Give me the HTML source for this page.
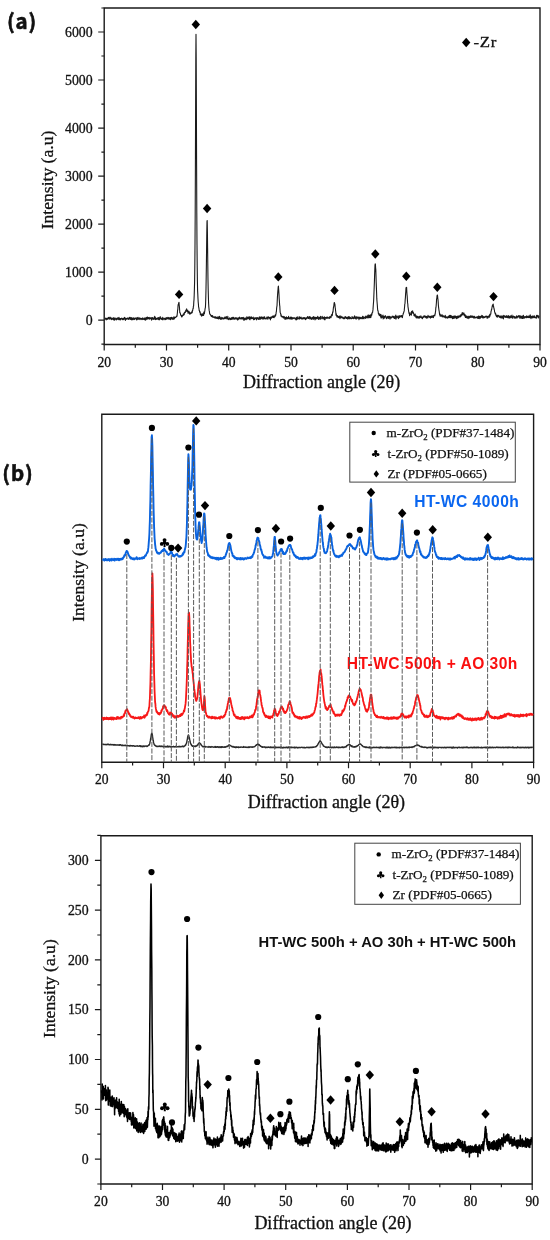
<!DOCTYPE html>
<html><head><meta charset="utf-8"><title>XRD patterns</title>
<style>html,body{margin:0;padding:0;background:#fff;}svg{display:block;}</style></head>
<body><svg width="550" height="1240" viewBox="0 0 550 1240">
<rect width="550" height="1240" fill="#fff"/>
<path d="M104.2 8.0H540.0V344.5H104.2Z" fill="none" stroke="#1a1a1a" stroke-width="1.4"/><path d="M104.2 344.5v6M135.3 344.5v3.2M166.5 344.5v6M197.6 344.5v3.2M228.7 344.5v6M259.8 344.5v3.2M291.0 344.5v6M322.1 344.5v3.2M353.2 344.5v6M384.4 344.5v3.2M415.5 344.5v6M446.6 344.5v3.2M477.7 344.5v6M508.9 344.5v3.2M540.0 344.5v6M104.2 344.2h-2.8M104.2 320.2h-6M104.2 296.2h-2.8M104.2 272.2h-6M104.2 248.2h-2.8M104.2 224.1h-6M104.2 200.1h-2.8M104.2 176.1h-6M104.2 152.1h-2.8M104.2 128.1h-6M104.2 104.1h-2.8M104.2 80.0h-6M104.2 56.0h-2.8M104.2 32.0h-6M104.2 8.0h-2.8" stroke="#1a1a1a" stroke-width="1.2" fill="none"/><g font-family="'Liberation Serif', 'Times New Roman', serif" font-size="13.8" fill="#111" stroke="#111" stroke-width="0.3" text-anchor="end"><text x="92.6" y="324.9">0</text><text x="92.6" y="276.9">1000</text><text x="92.6" y="228.8">2000</text><text x="92.6" y="180.8">3000</text><text x="92.6" y="132.8">4000</text><text x="92.6" y="84.7">5000</text><text x="92.6" y="36.7">6000</text></g><g font-family="'Liberation Serif', 'Times New Roman', serif" font-size="13.6" fill="#111" stroke="#111" stroke-width="0.3" text-anchor="middle"><text x="104.2" y="367.0">20</text><text x="166.5" y="367.0">30</text><text x="228.7" y="367.0">40</text><text x="291.0" y="367.0">50</text><text x="353.2" y="367.0">60</text><text x="415.5" y="367.0">70</text><text x="477.7" y="367.0">80</text><text x="540.0" y="367.0">90</text></g><text x="321.6" y="388.4" font-family="'Liberation Serif', 'Times New Roman', serif" font-size="18" fill="#111" stroke="#111" stroke-width="0.3" text-anchor="middle">Diffraction angle (2θ)</text><text transform="translate(53.2 180.0) rotate(-90)" font-family="'Liberation Serif', 'Times New Roman', serif" font-size="17.6" fill="#111" stroke="#111" stroke-width="0.3" text-anchor="middle">Intensity (a.u)</text><polyline points="104.8,318.9 105.0,319.1 105.2,318.7 105.4,318.2 105.6,318.5 105.8,318.1 106.0,318.9 106.2,319.9 106.4,318.5 106.6,318.4 106.8,319.2 107.0,319.1 107.2,318.9 107.4,318.2 107.6,318.8 107.8,319.4 108.0,317.9 108.2,318.5 108.4,317.4 108.6,317.9 108.8,317.5 109.0,318.7 109.2,317.9 109.4,319.1 109.6,319.0 109.8,318.7 110.0,317.0 110.2,318.5 110.4,318.8 110.6,318.9 110.8,317.7 111.0,318.5 111.2,318.1 111.4,318.2 111.6,319.6 111.8,318.2 112.0,318.8 112.2,319.5 112.4,318.4 112.6,318.8 112.8,318.9 113.0,318.9 113.2,317.9 113.4,318.9 113.6,319.9 113.8,317.7 114.0,319.5 114.2,318.9 114.4,318.4 114.6,320.3 114.8,319.4 115.0,317.9 115.2,318.9 115.4,319.3 115.6,318.7 115.8,319.3 116.0,318.8 116.2,319.3 116.4,319.9 116.6,318.3 116.8,319.0 117.0,318.5 117.2,318.9 117.4,317.9 117.6,318.4 117.8,318.7 118.0,319.5 118.2,319.7 118.4,317.8 118.6,318.2 118.8,319.3 119.0,317.3 119.2,318.5 119.4,318.7 119.6,319.8 119.8,319.3 120.0,318.6 120.2,318.5 120.4,318.6 120.6,320.0 120.8,318.5 121.0,318.6 121.2,319.1 121.4,318.7 121.6,318.7 121.8,318.0 122.0,318.8 122.2,318.5 122.4,319.7 122.6,319.3 122.8,318.8 123.0,319.3 123.2,318.6 123.4,319.6 123.6,318.8 123.8,319.2 124.0,317.8 124.2,319.1 124.4,317.5 124.6,317.3 124.8,318.6 125.0,318.1 125.2,318.9 125.4,320.5 125.6,318.2 125.8,318.3 126.0,318.9 126.2,319.2 126.4,318.7 126.6,318.6 126.8,319.3 127.0,319.2 127.2,318.0 127.4,318.7 127.6,318.8 127.8,318.0 128.0,319.0 128.2,318.1 128.4,319.5 128.6,318.9 128.8,318.9 129.0,318.3 129.2,318.7 129.4,317.3 129.6,317.9 129.8,319.1 130.0,317.2 130.2,319.4 130.4,317.5 130.6,319.3 130.8,318.1 131.0,319.4 131.2,318.9 131.4,317.6 131.6,319.7 131.8,319.9 132.0,318.7 132.2,318.6 132.4,318.6 132.6,318.0 132.8,319.6 133.0,318.4 133.2,318.7 133.4,318.2 133.6,318.3 133.8,317.8 134.0,319.7 134.2,318.6 134.4,319.5 134.6,318.8 134.8,318.2 135.0,318.5 135.2,318.3 135.4,318.8 135.6,318.5 135.8,318.5 136.0,317.7 136.2,318.1 136.4,320.0 136.6,318.2 136.8,318.0 137.0,319.0 137.2,319.8 137.4,317.7 137.6,318.6 137.8,318.3 138.0,317.4 138.2,319.3 138.4,318.7 138.6,318.8 138.8,318.2 139.0,319.1 139.2,318.3 139.4,318.6 139.6,317.9 139.8,317.8 140.0,319.7 140.2,318.3 140.4,318.9 140.6,318.7 140.8,318.4 141.0,318.3 141.2,319.2 141.4,318.5 141.6,318.6 141.8,318.7 142.0,319.6 142.2,319.2 142.4,319.0 142.6,318.3 142.8,317.7 143.0,319.4 143.2,319.4 143.4,318.6 143.6,319.1 143.8,319.3 144.0,319.3 144.2,319.4 144.4,318.4 144.6,319.8 144.8,317.8 145.0,319.3 145.2,319.1 145.4,319.4 145.6,320.1 145.8,319.8 146.0,317.8 146.2,317.4 146.4,319.3 146.6,317.9 146.8,318.7 147.0,319.3 147.2,317.5 147.4,317.1 147.6,318.9 147.8,318.7 148.0,318.5 148.2,318.7 148.4,318.0 148.6,317.5 148.8,318.6 149.0,317.9 149.2,317.4 149.4,319.1 149.6,318.6 149.8,319.0 150.0,317.9 150.2,318.2 150.4,317.9 150.6,318.0 150.8,318.8 151.0,318.1 151.2,318.9 151.4,318.9 151.6,320.2 151.8,317.6 152.0,319.3 152.2,318.6 152.4,318.6 152.6,317.6 152.8,318.3 153.0,319.2 153.2,318.6 153.4,318.7 153.6,318.4 153.8,319.5 154.0,318.6 154.2,317.0 154.4,318.1 154.6,317.2 154.8,316.2 155.0,318.2 155.2,319.6 155.4,318.7 155.6,317.7 155.8,317.9 156.0,319.5 156.2,318.7 156.4,318.7 156.6,318.6 156.8,318.6 157.0,319.2 157.2,319.0 157.4,318.8 157.6,317.8 157.8,319.0 158.0,318.1 158.2,319.4 158.4,317.6 158.6,318.5 158.8,318.6 159.0,317.6 159.2,319.9 159.4,319.7 159.6,318.2 159.8,319.2 160.0,318.9 160.2,316.6 160.4,318.8 160.6,318.5 160.8,318.6 161.0,317.8 161.2,318.4 161.4,318.4 161.6,319.4 161.8,318.8 162.0,318.5 162.2,319.7 162.4,318.1 162.6,318.2 162.8,317.2 163.0,319.7 163.2,319.2 163.4,319.2 163.6,319.0 163.8,318.6 164.0,318.7 164.2,318.3 164.4,318.3 164.6,318.5 164.8,319.6 165.0,318.9 165.2,318.4 165.4,318.0 165.6,318.0 165.8,319.7 166.0,318.8 166.2,318.5 166.4,318.2 166.6,317.6 166.8,318.4 167.0,319.1 167.2,318.1 167.4,318.3 167.6,318.3 167.8,318.5 168.0,317.2 168.2,318.2 168.4,317.7 168.6,319.0 168.8,317.8 169.0,318.8 169.2,319.5 169.4,318.1 169.6,317.9 169.8,318.5 170.0,318.3 170.2,317.6 170.4,318.6 170.6,319.8 170.8,318.1 171.0,318.1 171.2,317.5 171.4,318.5 171.6,317.3 171.8,317.4 172.0,319.1 172.2,317.5 172.4,318.9 172.6,319.3 172.8,318.3 173.0,318.5 173.2,319.5 173.4,317.9 173.6,317.5 173.8,316.9 174.0,317.9 174.2,319.0 174.4,318.5 174.6,317.0 174.8,317.0 175.0,317.2 175.2,317.8 175.4,317.3 175.6,317.5 175.8,317.4 176.0,316.8 176.2,316.8 176.4,316.7 176.6,316.1 176.8,316.0 177.0,316.3 177.2,314.4 177.4,312.8 177.6,310.0 177.8,309.8 178.0,306.0 178.2,304.4 178.4,304.4 178.6,303.3 178.8,302.6 179.0,302.4 179.2,305.1 179.4,306.8 179.6,309.7 179.8,312.6 180.0,312.5 180.2,312.9 180.4,313.5 180.6,315.0 180.8,315.3 181.0,314.9 181.2,316.0 181.4,315.2 181.6,316.9 181.8,316.9 182.0,316.8 182.2,315.6 182.4,316.2 182.6,315.6 182.8,315.3 183.0,315.2 183.2,314.2 183.4,313.9 183.6,315.3 183.8,314.3 184.0,314.3 184.2,314.6 184.4,312.2 184.6,312.6 184.8,312.9 185.0,312.7 185.2,311.8 185.4,312.5 185.6,311.6 185.8,310.2 186.0,310.1 186.2,311.2 186.4,310.8 186.6,308.9 186.8,311.3 187.0,310.8 187.2,311.4 187.4,310.3 187.6,310.6 187.8,310.2 188.0,313.2 188.2,311.4 188.4,313.0 188.6,311.6 188.8,312.5 189.0,311.4 189.2,312.6 189.4,313.8 189.6,312.3 189.8,314.2 190.0,313.8 190.2,312.8 190.4,313.3 190.6,313.3 190.8,313.6 191.0,313.2 191.2,312.9 191.4,313.1 191.6,312.3 191.8,311.8 192.0,312.4 192.2,312.7 192.4,310.3 192.6,310.9 192.8,309.6 193.0,308.4 193.2,308.6 193.4,306.1 193.6,305.9 193.8,301.9 194.0,299.8 194.2,295.3 194.4,289.1 194.6,281.4 194.8,267.0 195.0,245.8 195.2,212.4 195.4,165.9 195.6,110.5 195.8,57.2 196.0,34.3 196.2,56.5 196.4,110.5 196.6,165.4 196.8,213.0 197.0,244.6 197.2,265.8 197.4,281.0 197.6,290.6 197.8,294.4 198.0,298.8 198.2,302.0 198.4,304.0 198.6,307.0 198.8,307.5 199.0,308.8 199.2,310.7 199.4,310.5 199.6,312.1 199.8,311.6 200.0,311.9 200.2,311.9 200.4,315.0 200.6,313.7 200.8,314.3 201.0,314.3 201.2,314.7 201.4,314.7 201.6,316.2 201.8,314.1 202.0,313.8 202.2,314.2 202.4,314.0 202.6,315.5 202.8,315.6 203.0,314.1 203.2,313.7 203.4,314.3 203.6,315.5 203.8,312.1 204.0,314.3 204.2,312.7 204.4,313.8 204.6,311.6 204.8,311.3 205.0,309.3 205.2,308.1 205.4,307.5 205.6,303.5 205.8,297.1 206.0,288.7 206.2,276.8 206.4,263.7 206.6,247.6 206.8,231.7 207.0,221.3 207.2,220.5 207.4,231.7 207.6,247.7 207.8,265.1 208.0,279.9 208.2,289.5 208.4,297.1 208.6,303.2 208.8,306.5 209.0,308.8 209.2,310.9 209.4,311.4 209.6,313.5 209.8,313.6 210.0,314.5 210.2,314.6 210.4,314.6 210.6,314.7 210.8,315.6 211.0,315.6 211.2,316.4 211.4,316.4 211.6,315.5 211.8,316.7 212.0,315.8 212.2,316.4 212.4,316.8 212.6,315.5 212.8,317.2 213.0,317.4 213.2,317.2 213.4,317.1 213.6,317.2 213.8,316.8 214.0,317.3 214.2,317.2 214.4,317.7 214.6,316.8 214.8,317.9 215.0,317.8 215.2,317.7 215.4,317.5 215.6,318.2 215.8,316.6 216.0,318.2 216.2,318.1 216.4,318.1 216.6,318.2 216.8,317.5 217.0,317.8 217.2,318.5 217.4,318.3 217.6,318.2 217.8,316.9 218.0,318.4 218.2,318.9 218.4,318.8 218.6,318.3 218.8,316.9 219.0,318.8 219.2,318.0 219.4,316.2 219.6,318.4 219.8,317.0 220.0,317.2 220.2,317.7 220.4,319.1 220.6,317.9 220.8,318.4 221.0,319.5 221.2,319.4 221.4,318.1 221.6,318.0 221.8,317.3 222.0,317.7 222.2,318.5 222.4,318.5 222.6,318.3 222.8,319.0 223.0,317.7 223.2,318.2 223.4,318.8 223.6,318.7 223.8,319.1 224.0,318.6 224.2,318.0 224.4,318.5 224.6,317.5 224.8,317.1 225.0,318.7 225.2,318.2 225.4,318.5 225.6,317.0 225.8,318.0 226.0,317.8 226.2,317.7 226.4,316.6 226.6,318.1 226.8,319.0 227.0,318.6 227.2,317.9 227.4,318.3 227.6,318.9 227.8,316.2 228.0,318.2 228.2,318.7 228.4,318.8 228.6,319.6 228.8,319.2 229.0,318.6 229.2,318.6 229.4,318.9 229.6,317.9 229.8,318.3 230.0,319.0 230.2,319.8 230.4,318.2 230.6,318.3 230.8,318.5 231.0,319.4 231.2,318.3 231.4,319.4 231.6,317.6 231.8,318.2 232.0,318.2 232.2,318.9 232.4,319.1 232.6,317.2 232.8,317.7 233.0,318.6 233.2,317.9 233.4,317.2 233.6,319.1 233.8,318.7 234.0,318.7 234.2,318.0 234.4,319.1 234.6,318.2 234.8,319.2 235.0,317.7 235.2,317.7 235.4,318.5 235.6,317.8 235.8,318.9 236.0,318.6 236.2,317.7 236.4,318.4 236.6,318.1 236.8,319.1 237.0,317.9 237.2,318.0 237.4,319.3 237.6,320.0 237.8,319.9 238.0,318.4 238.2,318.5 238.4,319.5 238.6,318.3 238.8,317.6 239.0,318.5 239.2,318.7 239.4,317.7 239.6,317.1 239.8,317.3 240.0,318.9 240.2,317.8 240.4,318.3 240.6,318.5 240.8,318.8 241.0,318.1 241.2,318.7 241.4,317.7 241.6,318.1 241.8,317.6 242.0,319.2 242.2,318.3 242.4,317.8 242.6,318.1 242.8,318.2 243.0,318.9 243.2,317.2 243.4,317.6 243.6,318.1 243.8,320.3 244.0,319.1 244.2,318.3 244.4,318.9 244.6,319.9 244.8,318.2 245.0,318.1 245.2,319.3 245.4,318.7 245.6,318.9 245.8,318.0 246.0,319.8 246.2,319.6 246.4,318.8 246.6,318.9 246.8,316.8 247.0,318.8 247.2,318.2 247.4,318.7 247.6,318.9 247.8,318.1 248.0,317.1 248.2,318.6 248.4,317.8 248.6,318.1 248.8,317.9 249.0,318.1 249.2,316.6 249.4,319.3 249.6,318.5 249.8,319.2 250.0,319.8 250.2,318.4 250.4,317.0 250.6,317.7 250.8,317.4 251.0,318.0 251.2,318.4 251.4,316.8 251.6,318.6 251.8,317.2 252.0,318.6 252.2,318.3 252.4,318.1 252.6,318.3 252.8,317.9 253.0,317.9 253.2,317.1 253.4,318.3 253.6,319.7 253.8,319.8 254.0,319.3 254.2,318.9 254.4,317.8 254.6,319.4 254.8,318.3 255.0,318.3 255.2,318.1 255.4,318.4 255.6,318.0 255.8,318.3 256.0,317.5 256.2,318.0 256.4,320.0 256.6,318.3 256.8,318.1 257.0,318.7 257.2,318.8 257.4,317.5 257.6,318.2 257.8,319.0 258.0,318.5 258.2,318.4 258.4,319.5 258.6,317.8 258.8,318.4 259.0,317.9 259.2,319.4 259.4,316.8 259.6,317.8 259.8,317.9 260.0,318.8 260.2,318.7 260.4,319.3 260.6,317.1 260.8,318.8 261.0,318.1 261.2,317.8 261.4,318.7 261.6,317.6 261.8,316.7 262.0,318.0 262.2,317.1 262.4,317.8 262.6,318.5 262.8,318.5 263.0,319.4 263.2,318.1 263.4,317.1 263.6,317.7 263.8,317.5 264.0,317.3 264.2,318.6 264.4,317.7 264.6,316.7 264.8,318.7 265.0,318.1 265.2,318.5 265.4,318.3 265.6,318.7 265.8,318.2 266.0,319.1 266.2,318.5 266.4,318.5 266.6,318.5 266.8,317.1 267.0,318.0 267.2,317.9 267.4,318.3 267.6,317.1 267.8,319.3 268.0,318.2 268.2,317.2 268.4,316.8 268.6,317.9 268.8,318.0 269.0,317.5 269.2,318.1 269.4,317.5 269.6,318.4 269.8,317.4 270.0,317.9 270.2,318.7 270.4,319.9 270.6,317.2 270.8,317.5 271.0,317.2 271.2,318.4 271.4,316.9 271.6,317.4 271.8,317.7 272.0,317.0 272.2,316.9 272.4,317.2 272.6,316.0 272.8,316.4 273.0,317.1 273.2,317.5 273.4,317.1 273.6,315.9 273.8,316.8 274.0,317.6 274.2,317.3 274.4,316.7 274.6,315.9 274.8,316.8 275.0,315.7 275.2,314.9 275.4,314.8 275.6,316.0 275.8,314.4 276.0,314.2 276.2,311.9 276.4,311.5 276.6,308.6 276.8,306.7 277.0,306.1 277.2,301.8 277.4,297.5 277.6,294.4 277.8,291.5 278.0,289.6 278.2,286.9 278.4,286.0 278.6,288.5 278.8,291.3 279.0,294.6 279.2,298.9 279.4,301.4 279.6,304.8 279.8,306.0 280.0,309.7 280.2,312.4 280.4,312.8 280.6,313.5 280.8,314.3 281.0,316.2 281.2,314.7 281.4,315.7 281.6,316.4 281.8,316.9 282.0,316.2 282.2,316.9 282.4,316.6 282.6,317.1 282.8,317.0 283.0,316.3 283.2,317.2 283.4,318.0 283.6,316.7 283.8,317.3 284.0,318.0 284.2,316.8 284.4,317.8 284.6,316.9 284.8,318.5 285.0,319.5 285.2,319.3 285.4,317.6 285.6,318.4 285.8,317.9 286.0,317.9 286.2,319.0 286.4,316.9 286.6,318.7 286.8,317.9 287.0,319.0 287.2,318.1 287.4,317.5 287.6,318.2 287.8,318.6 288.0,318.0 288.2,318.4 288.4,317.6 288.6,316.4 288.8,318.7 289.0,318.6 289.2,318.2 289.4,318.1 289.6,318.9 289.8,317.8 290.0,317.6 290.2,318.0 290.4,319.0 290.6,317.1 290.8,319.0 291.0,317.6 291.2,317.3 291.4,319.1 291.6,318.1 291.8,317.2 292.0,317.9 292.2,318.8 292.4,319.0 292.6,317.8 292.8,318.5 293.0,318.7 293.2,317.7 293.4,318.4 293.6,318.1 293.8,317.8 294.0,317.8 294.2,318.2 294.4,318.2 294.6,317.8 294.8,317.9 295.0,319.0 295.2,318.3 295.4,318.8 295.6,319.1 295.8,318.6 296.0,319.9 296.2,317.6 296.4,318.8 296.6,318.0 296.8,319.6 297.0,319.5 297.2,316.7 297.4,317.5 297.6,318.7 297.8,318.8 298.0,318.8 298.2,318.1 298.4,318.5 298.6,318.7 298.8,318.1 299.0,319.0 299.2,316.5 299.4,318.7 299.6,317.4 299.8,318.9 300.0,318.0 300.2,317.5 300.4,318.5 300.6,317.5 300.8,317.5 301.0,317.0 301.2,318.2 301.4,318.6 301.6,319.0 301.8,318.1 302.0,319.0 302.2,318.2 302.4,318.1 302.6,318.6 302.8,319.0 303.0,317.9 303.2,318.0 303.4,318.1 303.6,318.3 303.8,317.5 304.0,319.0 304.2,317.9 304.4,318.5 304.6,317.6 304.8,318.5 305.0,318.5 305.2,317.9 305.4,319.7 305.6,318.5 305.8,319.5 306.0,318.9 306.2,317.7 306.4,317.9 306.6,318.5 306.8,318.2 307.0,318.2 307.2,318.0 307.4,316.8 307.6,318.0 307.8,316.5 308.0,318.4 308.2,317.6 308.4,317.6 308.6,318.0 308.8,318.4 309.0,317.1 309.2,316.8 309.4,317.4 309.6,316.6 309.8,317.4 310.0,319.3 310.2,317.4 310.4,318.6 310.6,317.1 310.8,318.4 311.0,317.9 311.2,318.1 311.4,318.6 311.6,319.5 311.8,318.3 312.0,318.2 312.2,317.4 312.4,318.6 312.6,317.9 312.8,318.8 313.0,318.1 313.2,319.4 313.4,316.6 313.6,317.9 313.8,318.8 314.0,317.9 314.2,317.5 314.4,317.9 314.6,317.1 314.8,318.2 315.0,319.9 315.2,319.0 315.4,317.3 315.6,317.4 315.8,317.8 316.0,318.9 316.2,317.5 316.4,317.6 316.6,318.8 316.8,318.7 317.0,317.8 317.2,317.2 317.4,316.9 317.6,317.6 317.8,316.4 318.0,318.6 318.2,317.6 318.4,318.4 318.6,319.5 318.8,318.9 319.0,317.2 319.2,318.7 319.4,318.9 319.6,317.5 319.8,317.3 320.0,318.0 320.2,316.8 320.4,319.1 320.6,316.2 320.8,317.2 321.0,317.8 321.2,317.9 321.4,318.1 321.6,318.2 321.8,317.9 322.0,318.9 322.2,316.4 322.4,318.0 322.6,317.5 322.8,318.1 323.0,318.2 323.2,317.3 323.4,317.5 323.6,318.6 323.8,318.2 324.0,317.4 324.2,319.5 324.4,319.7 324.6,316.8 324.8,318.2 325.0,319.8 325.2,318.5 325.4,318.1 325.6,317.7 325.8,317.5 326.0,317.7 326.2,317.5 326.4,318.4 326.6,317.5 326.8,317.5 327.0,316.9 327.2,317.8 327.4,317.1 327.6,317.6 327.8,318.5 328.0,318.0 328.2,318.1 328.4,317.9 328.6,317.7 328.8,317.5 329.0,317.4 329.2,318.1 329.4,316.7 329.6,318.5 329.8,317.4 330.0,316.8 330.2,316.9 330.4,316.7 330.6,317.2 330.8,316.5 331.0,317.8 331.2,316.2 331.4,314.8 331.6,315.7 331.8,314.4 332.0,315.5 332.2,315.7 332.4,314.7 332.6,312.3 332.8,311.6 333.0,312.2 333.2,309.6 333.4,307.7 333.6,306.8 333.8,306.3 334.0,304.1 334.2,302.5 334.4,302.7 334.6,303.6 334.8,303.9 335.0,305.2 335.2,307.8 335.4,308.7 335.6,310.8 335.8,312.3 336.0,315.1 336.2,313.6 336.4,314.8 336.6,315.4 336.8,316.2 337.0,317.0 337.2,316.1 337.4,316.1 337.6,315.6 337.8,316.3 338.0,317.5 338.2,317.2 338.4,316.5 338.6,317.0 338.8,317.4 339.0,317.8 339.2,317.0 339.4,317.3 339.6,316.1 339.8,316.7 340.0,318.8 340.2,315.9 340.4,317.3 340.6,317.8 340.8,317.4 341.0,317.0 341.2,317.6 341.4,317.7 341.6,317.6 341.8,316.3 342.0,317.6 342.2,317.1 342.4,317.3 342.6,317.9 342.8,318.2 343.0,318.4 343.2,317.4 343.4,318.5 343.6,318.6 343.8,318.6 344.0,318.8 344.2,317.7 344.4,317.7 344.6,318.4 344.8,316.8 345.0,317.9 345.2,317.4 345.4,317.5 345.6,316.5 345.8,317.1 346.0,317.8 346.2,318.5 346.4,318.5 346.6,317.7 346.8,317.7 347.0,317.2 347.2,318.1 347.4,317.6 347.6,318.3 347.8,319.1 348.0,317.8 348.2,316.7 348.4,317.2 348.6,316.7 348.8,316.9 349.0,318.8 349.2,318.0 349.4,316.7 349.6,318.3 349.8,318.7 350.0,317.5 350.2,317.3 350.4,317.5 350.6,318.0 350.8,318.3 351.0,318.7 351.2,318.7 351.4,318.7 351.6,318.8 351.8,318.3 352.0,316.6 352.2,317.7 352.4,318.0 352.6,317.5 352.8,318.5 353.0,317.5 353.2,317.1 353.4,318.8 353.6,318.3 353.8,317.9 354.0,318.5 354.2,318.5 354.4,318.0 354.6,315.9 354.8,317.2 355.0,317.4 355.2,317.0 355.4,317.9 355.6,318.6 355.8,317.4 356.0,316.9 356.2,319.2 356.4,317.4 356.6,316.8 356.8,317.9 357.0,318.0 357.2,317.2 357.4,318.3 357.6,317.3 357.8,317.0 358.0,317.8 358.2,318.3 358.4,317.2 358.6,317.9 358.8,317.6 359.0,319.8 359.2,317.1 359.4,318.7 359.6,317.6 359.8,317.5 360.0,318.2 360.2,318.3 360.4,318.6 360.6,317.9 360.8,317.2 361.0,317.2 361.2,318.0 361.4,318.0 361.6,318.6 361.8,317.9 362.0,318.3 362.2,318.7 362.4,317.7 362.6,316.4 362.8,316.6 363.0,316.4 363.2,318.7 363.4,316.8 363.6,318.4 363.8,317.9 364.0,318.7 364.2,318.2 364.4,317.3 364.6,317.2 364.8,317.4 365.0,317.5 365.2,316.9 365.4,317.3 365.6,318.5 365.8,316.0 366.0,317.4 366.2,316.5 366.4,317.3 366.6,317.8 366.8,317.1 367.0,317.7 367.2,315.9 367.4,317.9 367.6,316.6 367.8,317.4 368.0,317.1 368.2,314.9 368.4,316.2 368.6,316.9 368.8,317.9 369.0,316.8 369.2,316.7 369.4,315.4 369.6,317.5 369.8,317.6 370.0,316.2 370.2,315.9 370.4,314.7 370.6,316.4 370.8,317.6 371.0,315.9 371.2,316.1 371.4,315.3 371.6,313.9 371.8,315.3 372.0,312.9 372.2,313.1 372.4,312.8 372.6,312.4 372.8,310.9 373.0,309.4 373.2,306.5 373.4,303.7 373.6,301.5 373.8,297.1 374.0,292.1 374.2,286.9 374.4,281.8 374.6,274.9 374.8,269.7 375.0,265.0 375.2,263.9 375.4,264.0 375.6,267.7 375.8,269.6 376.0,275.7 376.2,282.8 376.4,287.7 376.6,292.8 376.8,298.9 377.0,301.2 377.2,303.7 377.4,306.1 377.6,309.3 377.8,310.8 378.0,310.6 378.2,311.8 378.4,313.6 378.6,314.2 378.8,313.7 379.0,315.0 379.2,315.3 379.4,313.8 379.6,315.1 379.8,315.8 380.0,315.2 380.2,314.2 380.4,315.7 380.6,316.6 380.8,317.4 381.0,314.6 381.2,318.3 381.4,315.6 381.6,317.2 381.8,317.5 382.0,317.4 382.2,316.8 382.4,315.9 382.6,317.3 382.8,316.3 383.0,315.0 383.2,319.0 383.4,317.5 383.6,318.3 383.8,316.3 384.0,318.1 384.2,318.2 384.4,318.2 384.6,317.1 384.8,316.2 385.0,317.0 385.2,315.5 385.4,315.9 385.6,317.2 385.8,316.4 386.0,317.1 386.2,317.1 386.4,318.7 386.6,318.2 386.8,317.2 387.0,318.1 387.2,316.7 387.4,317.0 387.6,317.9 387.8,316.3 388.0,317.1 388.2,316.3 388.4,317.4 388.6,318.5 388.8,316.7 389.0,317.5 389.2,316.6 389.4,316.4 389.6,316.4 389.8,318.4 390.0,319.1 390.2,317.7 390.4,316.8 390.6,317.8 390.8,317.1 391.0,317.9 391.2,317.5 391.4,317.5 391.6,317.8 391.8,316.9 392.0,317.0 392.2,316.0 392.4,317.0 392.6,316.2 392.8,317.2 393.0,316.6 393.2,317.4 393.4,317.6 393.6,316.2 393.8,316.7 394.0,316.6 394.2,317.8 394.4,318.5 394.6,317.9 394.8,317.0 395.0,318.3 395.2,316.1 395.4,318.3 395.6,316.7 395.8,315.1 396.0,319.2 396.2,318.4 396.4,316.4 396.6,317.3 396.8,317.0 397.0,317.2 397.2,316.0 397.4,316.6 397.6,317.4 397.8,317.2 398.0,317.9 398.2,317.1 398.4,318.7 398.6,316.4 398.8,317.1 399.0,315.5 399.2,315.9 399.4,317.8 399.6,316.1 399.8,317.1 400.0,316.7 400.2,315.9 400.4,316.3 400.6,316.2 400.8,316.1 401.0,317.0 401.2,316.8 401.4,315.8 401.6,315.5 401.8,316.2 402.0,315.8 402.2,316.5 402.4,317.6 402.6,316.0 402.8,315.1 403.0,314.7 403.2,313.8 403.4,313.3 403.6,312.6 403.8,312.3 404.0,311.3 404.2,310.9 404.4,308.5 404.6,306.8 404.8,303.8 405.0,303.4 405.2,299.6 405.4,297.6 405.6,293.8 405.8,291.5 406.0,288.0 406.2,287.5 406.4,289.0 406.6,287.2 406.8,291.2 407.0,294.4 407.2,296.4 407.4,299.7 407.6,302.9 407.8,304.0 408.0,307.0 408.2,307.9 408.4,309.5 408.6,310.8 408.8,312.1 409.0,313.0 409.2,313.8 409.4,312.7 409.6,315.6 409.8,315.1 410.0,314.9 410.2,314.0 410.4,314.2 410.6,314.5 410.8,314.2 411.0,312.3 411.2,313.9 411.4,315.2 411.6,311.2 411.8,313.0 412.0,312.2 412.2,311.6 412.4,312.7 412.6,310.7 412.8,312.0 413.0,313.3 413.2,312.4 413.4,312.7 413.6,313.6 413.8,313.6 414.0,315.6 414.2,314.1 414.4,315.8 414.6,314.5 414.8,316.2 415.0,315.8 415.2,314.1 415.4,316.3 415.6,315.6 415.8,316.2 416.0,317.8 416.2,315.8 416.4,315.9 416.6,317.9 416.8,316.9 417.0,318.0 417.2,317.1 417.4,316.2 417.6,316.9 417.8,317.9 418.0,317.7 418.2,317.0 418.4,317.0 418.6,316.9 418.8,316.6 419.0,318.5 419.2,317.1 419.4,316.2 419.6,316.7 419.8,317.7 420.0,317.6 420.2,317.0 420.4,316.6 420.6,317.1 420.8,315.8 421.0,316.1 421.2,317.8 421.4,316.8 421.6,317.4 421.8,318.1 422.0,317.7 422.2,317.2 422.4,318.8 422.6,317.7 422.8,316.9 423.0,317.7 423.2,317.5 423.4,316.5 423.6,317.2 423.8,317.0 424.0,315.7 424.2,317.0 424.4,317.0 424.6,316.8 424.8,315.9 425.0,316.9 425.2,317.1 425.4,317.2 425.6,316.3 425.8,317.6 426.0,316.2 426.2,317.0 426.4,318.2 426.6,316.6 426.8,316.7 427.0,318.0 427.2,316.8 427.4,316.9 427.6,317.3 427.8,317.9 428.0,315.4 428.2,316.4 428.4,316.3 428.6,316.2 428.8,316.4 429.0,316.4 429.2,317.3 429.4,316.3 429.6,317.1 429.8,317.3 430.0,316.4 430.2,317.1 430.4,318.2 430.6,317.2 430.8,316.4 431.0,316.8 431.2,316.1 431.4,317.0 431.6,317.4 431.8,316.1 432.0,316.5 432.2,317.5 432.4,316.2 432.6,316.7 432.8,315.7 433.0,315.7 433.2,315.9 433.4,317.8 433.6,315.7 433.8,315.5 434.0,315.3 434.2,315.4 434.4,315.7 434.6,315.0 434.8,315.9 435.0,313.9 435.2,314.1 435.4,312.2 435.6,311.2 435.8,308.1 436.0,307.2 436.2,305.1 436.4,302.7 436.6,298.8 436.8,298.8 437.0,296.1 437.2,295.0 437.4,295.1 437.6,296.2 437.8,298.5 438.0,299.5 438.2,302.1 438.4,305.4 438.6,307.4 438.8,308.9 439.0,310.3 439.2,311.3 439.4,312.9 439.6,314.7 439.8,313.6 440.0,316.0 440.2,315.8 440.4,315.1 440.6,316.3 440.8,314.8 441.0,314.7 441.2,315.2 441.4,315.9 441.6,316.1 441.8,316.0 442.0,316.6 442.2,314.9 442.4,317.0 442.6,315.6 442.8,316.2 443.0,316.4 443.2,315.9 443.4,315.8 443.6,316.1 443.8,316.8 444.0,317.3 444.2,317.3 444.4,316.2 444.6,316.3 444.8,316.2 445.0,317.3 445.2,315.4 445.4,317.9 445.6,316.6 445.8,316.4 446.0,317.3 446.2,317.8 446.4,317.3 446.6,317.8 446.8,317.1 447.0,318.0 447.2,318.0 447.4,317.0 447.6,318.2 447.8,317.2 448.0,317.1 448.2,316.4 448.4,316.9 448.6,317.7 448.8,316.1 449.0,317.6 449.2,317.4 449.4,317.3 449.6,315.4 449.8,317.0 450.0,317.6 450.2,316.5 450.4,317.2 450.6,315.3 450.8,317.6 451.0,316.6 451.2,317.8 451.4,315.7 451.6,317.6 451.8,316.9 452.0,317.7 452.2,316.4 452.4,316.6 452.6,318.8 452.8,316.5 453.0,316.6 453.2,316.9 453.4,316.3 453.6,318.0 453.8,318.4 454.0,316.6 454.2,315.8 454.4,318.0 454.6,317.9 454.8,317.7 455.0,317.9 455.2,316.4 455.4,316.9 455.6,316.0 455.8,316.0 456.0,317.8 456.2,316.5 456.4,318.7 456.6,317.1 456.8,316.5 457.0,317.6 457.2,318.3 457.4,317.3 457.6,316.0 457.8,317.2 458.0,317.9 458.2,316.5 458.4,316.2 458.6,317.5 458.8,316.8 459.0,315.8 459.2,316.3 459.4,316.0 459.6,316.7 459.8,316.4 460.0,317.1 460.2,316.6 460.4,314.8 460.6,316.1 460.8,316.3 461.0,315.7 461.2,316.0 461.4,314.6 461.6,314.1 461.8,315.3 462.0,313.6 462.2,312.6 462.4,314.9 462.6,313.5 462.8,313.8 463.0,313.0 463.2,313.1 463.4,313.4 463.6,314.1 463.8,314.9 464.0,313.1 464.2,315.5 464.4,314.3 464.6,314.6 464.8,316.1 465.0,315.7 465.2,314.8 465.4,317.4 465.6,315.5 465.8,316.5 466.0,316.6 466.2,317.6 466.4,316.2 466.6,317.4 466.8,316.1 467.0,317.6 467.2,316.2 467.4,316.5 467.6,318.3 467.8,317.1 468.0,317.0 468.2,318.6 468.4,317.2 468.6,316.3 468.8,317.5 469.0,316.1 469.2,317.8 469.4,317.9 469.6,316.6 469.8,316.5 470.0,317.1 470.2,317.0 470.4,316.3 470.6,317.4 470.8,315.5 471.0,316.7 471.2,316.7 471.4,316.8 471.6,317.3 471.8,316.1 472.0,317.5 472.2,316.9 472.4,316.5 472.6,316.0 472.8,316.1 473.0,317.3 473.2,316.3 473.4,317.1 473.6,317.8 473.8,317.8 474.0,318.2 474.2,316.8 474.4,316.2 474.6,317.8 474.8,317.3 475.0,317.9 475.2,317.0 475.4,317.9 475.6,317.7 475.8,317.6 476.0,317.4 476.2,317.3 476.4,317.2 476.6,317.2 476.8,317.8 477.0,316.6 477.2,318.3 477.4,316.9 477.6,317.8 477.8,316.9 478.0,316.8 478.2,318.5 478.4,316.8 478.6,316.0 478.8,316.5 479.0,316.8 479.2,318.6 479.4,317.1 479.6,317.7 479.8,316.2 480.0,317.2 480.2,317.5 480.4,318.3 480.6,316.4 480.8,317.4 481.0,317.2 481.2,316.2 481.4,316.9 481.6,316.8 481.8,315.2 482.0,317.4 482.2,317.3 482.4,316.6 482.6,315.9 482.8,318.0 483.0,317.1 483.2,317.7 483.4,317.9 483.6,316.5 483.8,317.5 484.0,316.7 484.2,316.8 484.4,316.8 484.6,316.8 484.8,317.6 485.0,316.9 485.2,316.7 485.4,316.6 485.6,317.0 485.8,316.1 486.0,316.3 486.2,316.6 486.4,316.2 486.6,316.5 486.8,316.2 487.0,318.1 487.2,317.5 487.4,316.8 487.6,316.4 487.8,318.1 488.0,316.6 488.2,316.2 488.4,316.5 488.6,316.4 488.8,317.1 489.0,315.9 489.2,317.4 489.4,315.0 489.6,316.0 489.8,314.4 490.0,316.3 490.2,314.3 490.4,314.0 490.6,314.3 490.8,313.9 491.0,311.4 491.2,311.2 491.4,309.6 491.6,309.8 491.8,308.7 492.0,307.5 492.2,306.3 492.4,305.8 492.6,304.9 492.8,305.5 493.0,306.3 493.2,304.0 493.4,306.0 493.6,306.5 493.8,308.1 494.0,308.0 494.2,309.6 494.4,309.8 494.6,312.0 494.8,312.3 495.0,312.8 495.2,313.8 495.4,313.9 495.6,313.3 495.8,315.3 496.0,315.4 496.2,315.3 496.4,316.4 496.6,316.7 496.8,315.1 497.0,315.4 497.2,317.3 497.4,317.3 497.6,315.7 497.8,315.4 498.0,315.9 498.2,316.0 498.4,315.3 498.6,316.5 498.8,315.6 499.0,315.6 499.2,317.3 499.4,316.1 499.6,316.6 499.8,317.1 500.0,317.3 500.2,316.4 500.4,316.7 500.6,316.1 500.8,318.0 501.0,317.2 501.2,315.9 501.4,316.8 501.6,317.3 501.8,317.1 502.0,318.2 502.2,317.8 502.4,316.4 502.6,316.7 502.8,315.9 503.0,317.0 503.2,316.9 503.4,318.9 503.6,316.9 503.8,315.3 504.0,316.3 504.2,316.9 504.4,315.9 504.6,316.2 504.8,316.6 505.0,317.1 505.2,316.7 505.4,316.2 505.6,317.5 505.8,316.5 506.0,316.5 506.2,315.8 506.4,316.3 506.6,317.4 506.8,315.7 507.0,316.8 507.2,317.4 507.4,316.6 507.6,317.1 507.8,316.0 508.0,317.9 508.2,317.7 508.4,317.1 508.6,315.6 508.8,316.1 509.0,317.6 509.2,318.2 509.4,317.1 509.6,317.8 509.8,316.4 510.0,316.8 510.2,316.9 510.4,317.2 510.6,315.7 510.8,317.6 511.0,317.9 511.2,316.0 511.4,315.9 511.6,317.2 511.8,316.4 512.0,315.1 512.2,317.5 512.4,317.0 512.6,316.5 512.8,318.5 513.0,317.0 513.2,316.3 513.4,317.0 513.6,316.1 513.8,316.3 514.0,317.2 514.2,316.5 514.4,316.6 514.6,318.1 514.8,317.5 515.0,317.5 515.2,317.3 515.4,317.3 515.6,318.0 515.8,316.9 516.0,318.3 516.2,316.2 516.4,316.7 516.6,315.9 516.8,316.6 517.0,317.3 517.2,318.0 517.4,316.4 517.6,316.9 517.8,316.6 518.0,316.3 518.2,316.0 518.4,316.9 518.6,315.6 518.8,317.0 519.0,316.9 519.2,316.4 519.4,316.1 519.6,315.8 519.8,318.3 520.0,315.9 520.2,318.0 520.4,317.3 520.6,316.6 520.8,316.0 521.0,317.7 521.2,318.2 521.4,316.2 521.6,316.6 521.8,317.7 522.0,317.1 522.2,318.4 522.4,316.4 522.6,317.3 522.8,315.9 523.0,318.4 523.2,316.3 523.4,315.2 523.6,316.8 523.8,316.8 524.0,318.3 524.2,316.6 524.4,316.8 524.6,317.3 524.8,318.0 525.0,316.8 525.2,317.6 525.4,317.2 525.6,316.6 525.8,316.9 526.0,316.9 526.2,316.2 526.4,317.8 526.6,315.8 526.8,317.7 527.0,317.6 527.2,316.8 527.4,316.3 527.6,316.7 527.8,317.2 528.0,317.4 528.2,317.1 528.4,317.6 528.6,316.4 528.8,317.0 529.0,315.7 529.2,317.4 529.4,317.0 529.6,316.5 529.8,317.7 530.0,317.4 530.2,314.7 530.4,316.9 530.6,315.7 530.8,317.6 531.0,318.7 531.2,316.4 531.4,316.9 531.6,316.6 531.8,317.1 532.0,317.3 532.2,317.8 532.4,316.1 532.6,318.0 532.8,316.1 533.0,317.0 533.2,317.7 533.4,317.4 533.6,316.1 533.8,316.3 534.0,316.5 534.2,316.8 534.4,317.7 534.6,315.8 534.8,317.2 535.0,317.3 535.2,317.2 535.4,317.2 535.6,317.9 535.8,317.2 536.0,317.4 536.2,317.2 536.4,318.1 536.6,315.4 536.8,317.8 537.0,316.6 537.2,316.6 537.4,316.1 537.6,315.4 537.8,316.5 538.0,316.3 538.2,317.2 538.4,315.7 538.6,317.9 538.8,317.0 539.0,316.6 539.2,316.3 539.4,316.2" fill="none" stroke="#1a1a1a" stroke-width="1.1" stroke-linejoin="round"/><g fill="#000"><path d="M179.1 289.7L183.3 294.4L179.1 299.1L174.9 294.4Z"/><path d="M195.8 19.8L200.0 24.5L195.8 29.2L191.6 24.5Z"/><path d="M207.1 203.8L211.3 208.5L207.1 213.2L202.9 208.5Z"/><path d="M278.3 272.2L282.5 276.9L278.3 281.6L274.1 276.9Z"/><path d="M334.5 285.7L338.7 290.4L334.5 295.1L330.3 290.4Z"/><path d="M375.3 249.3L379.5 254.0L375.3 258.7L371.1 254.0Z"/><path d="M406.3 271.6L410.5 276.3L406.3 281.0L402.1 276.3Z"/><path d="M437.3 282.6L441.5 287.3L437.3 292.0L433.1 287.3Z"/><path d="M493.5 291.9L497.7 296.6L493.5 301.3L489.3 296.6Z"/><path d="M466.2 37.8L470.4 42.5L466.2 47.2L462.0 42.5Z"/></g><text transform="translate(473.4 47.4) scale(1.2 1)" font-family="'Liberation Serif', 'Times New Roman', serif" font-size="14" letter-spacing="0.6" fill="#111" stroke="#111" stroke-width="0.28">-Zr</text><text x="7.0" y="28.9" font-family="'Noto Sans CJK KR', 'Liberation Sans', sans-serif" font-weight="bold" font-size="20.5" letter-spacing="0.8" fill="#111" stroke="#111" stroke-width="0.6">(a)</text><path d="M101.8 414.2H533.6V762.2H101.8Z" fill="none" stroke="#1a1a1a" stroke-width="1.4"/><path d="M101.8 762.2v6M132.6 762.2v3.2M163.5 762.2v6M194.3 762.2v3.2M225.2 762.2v6M256.0 762.2v3.2M286.9 762.2v6M317.7 762.2v3.2M348.5 762.2v6M379.4 762.2v3.2M410.2 762.2v6M441.1 762.2v3.2M471.9 762.2v6M502.8 762.2v3.2M533.6 762.2v6" stroke="#1a1a1a" stroke-width="1.2" fill="none"/><g font-family="'Liberation Serif', 'Times New Roman', serif" font-size="13.6" fill="#111" stroke="#111" stroke-width="0.3" text-anchor="middle"><text x="101.8" y="784.2">20</text><text x="163.5" y="784.2">30</text><text x="225.2" y="784.2">40</text><text x="286.9" y="784.2">50</text><text x="348.5" y="784.2">60</text><text x="410.2" y="784.2">70</text><text x="471.9" y="784.2">80</text><text x="533.6" y="784.2">90</text></g><text x="326.4" y="808.4" font-family="'Liberation Serif', 'Times New Roman', serif" font-size="18" fill="#111" stroke="#111" stroke-width="0.3" text-anchor="middle">Diffraction angle (2θ)</text><text transform="translate(84.2 572.5) rotate(-90)" font-family="'Liberation Serif', 'Times New Roman', serif" font-size="17.6" fill="#111" stroke="#111" stroke-width="0.3" text-anchor="middle">Intensity (a.u)</text><text x="2.3" y="480.6" font-family="'Noto Sans CJK KR', 'Liberation Sans', sans-serif" font-weight="bold" font-size="20.5" letter-spacing="0.9" fill="#111" stroke="#111" stroke-width="0.6">(b)</text><polyline points="102.4,744.2 102.6,744.2 102.9,744.4 103.1,744.2 103.4,744.2 103.6,744.5 103.9,744.5 104.1,744.5 104.4,744.5 104.6,744.4 104.9,744.5 105.1,744.5 105.4,744.5 105.6,744.4 105.9,744.4 106.1,744.9 106.4,744.4 106.6,744.4 106.9,744.4 107.1,744.5 107.4,744.5 107.6,744.3 107.9,744.1 108.1,744.6 108.4,744.2 108.6,744.6 108.9,744.6 109.1,744.8 109.4,744.9 109.6,744.7 109.9,744.5 110.1,744.4 110.4,744.5 110.6,744.7 110.9,744.3 111.1,744.7 111.4,744.7 111.6,744.8 111.9,744.7 112.1,744.8 112.4,744.6 112.6,744.7 112.9,744.4 113.1,744.8 113.4,745.1 113.6,744.9 113.9,744.9 114.1,744.6 114.4,745.1 114.6,744.7 114.9,745.0 115.1,744.9 115.4,744.7 115.6,745.1 115.9,744.9 116.1,745.0 116.4,745.1 116.6,745.0 116.9,744.9 117.1,745.1 117.4,744.9 117.6,745.0 117.9,744.9 118.1,744.8 118.4,744.9 118.6,745.0 118.9,745.1 119.1,745.3 119.4,744.8 119.6,745.2 119.9,744.7 120.1,745.0 120.4,745.1 120.6,744.7 120.9,744.8 121.1,745.2 121.4,745.2 121.6,745.2 121.9,745.1 122.1,745.7 122.4,745.2 122.6,745.1 122.9,745.6 123.1,745.4 123.4,745.3 123.6,745.6 123.9,745.4 124.1,745.5 124.4,745.4 124.6,745.2 124.9,745.6 125.1,745.5 125.4,745.2 125.6,745.3 125.9,745.7 126.1,745.4 126.4,745.5 126.6,745.6 126.9,745.5 127.1,745.2 127.4,745.7 127.6,745.7 127.9,745.7 128.1,745.9 128.4,745.7 128.6,745.8 128.9,745.9 129.1,745.6 129.4,746.0 129.6,746.0 129.9,745.8 130.1,746.0 130.4,745.9 130.6,745.5 130.9,745.9 131.1,745.8 131.4,745.8 131.6,745.8 131.9,746.0 132.1,745.9 132.4,745.7 132.6,745.9 132.9,746.0 133.1,745.7 133.4,745.8 133.6,745.8 133.9,745.7 134.1,745.9 134.4,746.1 134.6,746.3 134.9,746.2 135.1,746.1 135.4,746.2 135.6,746.2 135.9,745.9 136.1,746.1 136.4,746.1 136.6,746.0 136.9,745.9 137.1,745.9 137.4,746.0 137.6,745.8 137.9,746.2 138.1,746.1 138.4,746.1 138.6,746.2 138.9,746.2 139.1,746.0 139.4,746.1 139.6,745.8 139.9,745.7 140.1,745.8 140.4,746.5 140.6,745.8 140.9,746.3 141.1,746.5 141.4,746.1 141.6,746.5 141.9,746.6 142.1,746.4 142.4,746.7 142.6,746.4 142.9,746.1 143.1,746.3 143.4,746.2 143.6,746.0 143.9,746.0 144.1,746.7 144.4,746.2 144.6,746.3 144.9,746.1 145.1,746.3 145.4,746.2 145.6,746.1 145.9,745.9 146.1,745.9 146.4,746.0 146.6,746.2 146.9,746.5 147.1,746.2 147.4,746.3 147.6,746.0 147.9,745.8 148.1,745.5 148.4,745.6 148.6,745.0 148.9,745.1 149.1,745.2 149.4,744.5 149.6,744.0 149.9,742.8 150.1,741.6 150.4,740.4 150.6,738.9 150.9,737.6 151.1,736.1 151.4,734.1 151.6,733.4 151.9,733.3 152.1,734.0 152.4,735.1 152.6,737.0 152.9,738.7 153.1,740.3 153.4,741.4 153.6,742.7 153.9,743.3 154.1,744.5 154.4,744.6 154.6,745.1 154.9,745.4 155.1,745.5 155.4,745.6 155.6,745.5 155.9,746.3 156.1,746.1 156.4,746.1 156.6,746.6 156.9,746.2 157.1,746.3 157.4,746.3 157.6,746.5 157.9,746.4 158.1,746.4 158.4,746.3 158.6,746.4 158.9,746.6 159.1,746.0 159.4,746.4 159.6,746.3 159.9,746.4 160.1,746.1 160.4,746.6 160.6,746.3 160.9,746.4 161.1,746.4 161.4,746.2 161.6,746.4 161.9,746.1 162.1,746.3 162.4,746.5 162.6,746.5 162.9,746.5 163.1,746.5 163.4,747.0 163.6,746.6 163.9,746.3 164.1,746.4 164.4,746.4 164.6,746.5 164.9,746.5 165.1,746.4 165.4,746.9 165.6,746.6 165.9,746.5 166.1,746.5 166.4,746.6 166.6,746.9 166.9,746.7 167.1,746.8 167.4,746.0 167.6,746.7 167.9,746.8 168.1,747.0 168.4,746.6 168.6,746.3 168.9,746.7 169.1,746.5 169.4,746.3 169.6,746.5 169.9,746.8 170.1,746.9 170.4,746.8 170.6,746.4 170.9,747.1 171.1,746.4 171.4,746.6 171.6,746.4 171.9,746.9 172.1,746.7 172.4,746.8 172.6,746.7 172.9,746.6 173.1,746.7 173.4,746.3 173.6,746.8 173.9,746.8 174.1,746.6 174.4,746.6 174.6,746.7 174.9,747.0 175.1,746.7 175.4,746.7 175.6,746.5 175.9,746.3 176.1,746.5 176.4,746.7 176.6,746.6 176.9,746.7 177.1,746.8 177.4,746.7 177.6,746.7 177.9,746.8 178.1,746.7 178.4,746.6 178.6,746.7 178.9,746.3 179.1,746.9 179.4,746.3 179.6,746.8 179.9,746.6 180.1,746.8 180.4,746.6 180.6,746.4 180.9,746.8 181.1,746.6 181.4,746.5 181.6,746.5 181.9,746.7 182.1,746.6 182.4,746.5 182.6,746.1 182.9,746.3 183.1,746.4 183.4,746.7 183.6,746.4 183.9,746.2 184.1,746.4 184.4,746.1 184.6,746.0 184.9,745.9 185.1,745.3 185.4,745.6 185.6,745.2 185.9,744.6 186.1,743.8 186.4,743.4 186.6,742.8 186.9,741.3 187.1,740.1 187.4,739.1 187.6,737.5 187.9,736.2 188.1,735.6 188.4,735.1 188.6,735.3 188.9,735.8 189.1,736.9 189.4,738.0 189.6,739.2 189.9,740.4 190.1,741.8 190.4,742.9 190.6,743.7 190.9,744.3 191.1,744.1 191.4,744.9 191.6,745.4 191.9,745.7 192.1,745.5 192.4,746.3 192.6,746.1 192.9,746.0 193.1,746.2 193.4,746.2 193.6,746.1 193.9,746.4 194.1,746.2 194.4,746.1 194.6,746.2 194.9,746.3 195.1,746.1 195.4,746.5 195.6,746.0 195.9,746.5 196.1,746.3 196.4,745.8 196.6,745.9 196.9,745.9 197.1,745.4 197.4,745.0 197.6,744.9 197.9,745.0 198.1,743.9 198.4,743.9 198.6,743.5 198.9,743.1 199.1,742.9 199.4,742.8 199.6,743.0 199.9,743.1 200.1,743.1 200.4,743.9 200.6,743.7 200.9,744.5 201.1,744.8 201.4,745.3 201.6,745.5 201.9,745.9 202.1,745.9 202.4,746.3 202.6,746.3 202.9,746.8 203.1,746.3 203.4,746.8 203.6,746.7 203.9,746.7 204.1,746.6 204.4,746.8 204.6,746.4 204.9,746.5 205.1,746.9 205.4,746.5 205.6,747.1 205.9,746.8 206.1,746.9 206.4,746.9 206.6,746.9 206.9,746.8 207.1,746.8 207.4,746.9 207.6,747.1 207.9,747.1 208.1,747.2 208.4,747.0 208.6,746.9 208.9,746.6 209.1,747.1 209.4,747.1 209.6,746.9 209.9,747.1 210.1,747.2 210.4,747.0 210.6,747.2 210.9,747.0 211.1,746.6 211.4,746.9 211.6,746.9 211.9,747.1 212.1,746.8 212.4,746.9 212.6,746.8 212.9,747.0 213.1,747.0 213.4,747.2 213.6,747.2 213.9,747.0 214.1,747.1 214.4,747.0 214.6,747.0 214.9,747.3 215.1,746.5 215.4,747.0 215.6,747.1 215.9,747.3 216.1,746.8 216.4,747.1 216.6,747.2 216.9,747.0 217.1,746.7 217.4,747.0 217.6,746.8 217.9,747.2 218.1,746.9 218.4,747.4 218.6,747.1 218.9,746.9 219.1,747.0 219.4,746.8 219.6,747.1 219.9,747.4 220.1,747.0 220.4,747.2 220.6,746.9 220.9,747.1 221.1,747.5 221.4,746.8 221.6,747.3 221.9,747.3 222.1,746.7 222.4,746.8 222.6,746.9 222.9,747.2 223.1,747.0 223.4,747.0 223.6,747.2 223.9,747.1 224.1,747.1 224.4,747.0 224.6,747.2 224.9,746.8 225.1,747.3 225.4,746.9 225.6,746.8 225.9,747.0 226.1,746.9 226.4,746.4 226.6,746.7 226.9,746.3 227.1,746.3 227.4,746.5 227.6,746.0 227.9,746.0 228.1,745.7 228.4,746.0 228.6,745.4 228.9,745.0 229.1,744.9 229.4,744.8 229.6,745.1 229.9,745.1 230.1,745.4 230.4,745.5 230.6,745.7 230.9,745.9 231.1,746.0 231.4,746.3 231.6,746.5 231.9,746.7 232.1,746.5 232.4,746.4 232.6,746.7 232.9,747.0 233.1,746.4 233.4,746.9 233.6,747.1 233.9,746.9 234.1,746.8 234.4,747.4 234.6,747.4 234.9,747.1 235.1,747.4 235.4,747.4 235.6,746.9 235.9,747.7 236.1,747.0 236.4,747.1 236.6,746.9 236.9,747.2 237.1,746.9 237.4,747.2 237.6,747.4 237.9,747.2 238.1,747.1 238.4,747.5 238.6,747.0 238.9,747.4 239.1,747.1 239.4,747.2 239.6,747.2 239.9,747.2 240.1,747.2 240.4,747.0 240.6,747.1 240.9,747.3 241.1,747.2 241.4,747.0 241.6,747.1 241.9,747.1 242.1,747.2 242.4,747.3 242.6,747.2 242.9,747.1 243.1,747.2 243.4,746.9 243.6,746.6 243.9,747.2 244.1,746.9 244.4,747.0 244.6,747.0 244.9,747.3 245.1,747.0 245.4,747.3 245.6,747.1 245.9,747.0 246.1,746.9 246.4,747.3 246.6,747.3 246.9,747.4 247.1,747.6 247.4,747.3 247.6,747.3 247.9,747.2 248.1,747.2 248.4,747.1 248.6,747.0 248.9,747.6 249.1,746.8 249.4,747.2 249.6,747.3 249.9,747.2 250.1,747.0 250.4,747.1 250.6,747.1 250.9,746.9 251.1,747.1 251.4,747.1 251.6,747.0 251.9,747.3 252.1,746.9 252.4,747.2 252.6,746.9 252.9,747.1 253.1,747.0 253.4,747.0 253.6,746.7 253.9,746.7 254.1,746.6 254.4,746.7 254.6,746.7 254.9,746.6 255.1,746.1 255.4,746.1 255.6,745.6 255.9,745.2 256.1,745.3 256.4,745.1 256.6,744.7 256.9,744.5 257.1,744.7 257.4,744.3 257.6,744.0 257.9,744.8 258.1,744.3 258.4,744.3 258.6,744.6 258.9,744.5 259.1,745.2 259.4,744.8 259.6,745.1 259.9,745.5 260.1,745.6 260.4,746.2 260.6,745.8 260.9,746.2 261.1,746.5 261.4,746.7 261.6,746.9 261.9,746.9 262.1,747.3 262.4,746.8 262.6,747.0 262.9,747.2 263.1,747.0 263.4,747.1 263.6,747.1 263.9,747.0 264.1,747.0 264.4,747.1 264.6,746.9 264.9,747.3 265.1,746.9 265.4,747.7 265.6,747.6 265.9,747.5 266.1,747.2 266.4,747.2 266.6,747.5 266.9,747.3 267.1,747.4 267.4,747.2 267.6,747.5 267.9,747.2 268.1,747.3 268.4,747.0 268.6,747.2 268.9,747.4 269.1,747.2 269.4,747.3 269.6,747.5 269.9,747.3 270.1,747.6 270.4,746.9 270.6,747.5 270.9,747.5 271.1,747.1 271.4,747.1 271.6,747.5 271.9,747.2 272.1,747.3 272.4,747.5 272.6,747.3 272.9,747.5 273.1,747.2 273.4,747.4 273.6,747.6 273.9,747.5 274.1,747.0 274.4,747.5 274.6,747.4 274.9,747.2 275.1,747.7 275.4,747.1 275.6,747.8 275.9,747.3 276.1,747.7 276.4,747.4 276.6,747.2 276.9,747.4 277.1,747.5 277.4,747.5 277.6,747.6 277.9,747.2 278.1,747.5 278.4,747.6 278.6,747.4 278.9,747.2 279.1,747.2 279.4,747.6 279.6,747.6 279.9,747.3 280.1,747.2 280.4,747.7 280.6,747.1 280.9,747.5 281.1,747.3 281.4,747.1 281.6,747.5 281.9,747.4 282.1,747.7 282.4,747.9 282.6,747.4 282.9,747.7 283.1,747.7 283.4,747.4 283.6,747.3 283.9,747.8 284.1,747.4 284.4,747.5 284.6,747.4 284.9,747.4 285.1,747.4 285.4,747.6 285.6,747.7 285.9,747.4 286.1,747.2 286.4,747.5 286.6,747.2 286.9,747.4 287.1,747.7 287.4,747.9 287.6,747.6 287.9,747.3 288.1,747.6 288.4,747.0 288.6,747.4 288.9,747.8 289.1,747.6 289.4,747.2 289.6,747.2 289.9,747.7 290.1,747.5 290.4,747.4 290.6,747.6 290.9,747.4 291.1,747.1 291.4,747.7 291.6,747.4 291.9,747.3 292.1,747.2 292.4,747.6 292.6,747.4 292.9,747.6 293.1,747.5 293.4,747.7 293.6,747.4 293.9,747.4 294.1,747.1 294.4,747.3 294.6,747.7 294.9,748.1 295.1,747.3 295.4,747.3 295.6,747.6 295.9,747.6 296.1,747.4 296.4,747.5 296.6,747.2 296.9,747.5 297.1,747.7 297.4,747.9 297.6,747.5 297.9,747.5 298.1,747.6 298.4,747.8 298.6,747.6 298.9,747.4 299.1,747.6 299.4,747.7 299.6,747.4 299.9,747.3 300.1,747.6 300.4,747.6 300.6,747.7 300.9,747.5 301.1,747.4 301.4,747.4 301.6,747.3 301.9,747.3 302.1,747.4 302.4,747.4 302.6,747.7 302.9,747.3 303.1,747.5 303.4,747.4 303.6,747.8 303.9,747.6 304.1,747.4 304.4,747.7 304.6,747.5 304.9,747.4 305.1,747.8 305.4,747.6 305.6,747.8 305.9,747.7 306.1,747.6 306.4,747.5 306.6,747.3 306.9,747.6 307.1,747.5 307.4,747.6 307.6,747.5 307.9,747.3 308.1,747.3 308.4,747.6 308.6,747.7 308.9,747.4 309.1,747.5 309.4,747.7 309.6,747.3 309.9,747.4 310.1,747.2 310.4,747.6 310.6,747.5 310.9,747.3 311.1,747.1 311.4,747.3 311.6,747.6 311.9,747.3 312.1,747.2 312.4,747.4 312.6,747.1 312.9,747.3 313.1,747.4 313.4,747.1 313.6,747.0 313.9,747.2 314.1,747.1 314.4,747.1 314.6,747.1 314.9,747.0 315.1,746.7 315.4,746.7 315.6,746.8 315.9,746.8 316.1,746.7 316.4,746.1 316.6,746.3 316.9,745.9 317.1,745.5 317.4,745.3 317.6,744.9 317.9,744.7 318.1,743.7 318.4,743.6 318.6,742.9 318.9,742.5 319.1,742.3 319.4,741.8 319.6,741.1 319.9,741.0 320.1,741.0 320.4,740.8 320.6,741.4 320.9,741.5 321.1,741.9 321.4,742.4 321.6,743.1 321.9,743.3 322.1,743.7 322.4,744.5 322.6,744.5 322.9,744.9 323.1,745.1 323.4,745.9 323.6,746.0 323.9,746.3 324.1,746.4 324.4,746.5 324.6,746.5 324.9,746.6 325.1,747.0 325.4,747.0 325.6,747.3 325.9,746.9 326.1,747.0 326.4,747.0 326.6,747.5 326.9,747.0 327.1,747.4 327.4,747.5 327.6,747.2 327.9,747.4 328.1,746.9 328.4,747.2 328.6,747.0 328.9,747.4 329.1,747.4 329.4,747.2 329.6,747.6 329.9,747.4 330.1,747.3 330.4,747.3 330.6,747.1 330.9,747.4 331.1,747.8 331.4,747.3 331.6,747.5 331.9,747.3 332.1,747.6 332.4,747.5 332.6,747.4 332.9,747.1 333.1,747.3 333.4,747.7 333.6,747.4 333.9,747.6 334.1,747.4 334.4,747.1 334.6,747.5 334.9,747.5 335.1,747.3 335.4,747.4 335.6,747.5 335.9,747.3 336.1,747.5 336.4,747.4 336.6,747.0 336.9,747.4 337.1,747.3 337.4,747.3 337.6,747.5 337.9,747.3 338.1,747.6 338.4,747.7 338.6,747.5 338.9,747.1 339.1,747.3 339.4,747.6 339.6,747.4 339.9,747.3 340.1,747.4 340.4,747.5 340.6,747.5 340.9,747.5 341.1,747.2 341.4,747.3 341.6,747.3 341.9,747.4 342.1,746.9 342.4,747.3 342.6,747.1 342.9,747.6 343.1,747.6 343.4,747.6 343.6,747.4 343.9,747.1 344.1,747.4 344.4,747.1 344.6,747.2 344.9,746.8 345.1,746.8 345.4,746.9 345.6,747.1 345.9,746.6 346.1,746.9 346.4,746.8 346.6,745.8 346.9,745.9 347.1,745.5 347.4,745.4 347.6,745.1 347.9,745.0 348.1,745.0 348.4,744.9 348.6,744.6 348.9,744.5 349.1,744.5 349.4,744.6 349.6,744.8 349.9,744.8 350.1,745.1 350.4,745.0 350.6,745.6 350.9,746.0 351.1,745.9 351.4,745.8 351.6,746.5 351.9,746.3 352.1,745.9 352.4,746.6 352.6,746.9 352.9,746.9 353.1,747.1 353.4,747.1 353.6,747.0 353.9,746.6 354.1,746.8 354.4,747.1 354.6,747.2 354.9,746.8 355.1,746.9 355.4,747.0 355.6,746.5 355.9,746.4 356.1,746.7 356.4,746.7 356.6,746.4 356.9,745.9 357.1,746.2 357.4,745.8 357.6,745.9 357.9,745.6 358.1,745.4 358.4,745.2 358.6,744.7 358.9,744.8 359.1,744.6 359.4,744.3 359.6,744.3 359.9,743.9 360.1,744.2 360.4,744.1 360.6,744.0 360.9,744.4 361.1,744.6 361.4,744.8 361.6,745.2 361.9,745.6 362.1,745.6 362.4,745.9 362.6,745.8 362.9,746.3 363.1,746.7 363.4,746.8 363.6,746.9 363.9,746.8 364.1,746.8 364.4,747.0 364.6,746.8 364.9,746.9 365.1,747.4 365.4,747.1 365.6,747.6 365.9,747.0 366.1,747.4 366.4,747.1 366.6,747.4 366.9,747.2 367.1,747.4 367.4,747.4 367.6,747.3 367.9,747.5 368.1,747.7 368.4,747.3 368.6,747.6 368.9,747.4 369.1,747.4 369.4,747.9 369.6,747.0 369.9,747.3 370.1,747.1 370.4,747.4 370.6,747.4 370.9,748.2 371.1,747.5 371.4,747.8 371.6,747.7 371.9,747.4 372.1,747.6 372.4,747.8 372.6,747.5 372.9,747.5 373.1,747.6 373.4,747.2 373.6,747.3 373.9,747.6 374.1,747.6 374.4,747.3 374.6,747.4 374.9,747.5 375.1,747.5 375.4,747.6 375.6,747.5 375.9,747.5 376.1,747.2 376.4,747.3 376.6,747.6 376.9,747.2 377.1,747.6 377.4,747.4 377.6,747.4 377.9,747.6 378.1,747.4 378.4,747.3 378.6,747.4 378.9,747.5 379.1,748.1 379.4,747.1 379.6,747.5 379.9,747.5 380.1,747.7 380.4,747.4 380.6,747.0 380.9,747.8 381.1,747.3 381.4,747.5 381.6,747.3 381.9,747.3 382.1,747.4 382.4,747.7 382.6,747.7 382.9,747.4 383.1,747.6 383.4,747.4 383.6,747.5 383.9,747.6 384.1,747.6 384.4,747.4 384.6,747.5 384.9,747.6 385.1,747.5 385.4,747.4 385.6,747.9 385.9,747.4 386.1,747.7 386.4,747.6 386.6,747.8 386.9,747.1 387.1,747.9 387.4,747.5 387.6,747.3 387.9,747.6 388.1,748.0 388.4,747.6 388.6,747.3 388.9,747.4 389.1,747.8 389.4,747.2 389.6,747.5 389.9,747.5 390.1,748.0 390.4,747.5 390.6,747.8 390.9,747.4 391.1,747.4 391.4,747.7 391.6,747.6 391.9,747.2 392.1,747.6 392.4,747.7 392.6,747.4 392.9,747.6 393.1,747.6 393.4,747.4 393.6,747.4 393.9,747.4 394.1,747.5 394.4,747.3 394.6,747.5 394.9,747.2 395.1,747.5 395.4,747.5 395.6,747.3 395.9,747.7 396.1,747.9 396.4,747.8 396.6,747.2 396.9,747.8 397.1,747.6 397.4,747.5 397.6,747.4 397.9,747.5 398.1,747.8 398.4,747.6 398.6,747.4 398.9,747.4 399.1,747.4 399.4,747.6 399.6,747.9 399.9,747.3 400.1,747.5 400.4,747.4 400.6,747.4 400.9,747.6 401.1,747.6 401.4,747.2 401.6,747.3 401.9,747.7 402.1,747.6 402.4,747.6 402.6,747.4 402.9,747.4 403.1,747.6 403.4,747.4 403.6,747.3 403.9,747.5 404.1,747.7 404.4,747.3 404.6,747.7 404.9,747.6 405.1,747.3 405.4,747.5 405.6,747.5 405.9,747.6 406.1,747.6 406.4,747.2 406.6,747.2 406.9,747.7 407.1,747.5 407.4,747.5 407.6,747.5 407.9,747.7 408.1,747.2 408.4,747.6 408.6,747.3 408.9,747.6 409.1,747.7 409.4,747.1 409.6,747.5 409.9,747.3 410.1,747.3 410.4,747.4 410.6,747.1 410.9,747.1 411.1,747.4 411.4,747.4 411.6,747.1 411.9,746.9 412.1,747.6 412.4,747.3 412.6,747.1 412.9,746.8 413.1,746.8 413.4,746.9 413.6,746.6 413.9,747.0 414.1,746.6 414.4,746.5 414.6,746.1 414.9,745.9 415.1,745.8 415.4,745.9 415.6,745.6 415.9,745.5 416.1,745.4 416.4,745.3 416.6,745.4 416.9,745.0 417.1,744.8 417.4,745.0 417.6,745.3 417.9,745.0 418.1,745.2 418.4,745.2 418.6,745.5 418.9,745.6 419.1,745.5 419.4,745.8 419.6,746.2 419.9,746.3 420.1,746.4 420.4,746.6 420.6,746.5 420.9,746.6 421.1,746.9 421.4,746.6 421.6,746.9 421.9,746.6 422.1,747.0 422.4,747.0 422.6,746.9 422.9,747.3 423.1,747.1 423.4,747.2 423.6,747.2 423.9,747.2 424.1,747.6 424.4,747.3 424.6,747.4 424.9,747.1 425.1,747.3 425.4,747.3 425.6,747.3 425.9,747.3 426.1,747.4 426.4,747.7 426.6,747.4 426.9,747.4 427.1,747.4 427.4,747.9 427.6,747.8 427.9,747.6 428.1,747.6 428.4,747.3 428.6,747.4 428.9,747.5 429.1,747.5 429.4,747.3 429.6,747.3 429.9,747.6 430.1,747.5 430.4,747.1 430.6,747.5 430.9,747.7 431.1,747.4 431.4,747.5 431.6,747.2 431.9,747.7 432.1,747.3 432.4,747.2 432.6,747.4 432.9,748.0 433.1,747.4 433.4,747.2 433.6,747.6 433.9,747.5 434.1,747.8 434.4,747.3 434.6,747.2 434.9,747.4 435.1,747.6 435.4,747.6 435.6,747.7 435.9,747.2 436.1,747.3 436.4,747.5 436.6,747.7 436.9,747.6 437.1,747.4 437.4,747.3 437.6,747.7 437.9,747.7 438.1,748.0 438.4,747.5 438.6,747.8 438.9,747.3 439.1,747.4 439.4,747.4 439.6,747.4 439.9,747.3 440.1,747.4 440.4,747.5 440.6,747.4 440.9,747.6 441.1,747.5 441.4,747.5 441.6,747.8 441.9,747.6 442.1,747.5 442.4,747.5 442.6,747.5 442.9,747.6 443.1,747.4 443.4,747.7 443.6,747.8 443.9,747.7 444.1,747.4 444.4,747.2 444.6,747.4 444.9,747.5 445.1,747.7 445.4,747.5 445.6,747.5 445.9,747.8 446.1,747.4 446.4,747.7 446.6,747.7 446.9,747.3 447.1,747.6 447.4,747.4 447.6,747.3 447.9,747.2 448.1,747.2 448.4,747.6 448.6,747.4 448.9,747.6 449.1,747.3 449.4,747.5 449.6,747.5 449.9,747.2 450.1,747.2 450.4,747.6 450.6,747.5 450.9,747.3 451.1,747.5 451.4,747.6 451.6,747.9 451.9,747.3 452.1,747.6 452.4,747.9 452.6,747.5 452.9,747.8 453.1,747.0 453.4,747.8 453.6,747.5 453.9,747.2 454.1,747.7 454.4,747.7 454.6,747.8 454.9,747.8 455.1,747.5 455.4,747.4 455.6,747.4 455.9,747.5 456.1,747.6 456.4,747.4 456.6,747.5 456.9,747.7 457.1,747.6 457.4,748.0 457.6,747.9 457.9,747.3 458.1,747.4 458.4,747.3 458.6,747.3 458.9,747.6 459.1,747.3 459.4,747.3 459.6,747.5 459.9,747.7 460.1,747.4 460.4,747.4 460.6,747.7 460.9,747.6 461.1,747.6 461.4,747.7 461.6,747.3 461.9,747.6 462.1,747.4 462.4,747.7 462.6,747.7 462.9,747.3 463.1,747.8 463.4,747.3 463.6,747.7 463.9,747.6 464.1,747.3 464.4,747.3 464.6,747.5 464.9,747.5 465.1,747.4 465.4,747.6 465.6,747.2 465.9,747.5 466.1,747.5 466.4,747.1 466.6,747.6 466.9,747.3 467.1,747.0 467.4,747.4 467.6,747.5 467.9,747.7 468.1,747.4 468.4,747.8 468.6,747.8 468.9,747.7 469.1,747.8 469.4,747.6 469.6,747.4 469.9,747.6 470.1,747.7 470.4,747.6 470.6,747.5 470.9,747.2 471.1,747.6 471.4,747.6 471.6,747.3 471.9,747.5 472.1,747.7 472.4,747.5 472.6,747.7 472.9,747.7 473.1,747.2 473.4,747.5 473.6,747.6 473.9,747.7 474.1,747.8 474.4,747.1 474.6,747.5 474.9,747.7 475.1,747.8 475.4,747.8 475.6,747.3 475.9,747.4 476.1,747.3 476.4,747.7 476.6,747.3 476.9,747.7 477.1,747.7 477.4,747.6 477.6,747.1 477.9,747.4 478.1,747.7 478.4,747.2 478.6,747.5 478.9,747.5 479.1,747.7 479.4,747.6 479.6,747.6 479.9,747.4 480.1,747.5 480.4,747.5 480.6,747.7 480.9,747.5 481.1,747.7 481.4,747.2 481.6,747.7 481.9,747.5 482.1,747.7 482.4,747.5 482.6,747.7 482.9,747.8 483.1,747.4 483.4,747.5 483.6,747.5 483.9,747.6 484.1,747.2 484.4,747.5 484.6,747.5 484.9,747.4 485.1,747.5 485.4,747.2 485.6,747.8 485.9,747.6 486.1,747.9 486.4,747.3 486.6,747.3 486.9,747.6 487.1,747.2 487.4,747.6 487.6,747.4 487.9,747.4 488.1,747.6 488.4,747.5 488.6,747.9 488.9,747.6 489.1,747.3 489.4,747.7 489.6,747.2 489.9,747.5 490.1,747.3 490.4,747.3 490.6,747.8 490.9,747.4 491.1,747.4 491.4,747.4 491.6,747.4 491.9,747.8 492.1,747.3 492.4,747.3 492.6,747.6 492.9,747.2 493.1,747.4 493.4,747.7 493.6,747.5 493.9,747.4 494.1,747.4 494.4,747.3 494.6,747.4 494.9,747.5 495.1,747.8 495.4,747.7 495.6,747.4 495.9,747.4 496.1,747.6 496.4,747.1 496.6,747.4 496.9,747.4 497.1,747.3 497.4,747.3 497.6,747.6 497.9,747.2 498.1,747.3 498.4,747.4 498.6,747.5 498.9,747.2 499.1,747.7 499.4,747.4 499.6,747.4 499.9,747.4 500.1,747.4 500.4,747.3 500.6,747.7 500.9,747.5 501.1,747.5 501.4,747.7 501.6,747.4 501.9,747.6 502.1,747.5 502.4,747.3 502.6,747.6 502.9,747.2 503.1,747.6 503.4,747.3 503.6,747.6 503.9,747.8 504.1,747.6 504.4,747.4 504.6,747.5 504.9,747.4 505.1,747.3 505.4,747.3 505.6,747.5 505.9,747.6 506.1,747.1 506.4,747.5 506.6,747.6 506.9,747.5 507.1,747.3 507.4,747.7 507.6,747.3 507.9,747.6 508.1,747.8 508.4,747.1 508.6,747.5 508.9,747.6 509.1,747.5 509.4,747.3 509.6,747.4 509.9,747.2 510.1,747.5 510.4,747.6 510.6,747.4 510.9,747.3 511.1,747.4 511.4,747.5 511.6,747.5 511.9,747.5 512.1,747.5 512.4,747.2 512.6,747.0 512.9,747.6 513.1,747.8 513.4,747.2 513.6,747.4 513.9,747.5 514.1,747.7 514.4,747.6 514.6,747.7 514.9,747.5 515.1,747.6 515.4,747.6 515.6,747.4 515.9,747.7 516.1,747.6 516.4,747.7 516.6,747.4 516.9,747.7 517.1,747.3 517.4,747.6 517.6,747.0 517.9,747.3 518.1,747.6 518.4,747.4 518.6,747.5 518.9,747.2 519.1,747.8 519.4,747.6 519.6,747.5 519.9,747.6 520.1,747.5 520.4,747.8 520.6,747.5 520.9,747.2 521.1,747.4 521.4,747.7 521.6,747.6 521.9,747.4 522.1,747.6 522.4,747.5 522.6,747.6 522.9,747.2 523.1,747.3 523.4,747.6 523.6,747.4 523.9,747.6 524.1,747.9 524.4,747.4 524.6,747.5 524.9,747.4 525.1,747.4 525.4,747.5 525.6,747.2 525.9,747.1 526.1,747.7 526.4,747.5 526.6,747.7 526.9,747.5 527.1,747.5 527.4,747.6 527.6,747.6 527.9,747.2 528.1,747.7 528.4,747.3 528.6,747.5 528.9,748.0 529.1,747.5 529.4,747.8 529.6,747.4 529.9,747.6 530.1,747.5 530.4,747.6 530.6,747.3 530.9,747.3 531.1,747.5 531.4,747.2 531.6,747.3 531.9,747.6 532.1,747.4 532.4,747.3 532.6,747.3 532.9,747.5" fill="none" stroke="#2a2a2a" stroke-width="1.4" stroke-linejoin="round"/><polyline points="102.4,718.7 102.6,717.6 102.9,718.7 103.1,717.9 103.4,719.9 103.6,718.4 103.9,718.6 104.1,717.9 104.4,718.2 104.6,717.8 104.9,719.0 105.1,718.4 105.4,718.8 105.6,718.1 105.9,718.2 106.1,719.2 106.4,718.0 106.6,717.5 106.9,718.7 107.1,717.9 107.4,718.2 107.6,719.0 107.9,718.0 108.1,719.0 108.4,718.1 108.6,719.3 108.9,719.2 109.1,718.2 109.4,718.3 109.6,718.0 109.9,718.6 110.1,719.1 110.4,717.7 110.6,719.0 110.9,717.7 111.1,718.0 111.4,717.5 111.6,719.6 111.9,718.5 112.1,718.6 112.4,718.0 112.6,719.0 112.9,717.3 113.1,718.4 113.4,719.6 113.6,718.2 113.9,718.4 114.1,718.7 114.4,717.9 114.6,718.4 114.9,718.9 115.1,718.4 115.4,718.5 115.6,718.1 115.9,718.5 116.1,718.3 116.4,719.1 116.6,718.7 116.9,718.1 117.1,716.9 117.4,718.6 117.6,718.6 117.9,717.7 118.1,717.1 118.4,717.5 118.6,718.6 118.9,717.5 119.1,717.8 119.4,718.1 119.6,718.7 119.9,717.9 120.1,717.8 120.4,717.5 120.6,718.7 120.9,718.3 121.1,717.6 121.4,716.8 121.6,717.0 121.9,717.6 122.1,716.8 122.4,717.5 122.6,717.0 122.9,716.7 123.1,716.6 123.4,716.2 123.6,715.1 123.9,715.0 124.1,716.0 124.4,713.5 124.6,713.4 124.9,713.6 125.1,712.3 125.4,711.4 125.6,710.5 125.9,710.9 126.1,710.7 126.4,710.6 126.6,709.7 126.9,710.2 127.1,709.2 127.4,710.2 127.6,710.2 127.9,711.2 128.1,712.1 128.4,712.9 128.6,712.3 128.9,714.2 129.1,713.7 129.4,714.0 129.6,714.9 129.9,714.6 130.1,715.8 130.4,716.2 130.6,716.3 130.9,716.9 131.1,716.6 131.4,717.0 131.6,716.3 131.9,717.3 132.1,716.9 132.4,717.2 132.6,717.5 132.9,717.7 133.1,716.7 133.4,716.8 133.6,717.5 133.9,718.0 134.1,718.0 134.4,718.3 134.6,718.5 134.9,718.1 135.1,717.8 135.4,717.3 135.6,717.3 135.9,717.6 136.1,718.0 136.4,718.0 136.6,717.8 136.9,717.8 137.1,718.2 137.4,717.9 137.6,718.0 137.9,718.0 138.1,717.5 138.4,717.2 138.6,718.0 138.9,718.0 139.1,717.6 139.4,717.5 139.6,718.9 139.9,717.2 140.1,717.5 140.4,717.7 140.6,716.9 140.9,717.6 141.1,718.5 141.4,718.0 141.6,717.7 141.9,717.7 142.1,717.3 142.4,717.8 142.6,717.1 142.9,716.9 143.1,717.1 143.4,717.4 143.6,717.0 143.9,717.1 144.1,715.5 144.4,717.2 144.6,717.7 144.9,717.0 145.1,715.9 145.4,715.5 145.6,715.9 145.9,715.0 146.1,715.7 146.4,714.8 146.6,715.3 146.9,715.2 147.1,713.0 147.4,713.8 147.6,712.8 147.9,711.8 148.1,711.6 148.4,711.0 148.6,710.7 148.9,708.0 149.1,707.8 149.4,706.1 149.6,702.3 149.9,698.0 150.1,691.9 150.4,683.4 150.6,674.0 150.9,660.9 151.1,645.4 151.4,628.6 151.6,609.0 151.9,591.6 152.1,579.6 152.4,573.3 152.6,578.1 152.9,591.1 153.1,608.1 153.4,627.5 153.6,644.6 153.9,661.4 154.1,674.3 154.4,684.2 154.6,691.4 154.9,697.7 155.1,702.0 155.4,704.0 155.6,706.9 155.9,708.7 156.1,709.6 156.4,711.3 156.6,711.8 156.9,711.3 157.1,712.3 157.4,712.2 157.6,713.3 157.9,712.7 158.1,713.9 158.4,713.7 158.6,714.1 158.9,713.6 159.1,712.8 159.4,714.6 159.6,713.4 159.9,714.1 160.1,713.3 160.4,713.2 160.6,713.5 160.9,712.3 161.1,712.5 161.4,710.5 161.6,711.2 161.9,710.1 162.1,709.6 162.4,709.0 162.6,708.6 162.9,708.7 163.1,706.2 163.4,706.7 163.6,705.9 163.9,706.6 164.1,705.5 164.4,705.9 164.6,705.6 164.9,706.4 165.1,707.0 165.4,706.7 165.6,707.5 165.9,707.3 166.1,708.9 166.4,709.9 166.6,709.7 166.9,711.3 167.1,710.1 167.4,710.8 167.6,711.5 167.9,712.5 168.1,713.1 168.4,713.4 168.6,713.7 168.9,714.3 169.1,713.7 169.4,713.3 169.6,713.2 169.9,714.9 170.1,712.3 170.4,713.3 170.6,714.0 170.9,713.3 171.1,712.6 171.4,713.2 171.6,713.9 171.9,714.5 172.1,713.7 172.4,715.0 172.6,715.2 172.9,716.0 173.1,716.4 173.4,715.7 173.6,715.3 173.9,716.5 174.1,717.4 174.4,716.9 174.6,716.7 174.9,717.9 175.1,716.1 175.4,717.1 175.6,716.3 175.9,716.7 176.1,716.7 176.4,717.5 176.6,716.1 176.9,716.3 177.1,715.7 177.4,716.8 177.6,716.2 177.9,716.7 178.1,715.8 178.4,716.1 178.6,716.8 178.9,716.1 179.1,716.5 179.4,716.3 179.6,715.7 179.9,715.0 180.1,716.2 180.4,715.7 180.6,716.0 180.9,714.2 181.1,714.2 181.4,713.8 181.6,714.3 181.9,715.1 182.1,714.6 182.4,714.0 182.6,713.8 182.9,713.8 183.1,712.8 183.4,712.8 183.6,712.2 183.9,710.4 184.1,710.7 184.4,711.0 184.6,709.1 184.9,708.1 185.1,706.5 185.4,704.8 185.6,703.4 185.9,699.7 186.1,695.5 186.4,689.5 186.6,685.0 186.9,677.1 187.1,668.7 187.4,660.6 187.6,650.1 187.9,637.9 188.1,629.1 188.4,620.2 188.6,613.7 188.9,612.6 189.1,613.2 189.4,618.4 189.6,625.2 189.9,633.0 190.1,641.5 190.4,646.9 190.6,652.6 190.9,657.3 191.1,661.5 191.4,663.8 191.6,666.6 191.9,667.4 192.1,668.8 192.4,670.9 192.6,673.1 192.9,674.7 193.1,677.7 193.4,681.1 193.6,682.3 193.9,685.2 194.1,688.4 194.4,689.7 194.6,691.8 194.9,693.7 195.1,696.3 195.4,697.9 195.6,698.7 195.9,699.7 196.1,700.9 196.4,700.9 196.6,699.3 196.9,699.4 197.1,698.3 197.4,697.1 197.6,694.6 197.9,691.9 198.1,689.4 198.4,685.9 198.6,684.4 198.9,682.1 199.1,681.6 199.4,680.9 199.6,682.6 199.9,684.6 200.1,687.5 200.4,691.8 200.6,694.4 200.9,698.0 201.1,700.0 201.4,703.1 201.6,704.2 201.9,706.6 202.1,707.9 202.4,709.5 202.6,710.0 202.9,710.0 203.1,710.2 203.4,708.6 203.6,706.6 203.9,703.3 204.1,699.0 204.4,696.1 204.6,697.1 204.9,700.3 205.1,705.2 205.4,709.3 205.6,711.8 205.9,712.9 206.1,713.5 206.4,714.8 206.6,715.3 206.9,716.3 207.1,715.7 207.4,716.1 207.6,716.8 207.9,716.3 208.1,716.6 208.4,717.7 208.6,717.7 208.9,717.3 209.1,717.2 209.4,716.6 209.6,717.5 209.9,717.3 210.1,717.5 210.4,717.1 210.6,717.4 210.9,717.4 211.1,717.7 211.4,718.4 211.6,717.8 211.9,716.7 212.1,717.1 212.4,716.8 212.6,717.3 212.9,718.1 213.1,718.0 213.4,717.5 213.6,717.9 213.9,717.4 214.1,717.1 214.4,717.1 214.6,717.4 214.9,718.6 215.1,717.1 215.4,718.6 215.6,718.6 215.9,717.8 216.1,717.9 216.4,717.5 216.6,717.9 216.9,718.2 217.1,717.9 217.4,718.4 217.6,718.5 217.9,718.0 218.1,718.0 218.4,717.8 218.6,718.0 218.9,717.2 219.1,718.0 219.4,717.8 219.6,717.2 219.9,718.8 220.1,717.1 220.4,717.1 220.6,717.7 220.9,716.4 221.1,717.0 221.4,716.5 221.6,716.8 221.9,717.2 222.1,717.3 222.4,717.7 222.6,717.4 222.9,717.5 223.1,717.0 223.4,716.3 223.6,716.9 223.9,715.8 224.1,715.5 224.4,716.4 224.6,715.6 224.9,714.9 225.1,714.8 225.4,714.3 225.6,712.4 225.9,712.4 226.1,711.1 226.4,710.9 226.6,709.5 226.9,709.6 227.1,707.9 227.4,706.0 227.6,705.2 227.9,703.2 228.1,702.6 228.4,701.6 228.6,700.3 228.9,698.1 229.1,698.2 229.4,698.3 229.6,698.1 229.9,698.8 230.1,698.0 230.4,699.8 230.6,700.2 230.9,701.9 231.1,703.3 231.4,704.8 231.6,705.4 231.9,707.1 232.1,707.5 232.4,708.5 232.6,710.6 232.9,711.2 233.1,711.2 233.4,712.4 233.6,713.5 233.9,714.9 234.1,715.2 234.4,715.5 234.6,714.4 234.9,715.7 235.1,716.3 235.4,716.5 235.6,716.7 235.9,716.5 236.1,717.8 236.4,717.8 236.6,717.0 236.9,716.6 237.1,718.4 237.4,717.1 237.6,718.1 237.9,718.6 238.1,717.0 238.4,717.8 238.6,717.5 238.9,718.0 239.1,717.9 239.4,718.9 239.6,718.2 239.9,717.9 240.1,718.5 240.4,717.8 240.6,717.7 240.9,719.2 241.1,717.5 241.4,717.7 241.6,718.0 241.9,717.4 242.1,716.9 242.4,718.6 242.6,717.6 242.9,717.7 243.1,717.8 243.4,717.5 243.6,717.5 243.9,718.1 244.1,719.4 244.4,718.4 244.6,718.4 244.9,717.2 245.1,718.0 245.4,717.4 245.6,718.4 245.9,717.9 246.1,718.0 246.4,717.9 246.6,717.6 246.9,717.1 247.1,718.2 247.4,717.1 247.6,717.2 247.9,717.6 248.1,717.4 248.4,717.9 248.6,718.2 248.9,717.8 249.1,717.7 249.4,717.5 249.6,717.9 249.9,716.4 250.1,717.5 250.4,716.7 250.6,716.5 250.9,717.1 251.1,716.8 251.4,717.2 251.6,717.3 251.9,715.3 252.1,716.4 252.4,717.3 252.6,716.5 252.9,716.6 253.1,715.6 253.4,714.4 253.6,714.2 253.9,714.8 254.1,714.4 254.4,712.9 254.6,712.5 254.9,712.0 255.1,710.1 255.4,709.9 255.6,709.9 255.9,709.0 256.1,706.4 256.4,706.1 256.6,703.3 256.9,701.5 257.1,699.0 257.4,699.0 257.6,696.6 257.9,696.5 258.1,693.9 258.4,692.5 258.6,690.5 258.9,691.7 259.1,690.6 259.4,691.0 259.6,690.6 259.9,693.4 260.1,694.8 260.4,695.5 260.6,697.5 260.9,699.4 261.1,701.4 261.4,702.6 261.6,705.1 261.9,705.5 262.1,706.7 262.4,708.0 262.6,708.0 262.9,710.0 263.1,711.9 263.4,712.3 263.6,712.4 263.9,713.7 264.1,712.9 264.4,714.3 264.6,715.2 264.9,715.6 265.1,715.1 265.4,716.3 265.6,717.0 265.9,716.0 266.1,716.8 266.4,715.6 266.6,715.6 266.9,717.1 267.1,716.9 267.4,717.0 267.6,716.7 267.9,716.9 268.1,717.6 268.4,718.1 268.6,717.1 268.9,716.3 269.1,718.0 269.4,717.6 269.6,717.7 269.9,717.4 270.1,718.6 270.4,717.4 270.6,717.6 270.9,716.3 271.1,716.9 271.4,716.8 271.6,717.1 271.9,717.2 272.1,716.4 272.4,717.6 272.6,715.7 272.9,715.6 273.1,715.3 273.4,713.7 273.6,713.5 273.9,712.3 274.1,710.3 274.4,710.3 274.6,708.7 274.9,709.0 275.1,709.3 275.4,710.1 275.6,712.0 275.9,713.2 276.1,714.0 276.4,715.3 276.6,713.9 276.9,714.7 277.1,714.4 277.4,716.0 277.6,714.8 277.9,714.6 278.1,713.9 278.4,714.6 278.6,713.4 278.9,713.2 279.1,711.4 279.4,712.5 279.6,711.4 279.9,710.7 280.1,710.3 280.4,708.7 280.6,708.0 280.9,707.9 281.1,707.3 281.4,706.6 281.6,706.6 281.9,706.4 282.1,707.4 282.4,708.0 282.6,708.1 282.9,709.8 283.1,708.5 283.4,709.9 283.6,711.6 283.9,711.0 284.1,710.9 284.4,712.9 284.6,712.8 284.9,712.0 285.1,713.2 285.4,712.3 285.6,712.0 285.9,712.5 286.1,712.0 286.4,711.2 286.6,711.1 286.9,710.2 287.1,710.0 287.4,709.2 287.6,708.7 287.9,707.1 288.1,705.6 288.4,704.6 288.6,704.3 288.9,704.4 289.1,703.3 289.4,701.9 289.6,702.5 289.9,701.4 290.1,702.9 290.4,702.6 290.6,704.0 290.9,704.9 291.1,705.4 291.4,706.8 291.6,707.1 291.9,708.7 292.1,710.3 292.4,712.9 292.6,711.9 292.9,712.4 293.1,712.5 293.4,714.2 293.6,713.3 293.9,714.3 294.1,715.3 294.4,714.8 294.6,716.7 294.9,716.7 295.1,716.0 295.4,716.2 295.6,716.0 295.9,716.1 296.1,717.2 296.4,717.4 296.6,717.4 296.9,717.4 297.1,717.0 297.4,717.6 297.6,716.6 297.9,717.5 298.1,718.4 298.4,718.3 298.6,717.4 298.9,717.5 299.1,718.4 299.4,718.7 299.6,716.9 299.9,717.5 300.1,717.9 300.4,718.4 300.6,717.3 300.9,718.1 301.1,717.6 301.4,719.1 301.6,718.0 301.9,717.7 302.1,717.6 302.4,718.3 302.6,718.1 302.9,717.1 303.1,717.8 303.4,717.0 303.6,717.3 303.9,717.0 304.1,716.9 304.4,717.3 304.6,717.1 304.9,717.9 305.1,718.0 305.4,717.4 305.6,716.9 305.9,717.9 306.1,716.3 306.4,716.3 306.6,717.7 306.9,717.7 307.1,717.8 307.4,717.1 307.6,716.4 307.9,716.8 308.1,717.3 308.4,716.5 308.6,716.5 308.9,716.0 309.1,716.1 309.4,717.1 309.6,716.8 309.9,715.8 310.1,715.7 310.4,715.9 310.6,716.4 310.9,715.3 311.1,715.7 311.4,714.5 311.6,714.8 311.9,715.5 312.1,715.6 312.4,714.2 312.6,714.2 312.9,714.8 313.1,713.8 313.4,713.3 313.6,713.5 313.9,712.9 314.1,712.8 314.4,712.1 314.6,710.6 314.9,710.1 315.1,709.2 315.4,707.5 315.6,706.6 315.9,706.4 316.1,703.6 316.4,703.4 316.6,701.3 316.9,699.2 317.1,697.5 317.4,695.2 317.6,693.3 317.9,689.9 318.1,687.4 318.4,684.7 318.6,683.2 318.9,680.1 319.1,676.5 319.4,674.6 319.6,672.5 319.9,671.4 320.1,670.6 320.4,671.4 320.6,669.5 320.9,671.9 321.1,673.0 321.4,674.2 321.6,676.7 321.9,678.9 322.1,681.8 322.4,684.9 322.6,686.1 322.9,690.2 323.1,691.7 323.4,695.1 323.6,696.6 323.9,699.0 324.1,700.4 324.4,702.3 324.6,703.2 324.9,704.0 325.1,705.9 325.4,706.8 325.6,708.4 325.9,706.7 326.1,708.2 326.4,709.3 326.6,708.2 326.9,708.9 327.1,710.2 327.4,709.7 327.6,708.3 327.9,709.3 328.1,708.8 328.4,708.2 328.6,707.6 328.9,707.1 329.1,706.0 329.4,705.8 329.6,706.2 329.9,705.7 330.1,706.6 330.4,705.4 330.6,704.5 330.9,706.0 331.1,706.9 331.4,707.5 331.6,708.0 331.9,708.2 332.1,710.1 332.4,709.6 332.6,711.0 332.9,711.1 333.1,711.1 333.4,713.1 333.6,711.4 333.9,712.7 334.1,713.8 334.4,713.7 334.6,714.6 334.9,714.4 335.1,714.4 335.4,716.0 335.6,714.8 335.9,715.0 336.1,714.6 336.4,714.8 336.6,715.6 336.9,715.6 337.1,715.4 337.4,715.0 337.6,715.7 337.9,714.4 338.1,715.1 338.4,715.2 338.6,714.8 338.9,715.3 339.1,714.7 339.4,714.6 339.6,715.9 339.9,715.2 340.1,715.3 340.4,714.5 340.6,714.9 340.9,714.6 341.1,714.6 341.4,715.0 341.6,713.3 341.9,713.3 342.1,712.8 342.4,710.5 342.6,711.3 342.9,711.7 343.1,711.5 343.4,710.4 343.6,710.8 343.9,710.3 344.1,708.8 344.4,709.1 344.6,708.6 344.9,707.2 345.1,705.6 345.4,706.2 345.6,704.4 345.9,703.5 346.1,702.9 346.4,701.6 346.6,701.7 346.9,700.6 347.1,700.1 347.4,698.9 347.6,697.4 347.9,697.1 348.1,697.2 348.4,696.0 348.6,697.5 348.9,695.6 349.1,695.3 349.4,696.4 349.6,696.4 349.9,696.2 350.1,696.6 350.4,697.4 350.6,698.2 350.9,698.8 351.1,698.9 351.4,700.0 351.6,700.8 351.9,701.4 352.1,699.9 352.4,701.7 352.6,702.3 352.9,703.1 353.1,703.7 353.4,704.5 353.6,704.5 353.9,704.3 354.1,704.5 354.4,705.4 354.6,704.0 354.9,704.4 355.1,704.8 355.4,703.7 355.6,701.9 355.9,702.7 356.1,701.6 356.4,701.0 356.6,700.8 356.9,699.6 357.1,698.2 357.4,697.9 357.6,696.5 357.9,695.3 358.1,694.3 358.4,693.2 358.6,691.9 358.9,690.9 359.1,690.4 359.4,689.3 359.6,688.7 359.9,689.8 360.1,689.0 360.4,689.3 360.6,689.7 360.9,690.4 361.1,691.2 361.4,692.2 361.6,692.8 361.9,695.0 362.1,695.3 362.4,697.5 362.6,697.1 362.9,698.8 363.1,701.1 363.4,701.7 363.6,702.5 363.9,704.1 364.1,704.3 364.4,705.9 364.6,705.4 364.9,707.2 365.1,707.8 365.4,709.1 365.6,709.8 365.9,709.3 366.1,711.1 366.4,710.2 366.6,709.6 366.9,709.6 367.1,711.8 367.4,710.8 367.6,710.3 367.9,709.9 368.1,709.1 368.4,709.7 368.6,707.9 368.9,707.7 369.1,705.2 369.4,702.3 369.6,702.3 369.9,699.6 370.1,697.8 370.4,697.1 370.6,694.8 370.9,695.0 371.1,694.5 371.4,695.0 371.6,697.3 371.9,698.6 372.1,701.8 372.4,703.7 372.6,705.3 372.9,707.4 373.1,709.0 373.4,709.9 373.6,711.8 373.9,712.2 374.1,713.4 374.4,713.2 374.6,714.4 374.9,715.0 375.1,714.7 375.4,715.2 375.6,715.4 375.9,716.3 376.1,715.6 376.4,716.4 376.6,717.2 376.9,716.7 377.1,715.7 377.4,716.7 377.6,717.3 377.9,716.7 378.1,717.5 378.4,717.3 378.6,717.3 378.9,717.0 379.1,716.9 379.4,717.1 379.6,717.3 379.9,717.6 380.1,717.6 380.4,717.3 380.6,717.5 380.9,717.7 381.1,716.6 381.4,717.1 381.6,717.1 381.9,717.5 382.1,717.5 382.4,717.5 382.6,717.2 382.9,718.1 383.1,717.9 383.4,716.8 383.6,717.8 383.9,717.2 384.1,718.7 384.4,717.6 384.6,717.6 384.9,717.9 385.1,717.8 385.4,717.8 385.6,718.7 385.9,718.0 386.1,718.4 386.4,718.5 386.6,717.4 386.9,718.9 387.1,718.3 387.4,718.5 387.6,717.5 387.9,718.4 388.1,718.2 388.4,717.7 388.6,719.3 388.9,718.3 389.1,717.9 389.4,718.1 389.6,718.5 389.9,718.6 390.1,718.3 390.4,718.7 390.6,718.8 390.9,717.3 391.1,717.8 391.4,717.5 391.6,718.1 391.9,718.8 392.1,718.4 392.4,717.5 392.6,717.9 392.9,718.6 393.1,717.7 393.4,718.0 393.6,718.2 393.9,717.0 394.1,718.4 394.4,718.2 394.6,718.3 394.9,717.4 395.1,717.5 395.4,717.6 395.6,718.1 395.9,718.0 396.1,718.0 396.4,718.9 396.6,718.6 396.9,717.5 397.1,717.5 397.4,718.8 397.6,717.6 397.9,718.5 398.1,718.6 398.4,717.4 398.6,717.5 398.9,717.6 399.1,717.0 399.4,716.8 399.6,716.9 399.9,717.4 400.1,716.5 400.4,716.3 400.6,715.8 400.9,715.0 401.1,716.1 401.4,713.6 401.6,714.1 401.9,714.5 402.1,713.3 402.4,714.4 402.6,715.0 402.9,714.1 403.1,715.1 403.4,714.8 403.6,716.0 403.9,716.1 404.1,716.5 404.4,717.3 404.6,717.0 404.9,717.6 405.1,717.3 405.4,716.4 405.6,717.2 405.9,717.4 406.1,716.3 406.4,717.8 406.6,717.1 406.9,717.3 407.1,716.5 407.4,717.0 407.6,717.1 407.9,716.7 408.1,716.9 408.4,715.6 408.6,717.5 408.9,716.0 409.1,715.3 409.4,715.9 409.6,715.8 409.9,716.5 410.1,715.5 410.4,716.0 410.6,715.1 410.9,716.6 411.1,715.5 411.4,715.9 411.6,714.0 411.9,714.5 412.1,713.2 412.4,713.5 412.6,713.1 412.9,711.2 413.1,710.8 413.4,710.0 413.6,708.9 413.9,708.5 414.1,707.3 414.4,706.0 414.6,705.7 414.9,704.7 415.1,702.5 415.4,701.6 415.6,700.7 415.9,699.3 416.1,697.8 416.4,697.6 416.6,696.7 416.9,696.0 417.1,695.0 417.4,696.1 417.6,696.1 417.9,695.4 418.1,696.2 418.4,697.8 418.6,697.8 418.9,699.6 419.1,700.6 419.4,701.5 419.6,703.0 419.9,703.5 420.1,705.3 420.4,705.6 420.6,709.1 420.9,709.6 421.1,710.4 421.4,710.7 421.6,711.9 421.9,712.7 422.1,713.2 422.4,713.6 422.6,713.1 422.9,714.3 423.1,714.1 423.4,714.1 423.6,714.4 423.9,715.5 424.1,716.1 424.4,714.9 424.6,716.8 424.9,716.8 425.1,715.9 425.4,716.0 425.6,716.3 425.9,716.9 426.1,716.3 426.4,715.9 426.6,716.7 426.9,715.5 427.1,716.7 427.4,717.3 427.6,716.8 427.9,717.0 428.1,716.8 428.4,716.9 428.6,716.5 428.9,715.8 429.1,716.0 429.4,715.8 429.6,716.2 429.9,716.0 430.1,714.8 430.4,713.5 430.6,712.8 430.9,712.2 431.1,712.2 431.4,710.7 431.6,709.8 431.9,708.9 432.1,709.7 432.4,709.7 432.6,710.1 432.9,711.1 433.1,712.9 433.4,712.8 433.6,714.7 433.9,715.2 434.1,715.1 434.4,716.1 434.6,716.0 434.9,715.9 435.1,716.5 435.4,716.4 435.6,717.3 435.9,717.2 436.1,717.6 436.4,717.8 436.6,715.7 436.9,717.6 437.1,716.5 437.4,717.7 437.6,717.1 437.9,717.7 438.1,718.4 438.4,716.8 438.6,717.8 438.9,717.7 439.1,716.7 439.4,718.1 439.6,717.8 439.9,717.5 440.1,717.4 440.4,719.6 440.6,717.7 440.9,716.9 441.1,717.4 441.4,717.7 441.6,717.7 441.9,717.9 442.1,717.4 442.4,718.3 442.6,717.8 442.9,717.3 443.1,717.6 443.4,717.9 443.6,718.6 443.9,718.4 444.1,717.9 444.4,718.1 444.6,718.3 444.9,719.3 445.1,717.8 445.4,718.4 445.6,718.6 445.9,717.7 446.1,718.3 446.4,718.3 446.6,717.9 446.9,718.5 447.1,718.8 447.4,718.8 447.6,718.1 447.9,718.3 448.1,719.5 448.4,717.6 448.6,718.3 448.9,718.7 449.1,718.3 449.4,718.6 449.6,718.3 449.9,718.6 450.1,718.9 450.4,718.0 450.6,718.2 450.9,718.1 451.1,717.9 451.4,718.0 451.6,717.4 451.9,718.4 452.1,718.8 452.4,718.8 452.6,718.5 452.9,717.2 453.1,718.5 453.4,717.1 453.6,717.4 453.9,718.3 454.1,716.6 454.4,717.5 454.6,717.0 454.9,716.6 455.1,716.1 455.4,716.6 455.6,715.9 455.9,716.6 456.1,716.5 456.4,714.9 456.6,715.1 456.9,715.1 457.1,714.4 457.4,714.3 457.6,714.8 457.9,714.6 458.1,713.7 458.4,714.3 458.6,714.9 458.9,714.0 459.1,714.3 459.4,715.8 459.6,715.8 459.9,714.3 460.1,714.7 460.4,715.8 460.6,715.2 460.9,715.9 461.1,716.0 461.4,716.8 461.6,715.3 461.9,715.7 462.1,716.4 462.4,717.8 462.6,717.4 462.9,716.7 463.1,718.0 463.4,718.3 463.6,717.9 463.9,717.9 464.1,718.5 464.4,719.0 464.6,718.5 464.9,718.8 465.1,718.6 465.4,718.4 465.6,718.2 465.9,718.9 466.1,718.7 466.4,718.7 466.6,719.4 466.9,719.2 467.1,719.5 467.4,718.2 467.6,719.4 467.9,718.8 468.1,718.7 468.4,718.7 468.6,719.8 468.9,719.6 469.1,718.8 469.4,718.6 469.6,719.3 469.9,719.0 470.1,720.2 470.4,718.5 470.6,718.3 470.9,719.2 471.1,719.4 471.4,719.5 471.6,719.8 471.9,720.6 472.1,719.2 472.4,719.1 472.6,718.4 472.9,719.5 473.1,719.8 473.4,719.2 473.6,720.0 473.9,719.3 474.1,720.1 474.4,719.5 474.6,718.7 474.9,718.9 475.1,718.4 475.4,718.3 475.6,719.4 475.9,719.7 476.1,720.3 476.4,719.1 476.6,719.0 476.9,718.5 477.1,719.6 477.4,719.3 477.6,718.7 477.9,719.4 478.1,719.3 478.4,718.0 478.6,719.4 478.9,719.0 479.1,718.7 479.4,718.7 479.6,719.8 479.9,719.7 480.1,719.8 480.4,718.2 480.6,718.4 480.9,719.2 481.1,718.0 481.4,718.2 481.6,717.6 481.9,719.6 482.1,719.1 482.4,718.7 482.6,718.5 482.9,718.1 483.1,718.0 483.4,718.4 483.6,717.6 483.9,718.5 484.1,717.4 484.4,716.9 484.6,717.9 484.9,716.7 485.1,716.7 485.4,715.7 485.6,714.2 485.9,715.2 486.1,713.5 486.4,714.1 486.6,712.0 486.9,711.3 487.1,712.0 487.4,711.9 487.6,711.7 487.9,711.2 488.1,712.8 488.4,712.1 488.6,713.3 488.9,713.7 489.1,714.6 489.4,715.8 489.6,715.4 489.9,716.5 490.1,716.9 490.4,715.9 490.6,716.4 490.9,717.0 491.1,717.1 491.4,717.7 491.6,716.5 491.9,718.0 492.1,718.1 492.4,717.6 492.6,717.0 492.9,717.8 493.1,717.5 493.4,718.1 493.6,717.8 493.9,718.2 494.1,717.6 494.4,718.6 494.6,716.6 494.9,717.3 495.1,718.1 495.4,717.0 495.6,718.2 495.9,717.1 496.1,717.8 496.4,717.2 496.6,717.5 496.9,717.8 497.1,717.6 497.4,717.5 497.6,718.8 497.9,717.6 498.1,717.1 498.4,718.1 498.6,718.0 498.9,718.2 499.1,718.5 499.4,716.9 499.6,718.0 499.9,718.0 500.1,717.3 500.4,717.4 500.6,715.6 500.9,716.8 501.1,718.1 501.4,716.0 501.6,716.6 501.9,717.0 502.1,717.1 502.4,717.6 502.6,715.6 502.9,716.5 503.1,716.8 503.4,715.5 503.6,716.1 503.9,717.0 504.1,716.6 504.4,716.0 504.6,714.1 504.9,715.3 505.1,715.5 505.4,714.9 505.6,714.9 505.9,716.5 506.1,714.6 506.4,714.0 506.6,714.6 506.9,714.1 507.1,714.0 507.4,714.1 507.6,714.5 507.9,714.1 508.1,713.3 508.4,713.9 508.6,714.3 508.9,713.8 509.1,714.7 509.4,714.6 509.6,713.7 509.9,714.5 510.1,715.5 510.4,715.4 510.6,714.6 510.9,715.2 511.1,714.4 511.4,714.1 511.6,715.3 511.9,715.2 512.1,715.5 512.4,715.2 512.6,715.5 512.9,715.1 513.1,715.7 513.4,716.0 513.6,715.5 513.9,716.1 514.1,714.7 514.4,715.2 514.6,716.5 514.9,716.7 515.1,715.9 515.4,715.7 515.6,715.1 515.9,716.0 516.1,716.2 516.4,715.0 516.6,716.1 516.9,716.1 517.1,716.0 517.4,715.2 517.6,716.1 517.9,714.9 518.1,716.6 518.4,715.8 518.6,715.1 518.9,716.5 519.1,716.3 519.4,715.3 519.6,716.9 519.9,715.1 520.1,715.8 520.4,716.3 520.6,714.3 520.9,716.1 521.1,715.5 521.4,715.5 521.6,714.9 521.9,715.7 522.1,714.9 522.4,714.9 522.6,715.2 522.9,714.7 523.1,716.3 523.4,714.6 523.6,714.9 523.9,715.2 524.1,715.3 524.4,715.7 524.6,715.7 524.9,715.1 525.1,715.0 525.4,715.2 525.6,715.6 525.9,715.5 526.1,714.8 526.4,714.0 526.6,716.3 526.9,715.6 527.1,715.2 527.4,715.2 527.6,714.7 527.9,714.4 528.1,714.7 528.4,714.8 528.6,714.5 528.9,714.1 529.1,714.7 529.4,715.1 529.6,714.5 529.9,714.8 530.1,713.6 530.4,714.6 530.6,714.6 530.9,714.0 531.1,713.7 531.4,714.8 531.6,714.1 531.9,714.8 532.1,714.3 532.4,714.9 532.6,714.3 532.9,713.6" fill="none" stroke="#f71818" stroke-width="1.8" stroke-linejoin="round"/><text x="414.2" y="507.4" font-family="'Liberation Sans', Arial, sans-serif" font-weight="bold" font-size="15.6" letter-spacing="0.5" fill="#0a66f0">HT-WC 4000h</text><text x="346.8" y="669.3" font-family="'Liberation Sans', Arial, sans-serif" font-weight="bold" font-size="15.6" letter-spacing="0.43" fill="#fa0f0f">HT-WC 500h + AO 30h</text><polyline points="102.4,559.3 102.6,559.6 102.9,559.8 103.1,559.7 103.4,559.2 103.6,559.7 103.9,559.4 104.1,559.9 104.4,560.6 104.6,560.1 104.9,559.6 105.1,559.0 105.4,559.1 105.6,559.0 105.9,560.1 106.1,559.4 106.4,559.8 106.6,559.5 106.9,559.8 107.1,560.4 107.4,559.4 107.6,559.6 107.9,559.4 108.1,560.1 108.4,559.3 108.6,559.2 108.9,559.1 109.1,559.1 109.4,559.9 109.6,560.9 109.9,559.3 110.1,560.1 110.4,559.8 110.6,559.2 110.9,559.6 111.1,559.6 111.4,559.4 111.6,560.5 111.9,558.8 112.1,559.8 112.4,559.8 112.6,559.4 112.9,559.7 113.1,560.0 113.4,559.7 113.6,559.8 113.9,559.9 114.1,558.7 114.4,560.3 114.6,560.6 114.9,560.0 115.1,560.0 115.4,558.9 115.6,559.5 115.9,559.2 116.1,559.3 116.4,560.0 116.6,559.1 116.9,559.4 117.1,558.6 117.4,559.4 117.6,559.5 117.9,559.1 118.1,559.1 118.4,560.2 118.6,558.8 118.9,558.9 119.1,559.0 119.4,559.8 119.6,560.2 119.9,559.4 120.1,558.9 120.4,559.0 120.6,559.6 120.9,558.6 121.1,559.6 121.4,559.6 121.6,558.9 121.9,559.0 122.1,559.0 122.4,559.2 122.6,557.9 122.9,558.7 123.1,557.7 123.4,557.3 123.6,557.4 123.9,556.9 124.1,556.1 124.4,555.4 124.6,555.1 124.9,555.6 125.1,555.3 125.4,554.1 125.6,553.7 125.9,552.3 126.1,552.0 126.4,551.8 126.6,550.9 126.9,551.0 127.1,551.6 127.4,551.8 127.6,551.9 127.9,553.1 128.1,553.4 128.4,554.6 128.6,554.8 128.9,555.2 129.1,555.9 129.4,556.2 129.6,556.4 129.9,556.9 130.1,557.7 130.4,558.0 130.6,558.5 130.9,557.3 131.1,558.0 131.4,558.2 131.6,558.5 131.9,558.3 132.1,558.4 132.4,559.0 132.6,558.8 132.9,558.2 133.1,559.4 133.4,559.2 133.6,558.6 133.9,559.2 134.1,558.5 134.4,559.4 134.6,558.8 134.9,558.5 135.1,558.7 135.4,558.5 135.6,558.9 135.9,558.9 136.1,558.8 136.4,558.6 136.6,557.2 136.9,558.8 137.1,557.9 137.4,558.9 137.6,559.2 137.9,558.8 138.1,558.5 138.4,558.6 138.6,558.6 138.9,558.4 139.1,558.3 139.4,558.1 139.6,559.0 139.9,558.4 140.1,558.8 140.4,558.2 140.6,558.3 140.9,558.2 141.1,558.4 141.4,558.5 141.6,558.2 141.9,557.7 142.1,557.5 142.4,558.6 142.6,557.6 142.9,557.5 143.1,558.2 143.4,557.9 143.6,557.5 143.9,556.9 144.1,558.0 144.4,557.0 144.6,556.8 144.9,556.3 145.1,555.5 145.4,555.3 145.6,555.8 145.9,555.5 146.1,554.8 146.4,554.0 146.6,553.4 146.9,553.4 147.1,552.3 147.4,552.7 147.6,551.9 147.9,551.6 148.1,549.5 148.4,547.2 148.6,544.9 148.9,540.9 149.1,538.5 149.4,533.8 149.6,528.1 149.9,520.1 150.1,510.6 150.4,499.2 150.6,486.6 150.9,473.1 151.1,458.2 151.4,446.2 151.6,437.1 151.9,435.3 152.1,438.3 152.4,446.6 152.6,458.0 152.9,472.4 153.1,485.9 153.4,498.8 153.6,509.9 153.9,519.7 154.1,527.1 154.4,533.8 154.6,538.3 154.9,541.7 155.1,544.5 155.4,546.5 155.6,548.6 155.9,549.3 156.1,550.5 156.4,551.0 156.6,551.1 156.9,552.6 157.1,552.1 157.4,553.2 157.6,553.4 157.9,552.6 158.1,553.1 158.4,553.3 158.6,553.2 158.9,553.1 159.1,553.9 159.4,553.4 159.6,553.5 159.9,553.0 160.1,553.2 160.4,552.5 160.6,552.6 160.9,552.6 161.1,552.1 161.4,551.6 161.6,551.0 161.9,551.3 162.1,551.0 162.4,550.5 162.6,550.0 162.9,550.3 163.1,551.0 163.4,549.6 163.6,549.8 163.9,549.8 164.1,548.5 164.4,549.8 164.6,549.6 164.9,550.7 165.1,550.2 165.4,550.3 165.6,550.9 165.9,551.4 166.1,551.4 166.4,552.0 166.6,551.7 166.9,552.6 167.1,553.3 167.4,554.2 167.6,553.9 167.9,553.9 168.1,554.5 168.4,554.5 168.6,554.9 168.9,554.6 169.1,554.0 169.4,554.1 169.6,553.9 169.9,553.7 170.1,553.4 170.4,552.6 170.6,551.8 170.9,552.2 171.1,551.5 171.4,552.5 171.6,552.7 171.9,552.3 172.1,553.8 172.4,554.3 172.6,554.5 172.9,555.6 173.1,556.1 173.4,555.0 173.6,556.2 173.9,556.2 174.1,556.3 174.4,556.5 174.6,555.7 174.9,555.7 175.1,555.4 175.4,555.2 175.6,555.3 175.9,554.4 176.1,554.3 176.4,554.8 176.6,554.5 176.9,554.8 177.1,554.0 177.4,554.7 177.6,555.1 177.9,555.6 178.1,555.6 178.4,556.5 178.6,556.2 178.9,556.3 179.1,556.3 179.4,556.6 179.6,556.1 179.9,556.8 180.1,556.4 180.4,556.2 180.6,556.0 180.9,556.1 181.1,556.2 181.4,556.0 181.6,555.6 181.9,555.6 182.1,555.1 182.4,555.4 182.6,554.5 182.9,553.3 183.1,554.5 183.4,553.6 183.6,552.6 183.9,552.5 184.1,551.7 184.4,552.4 184.6,551.0 184.9,549.2 185.1,549.1 185.4,547.4 185.6,546.9 185.9,543.6 186.1,540.3 186.4,537.6 186.6,532.2 186.9,524.9 187.1,514.6 187.4,503.7 187.6,490.1 187.9,473.6 188.1,462.1 188.4,454.2 188.6,456.1 188.9,461.5 189.1,469.7 189.4,478.1 189.6,483.7 189.9,487.0 190.1,489.5 190.4,489.4 190.6,488.6 190.9,489.7 191.1,487.7 191.4,486.3 191.6,484.4 191.9,479.8 192.1,474.0 192.4,466.1 192.6,455.6 192.9,443.8 193.1,433.0 193.4,424.9 193.6,425.6 193.9,434.4 194.1,448.6 194.4,466.6 194.6,483.2 194.9,499.1 195.1,511.1 195.4,520.4 195.6,526.9 195.9,532.6 196.1,535.5 196.4,538.3 196.6,539.1 196.9,539.2 197.1,539.6 197.4,538.6 197.6,536.4 197.9,535.1 198.1,531.8 198.4,528.9 198.6,526.3 198.9,523.5 199.1,522.2 199.4,522.4 199.6,524.6 199.9,527.2 200.1,529.5 200.4,533.6 200.6,535.8 200.9,538.5 201.1,540.7 201.4,541.6 201.6,543.1 201.9,541.8 202.1,540.1 202.4,539.3 202.6,535.8 202.9,532.3 203.1,526.9 203.4,524.1 203.6,519.4 203.9,515.5 204.1,513.4 204.4,513.7 204.6,515.2 204.9,519.7 205.1,523.9 205.4,529.2 205.6,534.8 205.9,538.8 206.1,541.8 206.4,545.6 206.6,547.8 206.9,549.4 207.1,551.5 207.4,552.3 207.6,552.6 207.9,553.5 208.1,555.4 208.4,554.4 208.6,555.5 208.9,556.0 209.1,556.3 209.4,555.7 209.6,556.3 209.9,556.7 210.1,557.2 210.4,556.7 210.6,556.6 210.9,557.7 211.1,557.9 211.4,557.6 211.6,557.3 211.9,557.8 212.1,557.8 212.4,558.2 212.6,557.3 212.9,558.0 213.1,557.9 213.4,557.6 213.6,558.2 213.9,558.2 214.1,558.0 214.4,558.4 214.6,557.6 214.9,558.3 215.1,558.5 215.4,558.5 215.6,558.9 215.9,557.9 216.1,557.7 216.4,558.5 216.6,558.7 216.9,559.4 217.1,558.8 217.4,558.1 217.6,558.9 217.9,558.1 218.1,557.8 218.4,559.7 218.6,558.7 218.9,558.8 219.1,558.8 219.4,559.3 219.6,558.6 219.9,559.0 220.1,558.0 220.4,557.8 220.6,559.1 220.9,559.1 221.1,558.6 221.4,558.4 221.6,558.4 221.9,557.9 222.1,558.9 222.4,558.4 222.6,558.3 222.9,558.2 223.1,558.4 223.4,558.0 223.6,558.0 223.9,557.0 224.1,557.6 224.4,558.1 224.6,556.7 224.9,556.6 225.1,556.7 225.4,556.3 225.6,555.7 225.9,554.1 226.1,554.4 226.4,553.0 226.6,552.3 226.9,552.0 227.1,550.7 227.4,550.1 227.6,550.0 227.9,547.8 228.1,546.7 228.4,544.9 228.6,544.2 228.9,543.3 229.1,543.2 229.4,542.9 229.6,543.4 229.9,544.2 230.1,544.7 230.4,545.5 230.6,546.7 230.9,548.6 231.1,549.6 231.4,551.1 231.6,552.1 231.9,552.4 232.1,553.7 232.4,553.5 232.6,555.8 232.9,555.9 233.1,555.8 233.4,555.8 233.6,556.8 233.9,556.1 234.1,556.9 234.4,557.8 234.6,557.6 234.9,557.5 235.1,558.3 235.4,557.5 235.6,558.2 235.9,558.0 236.1,557.9 236.4,558.5 236.6,558.0 236.9,559.3 237.1,558.2 237.4,559.4 237.6,558.1 237.9,558.9 238.1,558.1 238.4,558.1 238.6,558.8 238.9,559.0 239.1,558.2 239.4,559.3 239.6,558.4 239.9,558.8 240.1,559.0 240.4,559.1 240.6,558.0 240.9,559.5 241.1,559.1 241.4,558.6 241.6,558.4 241.9,558.1 242.1,558.2 242.4,559.1 242.6,558.7 242.9,558.3 243.1,558.6 243.4,559.5 243.6,558.7 243.9,558.5 244.1,559.4 244.4,559.0 244.6,558.8 244.9,558.5 245.1,558.0 245.4,558.2 245.6,558.5 245.9,558.6 246.1,558.8 246.4,558.8 246.6,558.7 246.9,558.6 247.1,558.1 247.4,557.5 247.6,558.2 247.9,558.0 248.1,558.0 248.4,558.2 248.6,557.7 248.9,557.7 249.1,558.0 249.4,558.1 249.6,557.6 249.9,558.1 250.1,557.6 250.4,557.2 250.6,557.5 250.9,558.2 251.1,556.9 251.4,557.5 251.6,557.4 251.9,557.2 252.1,555.9 252.4,556.8 252.6,555.6 252.9,555.0 253.1,554.5 253.4,554.3 253.6,553.5 253.9,552.7 254.1,552.6 254.4,550.9 254.6,549.8 254.9,549.6 255.1,548.5 255.4,547.6 255.6,545.4 255.9,545.2 256.1,543.7 256.4,543.0 256.6,540.5 256.9,540.1 257.1,539.0 257.4,537.8 257.6,537.7 257.9,538.4 258.1,537.8 258.4,538.1 258.6,539.5 258.9,540.5 259.1,541.5 259.4,541.8 259.6,543.4 259.9,545.1 260.1,545.5 260.4,546.7 260.6,548.5 260.9,549.9 261.1,549.7 261.4,549.9 261.6,551.3 261.9,552.2 262.1,553.3 262.4,554.2 262.6,554.4 262.9,554.7 263.1,555.5 263.4,555.3 263.6,556.1 263.9,556.1 264.1,557.8 264.4,557.2 264.6,556.6 264.9,556.7 265.1,557.1 265.4,556.6 265.6,557.2 265.9,557.2 266.1,558.0 266.4,557.5 266.6,557.4 266.9,557.2 267.1,557.3 267.4,557.9 267.6,557.8 267.9,558.5 268.1,557.7 268.4,558.4 268.6,558.1 268.9,558.0 269.1,557.0 269.4,557.3 269.6,558.2 269.9,558.5 270.1,557.9 270.4,558.1 270.6,557.5 270.9,557.4 271.1,557.1 271.4,557.7 271.6,557.2 271.9,556.7 272.1,556.3 272.4,556.2 272.6,555.4 272.9,553.8 273.1,553.4 273.4,550.7 273.6,547.9 273.9,545.4 274.1,541.8 274.4,538.3 274.6,537.0 274.9,536.9 275.1,539.5 275.4,542.0 275.6,546.8 275.9,548.2 276.1,551.5 276.4,552.4 276.6,553.3 276.9,554.3 277.1,554.8 277.4,555.1 277.6,555.6 277.9,554.8 278.1,554.8 278.4,553.9 278.6,554.1 278.9,553.3 279.1,552.6 279.4,552.2 279.6,551.6 279.9,551.2 280.1,550.8 280.4,549.9 280.6,549.5 280.9,550.0 281.1,548.9 281.4,549.5 281.6,550.8 281.9,549.2 282.1,550.6 282.4,551.7 282.6,551.1 282.9,553.5 283.1,551.6 283.4,553.7 283.6,554.1 283.9,554.0 284.1,553.6 284.4,554.0 284.6,553.4 284.9,554.1 285.1,553.0 285.4,553.2 285.6,553.5 285.9,552.2 286.1,552.1 286.4,551.9 286.6,550.7 286.9,551.2 287.1,550.2 287.4,548.8 287.6,548.8 287.9,547.8 288.1,547.2 288.4,546.9 288.6,546.0 288.9,546.2 289.1,545.1 289.4,545.6 289.6,545.0 289.9,545.4 290.1,544.9 290.4,545.2 290.6,545.3 290.9,546.6 291.1,547.4 291.4,548.6 291.6,548.9 291.9,549.1 292.1,549.6 292.4,550.6 292.6,551.1 292.9,552.4 293.1,552.8 293.4,552.6 293.6,553.2 293.9,554.7 294.1,554.6 294.4,554.8 294.6,555.9 294.9,555.5 295.1,555.9 295.4,556.1 295.6,555.7 295.9,557.2 296.1,556.4 296.4,556.9 296.6,557.0 296.9,557.8 297.1,557.5 297.4,557.7 297.6,557.0 297.9,557.8 298.1,557.3 298.4,558.2 298.6,558.2 298.9,558.1 299.1,559.1 299.4,558.5 299.6,558.5 299.9,558.4 300.1,558.3 300.4,558.8 300.6,558.9 300.9,557.8 301.1,558.9 301.4,558.7 301.6,558.9 301.9,558.7 302.1,557.9 302.4,558.0 302.6,559.4 302.9,558.7 303.1,557.9 303.4,558.7 303.6,558.4 303.9,557.7 304.1,557.5 304.4,557.8 304.6,558.7 304.9,558.5 305.1,558.4 305.4,558.7 305.6,558.8 305.9,557.6 306.1,558.4 306.4,558.1 306.6,557.9 306.9,558.2 307.1,558.4 307.4,558.3 307.6,557.7 307.9,558.2 308.1,559.3 308.4,557.8 308.6,557.5 308.9,558.4 309.1,558.5 309.4,558.4 309.6,557.6 309.9,558.5 310.1,557.7 310.4,557.5 310.6,557.7 310.9,557.8 311.1,558.1 311.4,558.0 311.6,557.6 311.9,558.0 312.1,557.5 312.4,557.7 312.6,556.6 312.9,556.4 313.1,557.3 313.4,556.2 313.6,556.5 313.9,556.4 314.1,556.0 314.4,555.7 314.6,556.3 314.9,554.2 315.1,555.3 315.4,555.4 315.6,553.8 315.9,553.1 316.1,552.6 316.4,552.1 316.6,549.6 316.9,548.7 317.1,546.9 317.4,545.3 317.6,542.8 317.9,540.5 318.1,537.1 318.4,534.2 318.6,530.5 318.9,527.1 319.1,523.9 319.4,520.8 319.6,517.7 319.9,517.1 320.1,515.5 320.4,515.2 320.6,517.7 320.9,519.2 321.1,522.7 321.4,525.7 321.6,529.2 321.9,532.5 322.1,535.3 322.4,538.5 322.6,542.0 322.9,542.4 323.1,545.4 323.4,547.2 323.6,548.0 323.9,549.0 324.1,551.5 324.4,551.1 324.6,552.8 324.9,552.6 325.1,552.6 325.4,553.0 325.6,553.1 325.9,553.3 326.1,552.8 326.4,552.4 326.6,551.9 326.9,551.9 327.1,550.9 327.4,549.2 327.6,548.3 327.9,547.5 328.1,545.6 328.4,544.2 328.6,542.2 328.9,540.7 329.1,539.1 329.4,537.6 329.6,535.7 329.9,535.4 330.1,533.8 330.4,535.3 330.6,534.9 330.9,535.8 331.1,536.9 331.4,537.6 331.6,540.8 331.9,542.8 332.1,545.5 332.4,545.7 332.6,548.7 332.9,549.2 333.1,550.8 333.4,550.4 333.6,552.5 333.9,553.1 334.1,554.2 334.4,554.4 334.6,554.3 334.9,555.6 335.1,555.8 335.4,556.0 335.6,556.4 335.9,556.6 336.1,556.2 336.4,555.7 336.6,555.7 336.9,557.0 337.1,556.8 337.4,556.6 337.6,556.3 337.9,556.6 338.1,556.5 338.4,556.4 338.6,556.2 338.9,557.4 339.1,556.5 339.4,556.1 339.6,555.7 339.9,555.8 340.1,556.4 340.4,556.3 340.6,555.7 340.9,555.7 341.1,555.4 341.4,554.8 341.6,555.7 341.9,555.1 342.1,555.8 342.4,554.1 342.6,554.2 342.9,554.3 343.1,553.5 343.4,552.7 343.6,552.6 343.9,552.7 344.1,552.5 344.4,551.9 344.6,552.0 344.9,551.5 345.1,550.8 345.4,550.2 345.6,549.7 345.9,549.6 346.1,549.3 346.4,548.4 346.6,548.1 346.9,547.3 347.1,546.4 347.4,546.1 347.6,546.5 347.9,546.0 348.1,546.1 348.4,545.2 348.6,545.3 348.9,545.3 349.1,545.0 349.4,544.2 349.6,544.3 349.9,544.5 350.1,544.1 350.4,544.9 350.6,545.3 350.9,544.9 351.1,546.2 351.4,545.5 351.6,545.9 351.9,546.2 352.1,546.3 352.4,547.2 352.6,547.3 352.9,548.4 353.1,548.2 353.4,548.5 353.6,548.4 353.9,548.0 354.1,548.8 354.4,548.5 354.6,549.4 354.9,548.9 355.1,549.5 355.4,548.9 355.6,548.7 355.9,548.0 356.1,547.6 356.4,547.2 356.6,546.7 356.9,545.2 357.1,544.9 357.4,544.9 357.6,542.7 357.9,541.6 358.1,540.4 358.4,539.1 358.6,539.5 358.9,538.2 359.1,537.8 359.4,538.2 359.6,538.5 359.9,537.3 360.1,538.8 360.4,539.4 360.6,540.2 360.9,541.4 361.1,542.4 361.4,544.3 361.6,545.1 361.9,546.1 362.1,547.7 362.4,548.5 362.6,549.3 362.9,550.1 363.1,551.6 363.4,551.7 363.6,552.1 363.9,552.3 364.1,553.0 364.4,553.0 364.6,553.9 364.9,554.2 365.1,553.4 365.4,554.4 365.6,554.8 365.9,554.6 366.1,554.1 366.4,555.0 366.6,554.0 366.9,553.5 367.1,553.3 367.4,553.4 367.6,553.2 367.9,552.6 368.1,551.1 368.4,549.0 368.6,547.3 368.9,544.5 369.1,541.2 369.4,535.9 369.6,531.1 369.9,524.6 370.1,516.9 370.4,509.7 370.6,502.9 370.9,499.3 371.1,500.1 371.4,505.1 371.6,511.6 371.9,518.5 372.1,526.7 372.4,532.6 372.6,538.9 372.9,542.9 373.1,546.0 373.4,549.2 373.6,550.4 373.9,551.8 374.1,552.7 374.4,554.3 374.6,554.8 374.9,555.3 375.1,555.5 375.4,556.7 375.6,556.2 375.9,556.3 376.1,557.4 376.4,557.7 376.6,557.4 376.9,556.6 377.1,557.3 377.4,557.9 377.6,557.8 377.9,558.6 378.1,557.4 378.4,558.4 378.6,557.9 378.9,558.8 379.1,558.2 379.4,558.8 379.6,558.1 379.9,557.8 380.1,558.0 380.4,558.2 380.6,558.1 380.9,559.1 381.1,559.2 381.4,558.8 381.6,558.2 381.9,558.7 382.1,558.4 382.4,559.4 382.6,558.9 382.9,559.0 383.1,558.7 383.4,557.9 383.6,558.5 383.9,558.4 384.1,559.1 384.4,558.9 384.6,558.6 384.9,558.8 385.1,559.6 385.4,558.5 385.6,558.5 385.9,558.9 386.1,558.6 386.4,558.8 386.6,559.2 386.9,559.8 387.1,558.2 387.4,559.0 387.6,559.0 387.9,558.9 388.1,558.9 388.4,558.8 388.6,559.4 388.9,558.8 389.1,558.9 389.4,558.9 389.6,559.0 389.9,558.9 390.1,559.4 390.4,558.9 390.6,559.0 390.9,558.9 391.1,558.4 391.4,558.5 391.6,558.3 391.9,558.9 392.1,558.5 392.4,558.3 392.6,558.8 392.9,558.9 393.1,557.9 393.4,559.4 393.6,558.6 393.9,558.5 394.1,558.9 394.4,558.4 394.6,558.1 394.9,559.3 395.1,557.7 395.4,558.1 395.6,558.4 395.9,557.4 396.1,557.8 396.4,557.8 396.6,558.6 396.9,556.9 397.1,557.1 397.4,557.2 397.6,556.7 397.9,555.8 398.1,556.1 398.4,555.5 398.6,555.0 398.9,554.6 399.1,553.5 399.4,552.0 399.6,550.3 399.9,547.7 400.1,545.7 400.4,543.0 400.6,539.3 400.9,535.8 401.1,531.3 401.4,528.4 401.6,525.0 401.9,521.2 402.1,520.3 402.4,520.5 402.6,523.3 402.9,526.3 403.1,530.0 403.4,533.9 403.6,538.0 403.9,541.0 404.1,544.8 404.4,546.7 404.6,549.4 404.9,551.0 405.1,552.8 405.4,553.3 405.6,554.6 405.9,554.4 406.1,555.6 406.4,555.6 406.6,556.1 406.9,556.2 407.1,556.8 407.4,555.7 407.6,556.8 407.9,556.1 408.1,557.4 408.4,556.1 408.6,556.5 408.9,556.3 409.1,557.7 409.4,556.4 409.6,557.0 409.9,556.7 410.1,556.0 410.4,556.6 410.6,556.9 410.9,556.4 411.1,556.7 411.4,555.9 411.6,555.8 411.9,555.3 412.1,555.3 412.4,555.5 412.6,554.4 412.9,553.7 413.1,552.8 413.4,552.0 413.6,552.3 413.9,550.3 414.1,549.5 414.4,548.9 414.6,547.7 414.9,547.7 415.1,544.7 415.4,544.9 415.6,544.0 415.9,542.3 416.1,541.7 416.4,541.6 416.6,541.8 416.9,540.5 417.1,540.3 417.4,541.8 417.6,542.7 417.9,542.7 418.1,542.7 418.4,545.4 418.6,545.7 418.9,547.4 419.1,547.9 419.4,548.8 419.6,549.7 419.9,551.5 420.1,552.3 420.4,551.5 420.6,552.7 420.9,554.5 421.1,554.1 421.4,554.2 421.6,555.2 421.9,555.5 422.1,555.8 422.4,555.9 422.6,556.3 422.9,556.4 423.1,556.9 423.4,556.5 423.6,556.9 423.9,557.1 424.1,557.8 424.4,557.4 424.6,557.3 424.9,557.6 425.1,557.5 425.4,557.8 425.6,557.6 425.9,558.1 426.1,557.9 426.4,557.2 426.6,557.0 426.9,557.5 427.1,557.2 427.4,556.8 427.6,556.0 427.9,555.6 428.1,556.3 428.4,556.1 428.6,555.7 428.9,554.2 429.1,554.6 429.4,553.2 429.6,552.7 429.9,551.6 430.1,549.9 430.4,548.6 430.6,546.4 430.9,545.3 431.1,543.1 431.4,542.4 431.6,540.6 431.9,539.6 432.1,538.3 432.4,537.3 432.6,537.9 432.9,538.2 433.1,539.7 433.4,541.1 433.6,542.2 433.9,544.4 434.1,546.2 434.4,547.7 434.6,549.7 434.9,551.5 435.1,551.7 435.4,552.8 435.6,552.9 435.9,554.6 436.1,555.1 436.4,554.8 436.6,556.4 436.9,556.9 437.1,556.6 437.4,557.0 437.6,556.9 437.9,557.9 438.1,557.0 438.4,557.7 438.6,558.8 438.9,558.1 439.1,558.4 439.4,558.2 439.6,557.8 439.9,558.4 440.1,558.6 440.4,558.0 440.6,558.7 440.9,559.1 441.1,559.1 441.4,557.9 441.6,558.2 441.9,558.0 442.1,559.2 442.4,559.0 442.6,559.1 442.9,558.4 443.1,558.3 443.4,558.9 443.6,558.9 443.9,558.5 444.1,559.0 444.4,559.2 444.6,559.0 444.9,558.5 445.1,558.0 445.4,558.8 445.6,559.0 445.9,558.9 446.1,558.8 446.4,558.7 446.6,559.3 446.9,559.0 447.1,559.1 447.4,558.6 447.6,558.7 447.9,559.1 448.1,558.5 448.4,558.4 448.6,558.8 448.9,559.5 449.1,559.1 449.4,559.6 449.6,558.9 449.9,558.8 450.1,558.3 450.4,558.6 450.6,559.5 450.9,559.0 451.1,559.2 451.4,559.1 451.6,558.8 451.9,558.6 452.1,558.7 452.4,558.9 452.6,558.8 452.9,558.7 453.1,558.5 453.4,558.0 453.6,558.1 453.9,557.7 454.1,558.4 454.4,556.9 454.6,557.6 454.9,558.6 455.1,557.2 455.4,556.6 455.6,556.9 455.9,557.3 456.1,556.4 456.4,556.6 456.6,556.1 456.9,555.7 457.1,557.1 457.4,555.6 457.6,555.2 457.9,555.1 458.1,555.5 458.4,555.5 458.6,555.7 458.9,555.6 459.1,555.0 459.4,556.0 459.6,555.9 459.9,556.1 460.1,555.8 460.4,556.4 460.6,556.5 460.9,557.1 461.1,556.6 461.4,557.5 461.6,557.7 461.9,557.3 462.1,557.7 462.4,557.7 462.6,558.6 462.9,557.2 463.1,558.2 463.4,557.7 463.6,558.4 463.9,559.0 464.1,558.4 464.4,558.8 464.6,558.4 464.9,559.7 465.1,559.3 465.4,559.4 465.6,558.3 465.9,558.4 466.1,559.4 466.4,558.9 466.6,558.9 466.9,559.2 467.1,558.5 467.4,559.4 467.6,559.1 467.9,559.3 468.1,558.8 468.4,559.3 468.6,558.8 468.9,559.5 469.1,559.6 469.4,559.5 469.6,559.3 469.9,559.4 470.1,557.9 470.4,559.5 470.6,559.0 470.9,559.1 471.1,559.0 471.4,558.5 471.6,558.9 471.9,559.4 472.1,559.7 472.4,558.8 472.6,558.7 472.9,559.8 473.1,558.7 473.4,560.0 473.6,559.1 473.9,558.7 474.1,559.5 474.4,559.8 474.6,558.4 474.9,559.8 475.1,558.9 475.4,559.7 475.6,558.9 475.9,558.3 476.1,559.3 476.4,559.4 476.6,560.0 476.9,559.8 477.1,559.3 477.4,558.9 477.6,558.7 477.9,558.8 478.1,558.6 478.4,558.8 478.6,557.8 478.9,559.0 479.1,558.8 479.4,560.0 479.6,559.2 479.9,558.6 480.1,559.0 480.4,558.2 480.6,558.4 480.9,557.8 481.1,559.2 481.4,558.8 481.6,558.0 481.9,558.4 482.1,558.8 482.4,558.5 482.6,558.4 482.9,557.7 483.1,557.7 483.4,557.8 483.6,558.0 483.9,557.0 484.1,556.5 484.4,557.2 484.6,555.8 484.9,556.1 485.1,555.0 485.4,554.4 485.6,553.8 485.9,552.1 486.1,550.9 486.4,548.7 486.6,547.4 486.9,546.7 487.1,546.0 487.4,545.2 487.6,545.5 487.9,544.9 488.1,545.8 488.4,547.3 488.6,548.3 488.9,549.6 489.1,550.5 489.4,552.7 489.6,552.9 489.9,554.5 490.1,554.5 490.4,556.3 490.6,555.9 490.9,557.1 491.1,556.4 491.4,557.2 491.6,558.1 491.9,557.4 492.1,557.9 492.4,557.8 492.6,557.1 492.9,558.4 493.1,558.5 493.4,557.8 493.6,558.7 493.9,558.1 494.1,558.0 494.4,558.5 494.6,558.3 494.9,559.6 495.1,557.9 495.4,559.0 495.6,559.1 495.9,557.8 496.1,557.9 496.4,559.0 496.6,558.5 496.9,558.9 497.1,559.2 497.4,558.6 497.6,558.3 497.9,557.5 498.1,558.9 498.4,558.3 498.6,558.9 498.9,558.9 499.1,558.1 499.4,559.5 499.6,559.2 499.9,559.1 500.1,558.2 500.4,558.6 500.6,558.5 500.9,558.5 501.1,558.2 501.4,558.9 501.6,558.8 501.9,558.8 502.1,558.4 502.4,559.2 502.6,558.7 502.9,557.3 503.1,558.2 503.4,558.4 503.6,558.9 503.9,558.2 504.1,558.2 504.4,558.0 504.6,558.5 504.9,557.9 505.1,557.8 505.4,557.6 505.6,558.1 505.9,557.5 506.1,556.9 506.4,557.8 506.6,557.1 506.9,557.5 507.1,557.3 507.4,557.6 507.6,557.4 507.9,556.6 508.1,556.6 508.4,556.0 508.6,557.3 508.9,556.7 509.1,557.1 509.4,556.3 509.6,555.5 509.9,557.1 510.1,556.5 510.4,556.6 510.6,556.7 510.9,557.0 511.1,557.1 511.4,556.2 511.6,557.6 511.9,556.9 512.1,557.1 512.4,558.2 512.6,558.0 512.9,557.5 513.1,556.9 513.4,557.9 513.6,558.2 513.9,558.0 514.1,557.5 514.4,557.8 514.6,557.7 514.9,558.4 515.1,558.7 515.4,558.9 515.6,558.1 515.9,558.6 516.1,558.8 516.4,558.3 516.6,558.5 516.9,559.6 517.1,558.7 517.4,559.1 517.6,558.5 517.9,558.7 518.1,557.9 518.4,558.7 518.6,559.3 518.9,559.7 519.1,559.3 519.4,559.1 519.6,558.8 519.9,558.5 520.1,558.7 520.4,559.1 520.6,558.4 520.9,559.2 521.1,558.4 521.4,558.0 521.6,558.3 521.9,558.1 522.1,558.2 522.4,559.3 522.6,558.7 522.9,558.9 523.1,559.3 523.4,559.4 523.6,558.6 523.9,559.4 524.1,559.0 524.4,558.8 524.6,559.0 524.9,558.2 525.1,558.5 525.4,558.8 525.6,559.1 525.9,558.7 526.1,558.8 526.4,559.3 526.6,559.5 526.9,559.2 527.1,559.4 527.4,558.6 527.6,558.7 527.9,559.0 528.1,558.7 528.4,558.6 528.6,559.6 528.9,558.7 529.1,558.4 529.4,559.0 529.6,559.6 529.9,558.9 530.1,559.4 530.4,558.6 530.6,558.6 530.9,558.5 531.1,558.8 531.4,559.6 531.6,558.3 531.9,559.6 532.1,558.4 532.4,558.7 532.6,559.2 532.9,559.1" fill="none" stroke="#0a63de" stroke-width="1.9" stroke-linejoin="round"/><path d="M126.8 554.0V762.2M151.9 438.3V762.2M164.0 552.3V762.2M171.3 555.1V762.2M176.4 557.8V762.2M188.4 457.2V762.2M193.6 428.4V762.2M199.3 525.3V762.2M204.3 516.5V762.2M229.3 546.1V762.2M257.9 541.4V762.2M274.7 540.0V762.2M281.0 552.6V762.2M289.8 548.2V762.2M320.2 518.4V762.2M330.3 537.7V762.2M349.5 547.2V762.2M359.6 541.5V762.2M371.0 502.6V762.2M402.2 523.4V762.2M416.9 543.5V762.2M432.5 540.5V762.2M487.6 548.4V762.2" stroke="#5a5a5a" stroke-width="1.0" stroke-dasharray="5 1.6" fill="none"/><g fill="#000"><circle cx="126.8" cy="541.6" r="3.1"/><circle cx="151.9" cy="427.9" r="3.1"/><circle cx="171.3" cy="547.9" r="3.1"/><circle cx="188.4" cy="447.5" r="3.1"/><circle cx="199.0" cy="514.7" r="3.1"/><circle cx="229.3" cy="536.0" r="3.1"/><circle cx="257.9" cy="530.1" r="3.1"/><circle cx="281.1" cy="541.5" r="3.1"/><circle cx="290.1" cy="538.6" r="3.1"/><circle cx="320.8" cy="507.9" r="3.1"/><circle cx="349.5" cy="535.5" r="3.1"/><circle cx="359.9" cy="529.8" r="3.1"/><circle cx="416.9" cy="532.6" r="3.1"/><path d="M178.1 543.4L182.3 548.1L178.1 552.8L173.9 548.1Z"/><path d="M196.2 416.2L200.4 420.9L196.2 425.6L192.0 420.9Z"/><path d="M205.0 500.9L209.2 505.6L205.0 510.3L200.8 505.6Z"/><path d="M275.9 523.8L280.1 528.5L275.9 533.2L271.7 528.5Z"/><path d="M330.8 521.3L335.0 526.0L330.8 530.7L326.6 526.0Z"/><path d="M371.0 487.8L375.2 492.5L371.0 497.2L366.8 492.5Z"/><path d="M402.2 508.6L406.4 513.3L402.2 518.0L398.0 513.3Z"/><path d="M432.7 525.0L436.9 529.7L432.7 534.4L428.5 529.7Z"/><path d="M487.8 532.5L492.0 537.2L487.8 541.9L483.6 537.2Z"/><circle cx="164.55" cy="540.10" r="1.95"/><circle cx="161.80" cy="543.90" r="1.95"/><circle cx="167.30" cy="543.90" r="1.95"/><circle cx="164.55" cy="542.50" r="1.85"/><path d="M164.05 543.40L165.05 543.40L165.65 546.90L163.45 546.90Z"/></g><rect x="349.8" y="422.2" width="165.5" height="59.9" fill="#fff" stroke="#444" stroke-width="1"/><g fill="#000"><circle cx="373.7" cy="433.0" r="2.2"/><circle cx="375.70" cy="451.46" r="1.56"/><circle cx="373.50" cy="454.50" r="1.56"/><circle cx="377.90" cy="454.50" r="1.56"/><circle cx="375.70" cy="453.38" r="1.48"/><path d="M375.30 454.10L376.10 454.10L376.58 456.90L374.82 456.90Z"/><path d="M376.3 470.2L379.0 473.9L376.3 477.6L373.6 473.9Z"/></g><g font-family="'Liberation Serif', 'Times New Roman', serif" font-size="13.2" fill="#111" stroke="#111" stroke-width="0.25"><text x="386.6" y="436.7">m-ZrO<tspan font-size="8.8" dy="3">2</tspan><tspan dy="-3"> (PDF#37-1484)</tspan></text><text x="387.5" y="457.5">t-ZrO<tspan font-size="8.8" dy="3">2</tspan><tspan dy="-3"> (PDF#50-1089)</tspan></text><text x="387.5" y="477.6">Zr (PDF#05-0665)</text></g><path d="M100.9 835.8H532.2V1184.0H100.9Z" fill="none" stroke="#1a1a1a" stroke-width="1.4"/><path d="M100.9 1184.0v6M131.7 1184.0v3.2M162.5 1184.0v6M193.3 1184.0v3.2M224.1 1184.0v6M254.9 1184.0v3.2M285.7 1184.0v6M316.6 1184.0v3.2M347.4 1184.0v6M378.2 1184.0v3.2M409.0 1184.0v6M439.8 1184.0v3.2M470.6 1184.0v6M501.4 1184.0v3.2M532.2 1184.0v6M100.9 1184.0h-3.6M100.9 1159.1h-6M100.9 1134.2h-3.6M100.9 1109.3h-6M100.9 1084.4h-3.6M100.9 1059.5h-6M100.9 1034.6h-3.6M100.9 1009.7h-6M100.9 984.8h-3.6M100.9 959.9h-6M100.9 935.0h-3.6M100.9 910.1h-6M100.9 885.2h-3.6M100.9 860.3h-6M100.9 835.4h-3.6" stroke="#1a1a1a" stroke-width="1.2" fill="none"/><g font-family="'Liberation Serif', 'Times New Roman', serif" font-size="13.8" fill="#111" stroke="#111" stroke-width="0.3" text-anchor="end"><text x="88.6" y="1163.8">0</text><text x="88.6" y="1114.0">50</text><text x="88.6" y="1064.2">100</text><text x="88.6" y="1014.4">150</text><text x="88.6" y="964.6">200</text><text x="88.6" y="914.8">250</text><text x="88.6" y="865.0">300</text></g><g font-family="'Liberation Serif', 'Times New Roman', serif" font-size="13.6" fill="#111" stroke="#111" stroke-width="0.3" text-anchor="middle"><text x="100.9" y="1206.1">20</text><text x="162.5" y="1206.1">30</text><text x="224.1" y="1206.1">40</text><text x="285.7" y="1206.1">50</text><text x="347.4" y="1206.1">60</text><text x="409.0" y="1206.1">70</text><text x="470.6" y="1206.1">80</text><text x="532.2" y="1206.1">90</text></g><text x="333.0" y="1229.1" font-family="'Liberation Serif', 'Times New Roman', serif" font-size="18" fill="#111" stroke="#111" stroke-width="0.3" text-anchor="middle">Diffraction angle (2θ)</text><text transform="translate(55.3 988.6) rotate(-90)" font-family="'Liberation Serif', 'Times New Roman', serif" font-size="17.6" fill="#111" stroke="#111" stroke-width="0.3" text-anchor="middle">Intensity (a.u)</text><polyline points="101.6,1090.3 101.7,1092.6 101.8,1091.3 102.0,1100.0 102.1,1090.4 102.2,1084.0 102.3,1092.9 102.4,1092.5 102.6,1093.2 102.7,1085.9 102.8,1097.5 102.9,1092.7 103.0,1092.7 103.2,1086.3 103.3,1095.1 103.4,1092.9 103.5,1099.0 103.6,1091.6 103.8,1088.3 103.9,1094.1 104.0,1089.8 104.1,1095.5 104.2,1089.3 104.4,1093.3 104.5,1093.0 104.6,1093.9 104.7,1092.0 104.8,1090.8 105.0,1094.1 105.1,1092.0 105.2,1095.2 105.3,1093.5 105.4,1085.4 105.6,1094.6 105.7,1100.7 105.8,1096.3 105.9,1097.7 106.0,1097.2 106.2,1093.5 106.3,1090.0 106.4,1099.0 106.5,1100.1 106.6,1098.2 106.8,1097.7 106.9,1097.7 107.0,1096.0 107.1,1097.4 107.2,1096.4 107.4,1097.8 107.5,1092.7 107.6,1094.1 107.7,1099.1 107.8,1095.5 108.0,1087.2 108.1,1097.6 108.2,1087.9 108.3,1105.1 108.4,1100.4 108.6,1100.3 108.7,1095.0 108.8,1093.2 108.9,1097.0 109.0,1098.1 109.2,1095.0 109.3,1098.8 109.4,1101.1 109.5,1100.8 109.6,1094.4 109.8,1090.0 109.9,1098.8 110.0,1096.2 110.1,1100.7 110.2,1105.6 110.4,1105.7 110.5,1100.4 110.6,1103.8 110.7,1106.0 110.8,1099.8 111.0,1100.8 111.1,1103.2 111.2,1099.8 111.3,1098.1 111.4,1097.2 111.6,1100.3 111.7,1097.9 111.8,1103.6 111.9,1099.3 112.0,1106.5 112.2,1105.6 112.3,1096.1 112.4,1105.3 112.5,1099.6 112.6,1106.6 112.8,1103.4 112.9,1101.3 113.0,1104.2 113.1,1099.5 113.2,1103.1 113.4,1103.4 113.5,1101.5 113.6,1103.6 113.7,1098.4 113.8,1104.5 114.0,1097.8 114.1,1105.0 114.2,1104.5 114.3,1105.5 114.4,1100.8 114.6,1114.7 114.7,1102.3 114.8,1103.8 114.9,1100.5 115.0,1108.9 115.2,1101.8 115.3,1107.5 115.4,1100.2 115.5,1105.0 115.6,1102.5 115.8,1107.6 115.9,1103.0 116.0,1101.0 116.1,1106.1 116.2,1099.9 116.4,1100.9 116.5,1107.6 116.6,1097.7 116.7,1107.7 116.8,1103.4 117.0,1101.6 117.1,1106.1 117.2,1107.6 117.3,1103.1 117.4,1104.8 117.6,1108.5 117.7,1108.4 117.8,1105.5 117.9,1102.9 118.0,1102.4 118.2,1103.8 118.3,1108.6 118.4,1108.4 118.5,1107.4 118.6,1111.6 118.8,1105.4 118.9,1105.2 119.0,1105.3 119.1,1113.9 119.2,1099.3 119.4,1108.1 119.5,1108.7 119.6,1107.4 119.7,1115.9 119.8,1111.7 120.0,1110.3 120.1,1104.3 120.2,1109.5 120.3,1106.4 120.4,1108.0 120.6,1108.7 120.7,1106.3 120.8,1110.5 120.9,1114.2 121.0,1112.1 121.2,1109.2 121.3,1101.5 121.4,1112.6 121.5,1112.7 121.6,1108.1 121.8,1107.2 121.9,1111.4 122.0,1106.2 122.1,1112.1 122.2,1105.4 122.4,1106.1 122.5,1109.6 122.6,1104.4 122.7,1109.7 122.8,1111.7 123.0,1105.2 123.1,1113.3 123.2,1108.1 123.3,1112.2 123.4,1111.1 123.6,1108.8 123.7,1108.6 123.8,1104.5 123.9,1108.2 124.0,1108.0 124.2,1116.7 124.3,1114.6 124.4,1106.2 124.5,1114.0 124.6,1112.0 124.8,1110.0 124.9,1113.1 125.0,1114.3 125.1,1109.7 125.2,1110.8 125.4,1112.5 125.5,1108.6 125.6,1112.9 125.7,1112.1 125.8,1110.1 126.0,1109.7 126.1,1113.9 126.2,1116.0 126.3,1114.2 126.4,1110.3 126.6,1116.0 126.7,1114.1 126.8,1115.7 126.9,1117.8 127.0,1110.8 127.2,1113.6 127.3,1112.2 127.4,1111.4 127.5,1121.4 127.6,1117.9 127.8,1108.7 127.9,1116.4 128.0,1113.2 128.1,1119.1 128.2,1115.6 128.4,1114.9 128.5,1116.1 128.6,1117.1 128.7,1116.0 128.8,1115.3 129.0,1115.7 129.1,1118.1 129.2,1112.7 129.3,1116.6 129.4,1116.4 129.6,1115.3 129.7,1119.5 129.8,1112.9 129.9,1116.1 130.0,1114.6 130.2,1119.4 130.3,1116.2 130.4,1118.0 130.5,1119.3 130.6,1112.9 130.8,1119.8 130.9,1116.0 131.0,1117.7 131.1,1118.3 131.2,1121.5 131.4,1121.4 131.5,1124.9 131.6,1119.8 131.7,1117.8 131.8,1117.9 132.0,1121.8 132.1,1125.0 132.2,1121.1 132.3,1118.2 132.4,1121.1 132.6,1121.2 132.7,1120.6 132.8,1118.3 132.9,1112.6 133.0,1119.2 133.2,1124.4 133.3,1121.9 133.4,1114.3 133.5,1121.5 133.6,1115.7 133.8,1128.0 133.9,1122.5 134.0,1118.2 134.1,1124.7 134.2,1119.8 134.4,1124.2 134.5,1122.6 134.6,1119.0 134.7,1124.9 134.8,1118.8 135.0,1127.3 135.1,1123.4 135.2,1120.1 135.3,1117.8 135.4,1128.5 135.6,1128.1 135.7,1119.8 135.8,1128.8 135.9,1124.4 136.0,1123.3 136.2,1123.8 136.3,1123.3 136.4,1128.6 136.5,1124.8 136.6,1118.8 136.8,1130.9 136.9,1127.3 137.0,1121.4 137.1,1123.7 137.2,1122.1 137.4,1125.1 137.5,1126.2 137.6,1125.9 137.7,1123.4 137.8,1122.9 138.0,1128.0 138.1,1125.2 138.2,1132.4 138.3,1123.2 138.4,1128.1 138.6,1126.0 138.7,1123.7 138.8,1130.1 138.9,1126.5 139.0,1123.5 139.2,1125.3 139.3,1129.4 139.4,1122.8 139.5,1130.6 139.6,1128.6 139.8,1125.8 139.9,1130.8 140.0,1132.0 140.1,1128.7 140.2,1127.5 140.4,1132.5 140.5,1131.5 140.6,1124.5 140.7,1126.7 140.8,1126.7 141.0,1126.2 141.1,1123.1 141.2,1130.2 141.3,1127.9 141.4,1128.0 141.6,1131.8 141.7,1126.2 141.8,1127.7 141.9,1128.7 142.0,1126.7 142.2,1127.7 142.3,1130.3 142.4,1128.1 142.5,1132.0 142.6,1126.1 142.8,1128.9 142.9,1124.2 143.0,1128.0 143.1,1126.3 143.2,1132.2 143.4,1130.4 143.5,1129.6 143.6,1133.4 143.7,1132.2 143.8,1130.0 144.0,1125.9 144.1,1123.7 144.2,1127.7 144.3,1126.7 144.4,1125.7 144.6,1126.7 144.7,1122.6 144.8,1131.5 144.9,1123.9 145.0,1125.1 145.2,1128.5 145.3,1122.1 145.4,1129.2 145.5,1129.1 145.6,1125.3 145.8,1122.9 145.9,1124.5 146.0,1120.3 146.1,1129.3 146.2,1125.2 146.4,1122.7 146.5,1121.9 146.6,1125.8 146.7,1128.1 146.8,1119.8 147.0,1121.3 147.1,1117.5 147.2,1123.9 147.3,1121.9 147.4,1127.3 147.6,1119.8 147.7,1118.1 147.8,1116.4 147.9,1119.9 148.0,1111.6 148.2,1117.2 148.3,1114.1 148.4,1110.1 148.5,1106.7 148.6,1109.7 148.8,1108.7 148.9,1098.0 149.0,1096.0 149.1,1093.8 149.2,1079.7 149.4,1072.5 149.5,1059.8 149.6,1051.8 149.7,1039.1 149.8,1023.6 150.0,1006.6 150.1,986.7 150.2,969.2 150.3,951.8 150.4,939.0 150.6,918.0 150.7,902.1 150.8,896.4 150.9,889.7 151.0,884.1 151.2,889.2 151.3,903.4 151.4,916.0 151.5,928.3 151.6,950.0 151.8,967.7 151.9,989.8 152.0,1001.0 152.1,1023.0 152.2,1036.5 152.4,1045.5 152.5,1063.7 152.6,1073.5 152.7,1075.6 152.8,1092.9 153.0,1089.9 153.1,1095.8 153.2,1101.9 153.3,1108.6 153.4,1111.0 153.6,1111.5 153.7,1117.7 153.8,1116.7 153.9,1120.9 154.0,1126.2 154.2,1119.8 154.3,1112.9 154.4,1119.8 154.5,1118.8 154.6,1122.8 154.8,1123.4 154.9,1120.2 155.0,1121.0 155.1,1124.0 155.2,1124.6 155.4,1118.2 155.5,1128.7 155.6,1126.4 155.7,1126.6 155.8,1127.8 156.0,1124.3 156.1,1127.4 156.2,1130.7 156.3,1131.0 156.4,1129.5 156.6,1127.6 156.7,1126.3 156.8,1132.5 156.9,1130.5 157.0,1127.9 157.2,1123.2 157.3,1127.0 157.4,1124.2 157.5,1133.3 157.6,1130.5 157.8,1128.0 157.9,1129.4 158.0,1137.7 158.1,1133.9 158.2,1126.7 158.4,1130.3 158.5,1127.3 158.6,1126.0 158.7,1131.4 158.8,1137.8 159.0,1135.5 159.1,1131.3 159.2,1130.1 159.3,1131.8 159.4,1134.2 159.6,1127.2 159.7,1126.1 159.8,1136.7 159.9,1132.2 160.0,1136.0 160.2,1132.1 160.3,1135.6 160.4,1129.7 160.5,1132.8 160.6,1135.7 160.8,1134.2 160.9,1129.9 161.0,1133.6 161.1,1129.1 161.2,1126.8 161.4,1132.1 161.5,1134.3 161.6,1132.5 161.7,1126.2 161.8,1131.8 162.0,1130.8 162.1,1127.0 162.2,1120.7 162.3,1129.9 162.4,1128.7 162.6,1126.8 162.7,1119.6 162.8,1119.3 162.9,1125.4 163.0,1123.8 163.2,1122.1 163.3,1119.2 163.4,1120.5 163.5,1117.5 163.6,1118.1 163.8,1116.9 163.9,1120.7 164.0,1119.6 164.1,1124.4 164.2,1124.8 164.4,1121.6 164.5,1130.1 164.6,1122.8 164.7,1128.2 164.8,1130.9 165.0,1132.3 165.1,1123.3 165.2,1132.9 165.3,1134.1 165.4,1135.2 165.6,1125.5 165.7,1130.2 165.8,1132.2 165.9,1131.5 166.0,1136.7 166.2,1131.4 166.3,1136.9 166.4,1135.2 166.5,1129.9 166.6,1131.3 166.8,1132.9 166.9,1134.5 167.0,1137.1 167.1,1134.0 167.2,1137.1 167.4,1130.3 167.5,1126.4 167.6,1133.9 167.7,1136.1 167.8,1133.9 168.0,1132.2 168.1,1136.2 168.2,1140.3 168.3,1134.8 168.4,1133.1 168.6,1132.8 168.7,1140.5 168.8,1135.0 168.9,1136.7 169.0,1138.4 169.2,1137.9 169.3,1132.5 169.4,1137.5 169.5,1137.1 169.6,1136.1 169.8,1137.3 169.9,1133.0 170.0,1134.1 170.1,1132.7 170.2,1136.0 170.4,1131.9 170.5,1134.5 170.6,1130.2 170.7,1132.5 170.8,1131.6 171.0,1131.9 171.1,1132.2 171.2,1131.0 171.3,1130.5 171.4,1125.2 171.6,1133.5 171.7,1128.6 171.8,1129.4 171.9,1127.8 172.0,1132.7 172.2,1127.7 172.3,1131.7 172.4,1133.8 172.5,1135.4 172.6,1134.5 172.8,1133.4 172.9,1129.0 173.0,1136.1 173.1,1136.2 173.2,1135.7 173.4,1136.0 173.5,1134.4 173.6,1133.2 173.7,1137.7 173.8,1138.5 174.0,1132.6 174.1,1138.0 174.2,1136.5 174.3,1138.4 174.4,1136.9 174.6,1139.3 174.7,1139.2 174.8,1139.0 174.9,1133.2 175.0,1139.0 175.2,1137.1 175.3,1134.1 175.4,1139.0 175.5,1133.6 175.6,1139.6 175.8,1141.7 175.9,1136.0 176.0,1139.8 176.1,1138.6 176.2,1139.1 176.4,1134.0 176.5,1139.1 176.6,1137.9 176.7,1139.5 176.8,1137.6 177.0,1140.4 177.1,1138.3 177.2,1139.4 177.3,1141.2 177.4,1138.1 177.6,1140.2 177.7,1138.2 177.8,1139.0 177.9,1136.3 178.0,1139.6 178.2,1140.8 178.3,1137.4 178.4,1139.7 178.5,1138.7 178.6,1134.8 178.8,1138.5 178.9,1141.0 179.0,1136.3 179.1,1133.0 179.2,1138.1 179.4,1135.9 179.5,1142.3 179.6,1137.3 179.7,1137.4 179.8,1135.8 180.0,1138.0 180.1,1135.9 180.2,1135.0 180.3,1137.0 180.4,1135.1 180.6,1140.4 180.7,1134.1 180.8,1136.8 180.9,1135.1 181.0,1133.3 181.2,1140.9 181.3,1131.3 181.4,1140.2 181.5,1132.9 181.6,1136.6 181.8,1141.9 181.9,1130.7 182.0,1132.5 182.1,1139.1 182.2,1136.1 182.4,1134.1 182.5,1135.2 182.6,1132.7 182.7,1135.2 182.8,1138.4 183.0,1133.5 183.1,1134.5 183.2,1136.9 183.3,1138.5 183.4,1131.7 183.6,1133.6 183.7,1131.0 183.8,1130.3 183.9,1130.4 184.0,1129.3 184.2,1125.9 184.3,1124.5 184.4,1126.9 184.5,1128.1 184.6,1129.8 184.8,1124.1 184.9,1123.5 185.0,1123.7 185.1,1121.5 185.2,1116.4 185.4,1112.8 185.5,1113.0 185.6,1101.3 185.7,1093.4 185.8,1081.1 186.0,1075.5 186.1,1060.4 186.2,1051.3 186.3,1028.0 186.4,1012.9 186.6,994.2 186.7,977.7 186.8,951.9 186.9,948.1 187.0,936.1 187.2,935.6 187.3,941.7 187.4,953.9 187.5,970.5 187.6,982.9 187.8,1010.2 187.9,1026.9 188.0,1040.7 188.1,1058.0 188.2,1077.1 188.4,1082.6 188.5,1089.3 188.6,1101.7 188.7,1100.6 188.8,1106.4 189.0,1108.5 189.1,1111.5 189.2,1115.5 189.3,1116.0 189.4,1113.2 189.6,1114.9 189.7,1115.2 189.8,1113.5 189.9,1113.7 190.0,1110.9 190.2,1109.7 190.3,1110.2 190.4,1105.8 190.5,1107.7 190.6,1104.1 190.8,1100.2 190.9,1098.8 191.0,1097.1 191.1,1095.9 191.2,1094.9 191.4,1092.8 191.5,1090.2 191.6,1095.8 191.7,1094.6 191.8,1093.4 192.0,1096.8 192.1,1096.8 192.2,1097.1 192.3,1100.0 192.4,1108.6 192.6,1106.4 192.7,1108.4 192.8,1106.6 192.9,1110.7 193.0,1116.2 193.2,1112.9 193.3,1115.5 193.4,1116.8 193.5,1116.0 193.6,1118.7 193.8,1115.7 193.9,1116.5 194.0,1113.7 194.1,1121.5 194.2,1115.5 194.4,1114.5 194.5,1117.0 194.6,1111.6 194.7,1111.9 194.8,1109.0 195.0,1109.9 195.1,1107.6 195.2,1108.5 195.3,1105.4 195.4,1102.6 195.6,1101.6 195.7,1100.2 195.8,1097.3 195.9,1098.9 196.0,1096.1 196.2,1092.5 196.3,1086.9 196.4,1088.8 196.5,1081.9 196.6,1083.2 196.8,1080.4 196.9,1076.4 197.0,1073.4 197.1,1071.5 197.2,1076.5 197.4,1068.5 197.5,1066.9 197.6,1068.5 197.7,1065.8 197.8,1066.6 198.0,1060.0 198.1,1060.2 198.2,1071.9 198.3,1063.6 198.4,1063.8 198.6,1066.1 198.7,1069.8 198.8,1065.8 198.9,1071.6 199.0,1072.9 199.2,1076.9 199.3,1078.0 199.4,1078.6 199.5,1080.2 199.6,1078.7 199.8,1089.7 199.9,1086.0 200.0,1090.9 200.1,1098.3 200.2,1095.2 200.4,1099.7 200.5,1099.6 200.6,1103.5 200.7,1103.4 200.8,1103.4 201.0,1109.0 201.1,1106.0 201.2,1104.1 201.3,1107.0 201.4,1109.2 201.6,1105.1 201.7,1109.2 201.8,1108.4 201.9,1110.7 202.0,1102.8 202.2,1104.6 202.3,1097.6 202.4,1099.5 202.5,1100.1 202.6,1100.8 202.8,1100.4 202.9,1101.8 203.0,1102.8 203.1,1105.8 203.2,1110.5 203.4,1114.0 203.5,1117.0 203.6,1120.4 203.7,1123.2 203.8,1118.5 204.0,1123.4 204.1,1125.9 204.2,1126.3 204.3,1131.4 204.4,1131.9 204.6,1130.9 204.7,1132.3 204.8,1135.7 204.9,1132.7 205.0,1133.4 205.2,1136.7 205.3,1136.2 205.4,1138.7 205.5,1136.8 205.6,1138.0 205.8,1135.5 205.9,1134.9 206.0,1137.3 206.1,1131.7 206.2,1138.7 206.4,1140.2 206.5,1138.5 206.6,1138.0 206.7,1141.1 206.8,1138.8 207.0,1141.3 207.1,1144.1 207.2,1141.1 207.3,1141.7 207.4,1140.9 207.6,1140.5 207.7,1140.7 207.8,1140.4 207.9,1142.7 208.0,1137.0 208.2,1140.0 208.3,1142.2 208.4,1139.0 208.5,1140.7 208.6,1139.5 208.8,1142.1 208.9,1143.1 209.0,1144.5 209.1,1142.5 209.2,1140.0 209.4,1142.2 209.5,1142.9 209.6,1144.8 209.7,1137.2 209.8,1142.7 210.0,1138.0 210.1,1143.6 210.2,1143.1 210.3,1143.2 210.4,1144.1 210.6,1143.1 210.7,1140.9 210.8,1143.1 210.9,1145.0 211.0,1142.2 211.2,1142.5 211.3,1139.9 211.4,1145.0 211.5,1141.5 211.6,1141.0 211.8,1141.7 211.9,1140.8 212.0,1142.1 212.1,1145.4 212.2,1144.4 212.4,1145.8 212.5,1146.0 212.6,1140.9 212.7,1143.8 212.8,1146.0 213.0,1147.8 213.1,1139.8 213.2,1139.8 213.3,1143.9 213.4,1142.2 213.6,1140.8 213.7,1143.7 213.8,1141.2 213.9,1138.1 214.0,1142.9 214.2,1143.2 214.3,1144.3 214.4,1145.0 214.5,1143.3 214.6,1142.4 214.8,1141.5 214.9,1139.4 215.0,1142.0 215.1,1145.1 215.2,1144.3 215.4,1147.3 215.5,1142.6 215.6,1139.1 215.7,1144.6 215.8,1145.1 216.0,1140.4 216.1,1139.4 216.2,1143.1 216.3,1144.3 216.4,1140.4 216.6,1142.0 216.7,1141.1 216.8,1140.2 216.9,1139.9 217.0,1142.9 217.2,1141.8 217.3,1141.1 217.4,1137.0 217.5,1146.2 217.6,1140.4 217.8,1142.1 217.9,1140.0 218.0,1143.1 218.1,1139.1 218.2,1142.4 218.4,1141.8 218.5,1144.1 218.6,1139.7 218.7,1140.6 218.8,1141.4 219.0,1146.3 219.1,1138.7 219.2,1142.4 219.3,1140.3 219.4,1142.2 219.6,1142.9 219.7,1141.7 219.8,1141.9 219.9,1141.8 220.0,1139.9 220.2,1140.6 220.3,1137.4 220.4,1140.0 220.5,1139.0 220.6,1140.0 220.8,1142.0 220.9,1141.1 221.0,1141.1 221.1,1142.3 221.2,1134.7 221.4,1140.5 221.5,1139.4 221.6,1139.0 221.7,1136.2 221.8,1140.0 222.0,1141.0 222.1,1140.5 222.2,1137.8 222.3,1139.1 222.4,1139.4 222.6,1141.0 222.7,1139.4 222.8,1136.7 222.9,1136.3 223.0,1136.0 223.2,1135.7 223.3,1133.7 223.4,1136.0 223.5,1132.3 223.6,1131.5 223.8,1133.5 223.9,1130.8 224.0,1130.9 224.1,1126.3 224.2,1131.8 224.4,1129.3 224.5,1128.2 224.6,1128.7 224.7,1127.2 224.8,1124.3 225.0,1129.3 225.1,1122.9 225.2,1125.0 225.3,1125.7 225.4,1119.2 225.6,1119.5 225.7,1116.3 225.8,1119.1 225.9,1114.7 226.0,1111.6 226.2,1115.6 226.3,1113.3 226.4,1107.7 226.5,1110.9 226.6,1107.2 226.8,1111.5 226.9,1107.7 227.0,1101.0 227.1,1100.2 227.2,1097.5 227.4,1098.5 227.5,1097.0 227.6,1097.5 227.7,1095.0 227.8,1090.5 228.0,1091.3 228.1,1095.9 228.2,1094.9 228.3,1091.6 228.4,1091.6 228.6,1091.7 228.7,1092.5 228.8,1089.1 228.9,1095.8 229.0,1093.0 229.2,1095.8 229.3,1090.7 229.4,1098.4 229.5,1102.2 229.6,1095.4 229.8,1105.4 229.9,1104.5 230.0,1103.2 230.1,1102.8 230.2,1110.5 230.4,1110.0 230.5,1112.2 230.6,1111.7 230.7,1112.0 230.8,1117.1 231.0,1114.4 231.1,1119.8 231.2,1115.4 231.3,1118.3 231.4,1118.3 231.6,1125.5 231.7,1119.9 231.8,1122.3 231.9,1127.2 232.0,1127.2 232.2,1132.4 232.3,1132.5 232.4,1130.6 232.5,1131.5 232.6,1126.9 232.8,1129.6 232.9,1131.4 233.0,1132.4 233.1,1130.4 233.2,1131.9 233.4,1132.6 233.5,1137.2 233.6,1136.3 233.7,1135.1 233.8,1135.7 234.0,1137.3 234.1,1135.5 234.2,1136.8 234.3,1134.0 234.4,1139.4 234.6,1140.3 234.7,1139.3 234.8,1139.8 234.9,1139.8 235.0,1143.6 235.2,1139.9 235.3,1136.9 235.4,1137.7 235.5,1141.6 235.6,1142.5 235.8,1142.1 235.9,1142.4 236.0,1141.2 236.1,1137.8 236.2,1139.6 236.4,1137.4 236.5,1140.5 236.6,1138.6 236.7,1141.7 236.8,1141.3 237.0,1137.6 237.1,1143.4 237.2,1143.5 237.3,1139.1 237.4,1142.4 237.6,1143.7 237.7,1141.6 237.8,1144.1 237.9,1142.8 238.0,1144.7 238.2,1142.9 238.3,1142.3 238.4,1143.7 238.5,1144.4 238.6,1143.3 238.8,1141.9 238.9,1141.2 239.0,1142.1 239.1,1141.8 239.2,1143.4 239.4,1143.4 239.5,1142.9 239.6,1143.1 239.7,1143.5 239.8,1146.5 240.0,1145.7 240.1,1142.0 240.2,1144.2 240.3,1142.6 240.4,1143.1 240.6,1142.8 240.7,1142.1 240.8,1140.5 240.9,1138.2 241.0,1143.8 241.2,1145.9 241.3,1141.6 241.4,1144.5 241.5,1142.7 241.6,1144.1 241.8,1141.8 241.9,1143.0 242.0,1143.3 242.1,1138.5 242.2,1144.0 242.4,1143.2 242.5,1138.3 242.6,1144.9 242.7,1143.4 242.8,1143.9 243.0,1144.2 243.1,1142.6 243.2,1141.2 243.3,1142.5 243.4,1142.6 243.6,1148.1 243.7,1147.3 243.8,1142.4 243.9,1142.5 244.0,1144.1 244.2,1144.5 244.3,1141.9 244.4,1141.2 244.5,1147.3 244.6,1145.5 244.8,1140.0 244.9,1139.5 245.0,1141.4 245.1,1143.6 245.2,1144.3 245.4,1142.3 245.5,1139.6 245.6,1143.4 245.7,1144.2 245.8,1142.9 246.0,1141.8 246.1,1144.0 246.2,1142.6 246.3,1140.3 246.4,1142.8 246.6,1139.9 246.7,1144.6 246.8,1143.5 246.9,1140.3 247.0,1142.8 247.2,1144.9 247.3,1137.7 247.4,1141.8 247.5,1145.5 247.6,1138.7 247.8,1141.5 247.9,1138.8 248.0,1141.5 248.1,1136.5 248.2,1138.0 248.4,1140.2 248.5,1141.5 248.6,1141.9 248.7,1141.9 248.8,1143.3 249.0,1142.2 249.1,1142.2 249.2,1138.4 249.3,1140.0 249.4,1146.9 249.6,1144.8 249.7,1141.6 249.8,1141.2 249.9,1141.5 250.0,1138.3 250.2,1143.2 250.3,1137.9 250.4,1138.3 250.5,1142.9 250.6,1133.5 250.8,1138.5 250.9,1133.7 251.0,1135.7 251.1,1136.5 251.2,1135.6 251.4,1136.4 251.5,1133.9 251.6,1134.9 251.7,1132.1 251.8,1133.4 252.0,1130.7 252.1,1134.6 252.2,1129.8 252.3,1133.5 252.4,1130.4 252.6,1130.0 252.7,1132.5 252.8,1129.4 252.9,1124.2 253.0,1128.6 253.2,1120.2 253.3,1126.2 253.4,1123.7 253.5,1120.4 253.6,1122.6 253.8,1120.6 253.9,1124.6 254.0,1117.8 254.1,1121.8 254.2,1119.1 254.4,1113.1 254.5,1111.1 254.6,1114.4 254.7,1109.4 254.8,1108.4 255.0,1105.6 255.1,1101.6 255.2,1101.7 255.3,1098.4 255.4,1095.1 255.6,1096.0 255.7,1099.0 255.8,1096.7 255.9,1090.7 256.0,1089.2 256.2,1088.3 256.3,1088.6 256.4,1084.3 256.5,1080.8 256.6,1079.6 256.8,1082.0 256.9,1084.6 257.0,1075.7 257.1,1071.5 257.2,1078.1 257.4,1075.7 257.5,1076.3 257.6,1079.3 257.7,1076.9 257.8,1074.2 258.0,1073.6 258.1,1079.5 258.2,1078.1 258.3,1083.1 258.4,1080.9 258.6,1084.9 258.7,1084.0 258.8,1088.6 258.9,1090.3 259.0,1094.8 259.2,1098.5 259.3,1096.8 259.4,1097.2 259.5,1105.8 259.6,1103.9 259.8,1106.3 259.9,1108.1 260.0,1111.8 260.1,1112.5 260.2,1113.3 260.4,1115.1 260.5,1112.9 260.6,1114.9 260.7,1117.4 260.8,1119.2 261.0,1120.3 261.1,1122.2 261.2,1122.7 261.3,1122.8 261.4,1121.1 261.6,1127.6 261.7,1128.0 261.8,1125.6 261.9,1129.5 262.0,1130.1 262.2,1130.1 262.3,1126.5 262.4,1128.6 262.5,1130.6 262.6,1136.1 262.8,1131.2 262.9,1132.8 263.0,1131.6 263.1,1133.4 263.2,1135.7 263.4,1130.8 263.5,1129.5 263.6,1137.6 263.7,1136.6 263.8,1135.5 264.0,1139.2 264.1,1139.5 264.2,1133.1 264.3,1137.6 264.4,1140.6 264.6,1136.9 264.7,1137.9 264.8,1140.9 264.9,1138.4 265.0,1136.6 265.2,1137.9 265.3,1136.6 265.4,1140.9 265.5,1136.1 265.6,1142.1 265.8,1136.5 265.9,1140.3 266.0,1137.2 266.1,1139.8 266.2,1142.8 266.4,1143.1 266.5,1143.6 266.6,1140.7 266.7,1141.2 266.8,1141.5 267.0,1142.4 267.1,1140.3 267.2,1143.6 267.3,1142.0 267.4,1143.8 267.6,1142.5 267.7,1142.9 267.8,1139.9 267.9,1140.7 268.0,1138.8 268.2,1141.0 268.3,1141.3 268.4,1143.5 268.5,1139.0 268.6,1148.8 268.8,1141.5 268.9,1144.5 269.0,1144.0 269.1,1136.3 269.2,1141.2 269.4,1145.0 269.5,1136.5 269.6,1143.5 269.7,1139.8 269.8,1140.7 270.0,1142.2 270.1,1137.6 270.2,1142.1 270.3,1140.2 270.4,1139.9 270.6,1143.0 270.7,1149.1 270.8,1142.1 270.9,1142.5 271.0,1141.1 271.2,1139.5 271.3,1141.6 271.4,1144.2 271.5,1141.1 271.6,1142.5 271.8,1139.8 271.9,1145.6 272.0,1136.2 272.1,1140.7 272.2,1140.2 272.4,1139.1 272.5,1135.5 272.6,1134.8 272.7,1136.0 272.8,1135.8 273.0,1131.8 273.1,1130.9 273.2,1133.2 273.3,1133.0 273.4,1128.1 273.6,1126.6 273.7,1125.7 273.8,1132.5 273.9,1128.1 274.0,1127.4 274.2,1130.7 274.3,1134.6 274.4,1133.1 274.5,1128.3 274.6,1132.2 274.8,1132.3 274.9,1133.0 275.0,1131.6 275.1,1133.7 275.2,1132.4 275.4,1135.7 275.5,1135.1 275.6,1131.9 275.7,1131.2 275.8,1133.7 276.0,1136.1 276.1,1135.5 276.2,1134.0 276.3,1126.5 276.4,1132.5 276.6,1131.6 276.7,1132.1 276.8,1129.8 276.9,1131.2 277.0,1130.3 277.2,1137.4 277.3,1132.5 277.4,1130.1 277.5,1130.0 277.6,1129.4 277.8,1129.7 277.9,1127.9 278.0,1128.4 278.1,1130.4 278.2,1129.5 278.4,1128.0 278.5,1130.0 278.6,1127.2 278.7,1124.3 278.8,1122.3 279.0,1124.5 279.1,1125.8 279.2,1126.8 279.3,1128.3 279.4,1124.6 279.6,1124.1 279.7,1127.8 279.8,1128.8 279.9,1125.2 280.0,1127.2 280.2,1129.8 280.3,1127.7 280.4,1127.1 280.5,1122.8 280.6,1130.8 280.8,1129.5 280.9,1128.6 281.0,1127.6 281.1,1126.1 281.2,1129.0 281.4,1129.3 281.5,1132.2 281.6,1127.3 281.7,1133.5 281.8,1130.5 282.0,1133.3 282.1,1128.7 282.2,1131.8 282.3,1133.9 282.4,1131.6 282.6,1128.1 282.7,1130.7 282.8,1132.8 282.9,1128.5 283.0,1128.4 283.2,1132.1 283.3,1129.5 283.4,1133.1 283.5,1128.9 283.6,1127.3 283.8,1129.6 283.9,1134.5 284.0,1129.1 284.1,1130.8 284.2,1131.2 284.4,1128.3 284.5,1132.7 284.6,1130.4 284.7,1130.7 284.8,1125.6 285.0,1125.2 285.1,1122.5 285.2,1128.0 285.3,1127.5 285.4,1129.3 285.6,1130.7 285.7,1126.3 285.8,1125.8 285.9,1127.0 286.0,1129.0 286.2,1123.2 286.3,1126.0 286.4,1123.5 286.5,1122.8 286.6,1125.0 286.8,1120.8 286.9,1119.6 287.0,1123.1 287.1,1121.0 287.2,1119.9 287.4,1119.7 287.5,1120.6 287.6,1118.2 287.7,1120.3 287.8,1119.0 288.0,1121.1 288.1,1120.1 288.2,1118.8 288.3,1116.0 288.4,1116.4 288.6,1114.4 288.7,1122.2 288.8,1114.8 288.9,1116.4 289.0,1118.1 289.2,1111.7 289.3,1112.9 289.4,1113.9 289.5,1112.5 289.6,1112.0 289.8,1113.9 289.9,1118.3 290.0,1117.2 290.1,1115.8 290.2,1116.1 290.4,1112.6 290.5,1118.4 290.6,1118.2 290.7,1115.1 290.8,1118.6 291.0,1118.2 291.1,1117.9 291.2,1117.4 291.3,1118.6 291.4,1118.6 291.6,1122.4 291.7,1122.7 291.8,1123.2 291.9,1122.6 292.0,1122.7 292.2,1128.8 292.3,1120.5 292.4,1128.0 292.5,1126.7 292.6,1126.6 292.8,1125.8 292.9,1127.0 293.0,1125.3 293.1,1125.4 293.2,1128.8 293.4,1125.8 293.5,1131.9 293.6,1133.0 293.7,1123.2 293.8,1127.9 294.0,1132.5 294.1,1132.7 294.2,1132.9 294.3,1134.0 294.4,1135.1 294.6,1135.8 294.7,1138.2 294.8,1134.6 294.9,1136.8 295.0,1131.6 295.2,1135.2 295.3,1133.1 295.4,1139.2 295.5,1141.6 295.6,1137.9 295.8,1134.0 295.9,1136.9 296.0,1137.5 296.1,1138.1 296.2,1140.3 296.4,1140.2 296.5,1132.4 296.6,1141.5 296.7,1137.6 296.8,1137.6 297.0,1142.2 297.1,1138.6 297.2,1136.3 297.3,1136.6 297.4,1139.8 297.6,1141.8 297.7,1143.2 297.8,1139.7 297.9,1139.1 298.0,1143.9 298.2,1139.4 298.3,1143.7 298.4,1141.1 298.5,1141.2 298.6,1140.3 298.8,1141.5 298.9,1139.9 299.0,1139.5 299.1,1140.8 299.2,1139.7 299.4,1141.9 299.5,1141.5 299.6,1140.8 299.7,1141.0 299.8,1141.0 300.0,1145.3 300.1,1141.5 300.2,1140.3 300.3,1141.0 300.4,1143.1 300.6,1141.3 300.7,1141.4 300.8,1141.2 300.9,1142.2 301.0,1142.7 301.2,1142.8 301.3,1138.3 301.4,1139.5 301.5,1136.1 301.6,1143.7 301.8,1144.4 301.9,1144.8 302.0,1142.3 302.1,1144.5 302.2,1141.9 302.4,1141.7 302.5,1138.6 302.6,1140.3 302.7,1140.7 302.8,1144.0 303.0,1145.6 303.1,1140.9 303.2,1142.8 303.3,1142.6 303.4,1140.2 303.6,1138.1 303.7,1140.2 303.8,1138.7 303.9,1141.2 304.0,1141.5 304.2,1141.4 304.3,1141.4 304.4,1142.8 304.5,1139.7 304.6,1143.7 304.8,1138.0 304.9,1141.8 305.0,1142.5 305.1,1139.8 305.2,1138.0 305.4,1142.9 305.5,1140.0 305.6,1143.1 305.7,1143.1 305.8,1141.3 306.0,1141.3 306.1,1143.4 306.2,1142.0 306.3,1139.0 306.4,1141.4 306.6,1142.2 306.7,1141.4 306.8,1141.3 306.9,1140.5 307.0,1140.5 307.2,1138.6 307.3,1137.4 307.4,1143.0 307.5,1139.0 307.6,1140.8 307.8,1136.9 307.9,1140.5 308.0,1138.2 308.1,1146.5 308.2,1137.6 308.4,1137.6 308.5,1141.7 308.6,1142.0 308.7,1134.7 308.8,1139.8 309.0,1141.1 309.1,1136.3 309.2,1140.4 309.3,1137.5 309.4,1136.3 309.6,1137.6 309.7,1137.2 309.8,1135.0 309.9,1142.9 310.0,1136.7 310.2,1135.8 310.3,1139.2 310.4,1136.9 310.5,1139.9 310.6,1136.1 310.8,1137.2 310.9,1136.4 311.0,1136.3 311.1,1135.2 311.2,1135.1 311.4,1138.8 311.5,1133.2 311.6,1133.2 311.7,1133.3 311.8,1135.0 312.0,1134.3 312.1,1135.1 312.2,1129.5 312.3,1132.7 312.4,1131.2 312.6,1130.5 312.7,1131.0 312.8,1125.6 312.9,1130.1 313.0,1129.2 313.2,1124.9 313.3,1127.3 313.4,1130.3 313.5,1125.1 313.6,1126.5 313.8,1123.7 313.9,1121.5 314.0,1120.2 314.1,1120.4 314.2,1123.2 314.4,1120.9 314.5,1116.1 314.6,1118.7 314.7,1114.7 314.8,1111.9 315.0,1112.9 315.1,1108.1 315.2,1104.8 315.3,1109.7 315.4,1100.4 315.6,1104.0 315.7,1096.9 315.8,1098.2 315.9,1095.5 316.0,1092.5 316.2,1085.6 316.3,1088.1 316.4,1085.5 316.5,1080.5 316.6,1079.7 316.8,1079.4 316.9,1072.0 317.0,1071.3 317.1,1064.5 317.2,1065.2 317.4,1062.7 317.5,1064.3 317.6,1057.0 317.7,1052.7 317.8,1052.3 318.0,1043.1 318.1,1045.9 318.2,1039.1 318.3,1036.7 318.4,1039.4 318.6,1035.5 318.7,1037.2 318.8,1028.8 318.9,1033.0 319.0,1030.8 319.2,1031.8 319.3,1028.1 319.4,1036.9 319.5,1036.4 319.6,1035.0 319.8,1036.2 319.9,1039.9 320.0,1048.5 320.1,1047.3 320.2,1049.6 320.4,1054.9 320.5,1056.8 320.6,1060.5 320.7,1065.0 320.8,1067.2 321.0,1071.8 321.1,1069.7 321.2,1075.9 321.3,1077.9 321.4,1082.0 321.6,1084.5 321.7,1085.8 321.8,1089.2 321.9,1094.9 322.0,1093.8 322.2,1094.4 322.3,1101.2 322.4,1104.2 322.5,1103.3 322.6,1106.2 322.8,1105.8 322.9,1109.1 323.0,1113.9 323.1,1114.7 323.2,1114.7 323.4,1115.1 323.5,1113.3 323.6,1119.1 323.7,1120.7 323.8,1123.2 324.0,1126.5 324.1,1123.7 324.2,1126.0 324.3,1122.1 324.4,1128.3 324.6,1128.3 324.7,1130.2 324.8,1129.3 324.9,1129.5 325.0,1132.4 325.2,1128.1 325.3,1131.7 325.4,1133.2 325.5,1129.4 325.6,1129.1 325.8,1133.1 325.9,1132.8 326.0,1134.3 326.1,1134.8 326.2,1131.9 326.4,1134.8 326.5,1136.8 326.6,1133.8 326.7,1134.2 326.8,1132.6 327.0,1137.2 327.1,1140.0 327.2,1132.8 327.3,1137.7 327.4,1138.2 327.6,1135.1 327.7,1135.6 327.8,1134.2 327.9,1134.9 328.0,1137.1 328.2,1138.1 328.3,1136.9 328.4,1138.3 328.5,1136.6 328.6,1132.9 328.8,1137.8 328.9,1135.4 329.0,1127.9 329.1,1128.4 329.2,1118.3 329.4,1111.8 329.5,1117.5 329.6,1114.3 329.7,1123.3 329.8,1133.3 330.0,1134.1 330.1,1134.2 330.2,1140.8 330.3,1139.2 330.4,1135.8 330.6,1137.5 330.7,1141.2 330.8,1143.5 330.9,1135.3 331.0,1140.5 331.2,1139.3 331.3,1136.4 331.4,1140.0 331.5,1137.0 331.6,1139.4 331.8,1144.3 331.9,1142.0 332.0,1142.6 332.1,1142.3 332.2,1141.8 332.4,1143.3 332.5,1138.6 332.6,1140.5 332.7,1143.2 332.8,1139.8 333.0,1140.5 333.1,1144.2 333.2,1144.9 333.3,1140.2 333.4,1139.8 333.6,1143.0 333.7,1142.3 333.8,1140.2 333.9,1143.1 334.0,1143.0 334.2,1142.0 334.3,1148.4 334.4,1144.9 334.5,1143.7 334.6,1144.2 334.8,1148.6 334.9,1144.5 335.0,1140.4 335.1,1142.8 335.2,1142.2 335.4,1140.8 335.5,1142.7 335.6,1142.7 335.7,1142.0 335.8,1141.1 336.0,1144.0 336.1,1138.6 336.2,1144.0 336.3,1142.2 336.4,1142.8 336.6,1136.9 336.7,1146.0 336.8,1138.4 336.9,1140.3 337.0,1143.6 337.2,1140.9 337.3,1141.3 337.4,1137.2 337.5,1141.2 337.6,1142.7 337.8,1143.7 337.9,1141.5 338.0,1142.7 338.1,1143.1 338.2,1140.6 338.4,1140.5 338.5,1146.5 338.6,1140.2 338.7,1144.8 338.8,1142.2 339.0,1145.3 339.1,1140.6 339.2,1143.1 339.3,1142.7 339.4,1141.4 339.6,1142.6 339.7,1140.1 339.8,1141.6 339.9,1140.9 340.0,1143.4 340.2,1141.5 340.3,1138.5 340.4,1140.8 340.5,1141.3 340.6,1139.5 340.8,1144.4 340.9,1142.3 341.0,1143.2 341.1,1139.5 341.2,1140.2 341.4,1143.2 341.5,1137.7 341.6,1141.6 341.7,1140.8 341.8,1139.3 342.0,1140.4 342.1,1137.6 342.2,1140.3 342.3,1136.8 342.4,1136.4 342.6,1142.1 342.7,1137.1 342.8,1133.5 342.9,1140.1 343.0,1135.7 343.2,1129.0 343.3,1136.3 343.4,1138.0 343.5,1136.1 343.6,1138.5 343.8,1133.6 343.9,1134.5 344.0,1130.0 344.1,1131.7 344.2,1133.9 344.4,1130.5 344.5,1128.7 344.6,1122.6 344.7,1125.1 344.8,1121.7 345.0,1125.2 345.1,1120.3 345.2,1121.5 345.3,1116.8 345.4,1122.1 345.6,1113.4 345.7,1114.9 345.8,1119.2 345.9,1111.9 346.0,1107.7 346.2,1109.7 346.3,1109.1 346.4,1107.2 346.5,1098.9 346.6,1102.8 346.8,1095.7 346.9,1104.3 347.0,1098.7 347.1,1096.3 347.2,1098.2 347.4,1097.0 347.5,1092.3 347.6,1098.8 347.7,1094.0 347.8,1090.2 348.0,1098.0 348.1,1098.7 348.2,1098.4 348.3,1097.3 348.4,1094.6 348.6,1099.9 348.7,1103.2 348.8,1101.8 348.9,1104.9 349.0,1100.5 349.2,1106.2 349.3,1107.4 349.4,1103.0 349.5,1104.1 349.6,1107.8 349.8,1111.1 349.9,1113.5 350.0,1113.3 350.1,1115.0 350.2,1116.3 350.4,1118.0 350.5,1120.4 350.6,1121.4 350.7,1121.2 350.8,1123.0 351.0,1122.3 351.1,1126.1 351.2,1123.9 351.3,1129.6 351.4,1126.4 351.6,1127.6 351.7,1125.7 351.8,1127.0 351.9,1128.5 352.0,1128.4 352.2,1127.1 352.3,1125.9 352.4,1128.7 352.5,1128.8 352.6,1129.5 352.8,1130.9 352.9,1127.0 353.0,1122.7 353.1,1126.5 353.2,1122.1 353.4,1122.7 353.5,1127.4 353.6,1125.6 353.7,1122.0 353.8,1121.1 354.0,1121.5 354.1,1116.6 354.2,1120.8 354.3,1117.8 354.4,1121.8 354.6,1113.8 354.7,1117.4 354.8,1112.1 354.9,1114.8 355.0,1108.7 355.2,1111.4 355.3,1107.2 355.4,1104.8 355.5,1104.9 355.6,1104.9 355.8,1103.3 355.9,1104.6 356.0,1101.2 356.1,1091.3 356.2,1095.2 356.4,1089.8 356.5,1092.3 356.6,1093.3 356.7,1087.1 356.8,1086.1 357.0,1088.0 357.1,1085.7 357.2,1089.2 357.3,1084.9 357.4,1084.4 357.6,1086.5 357.7,1080.0 357.8,1080.5 357.9,1077.4 358.0,1080.0 358.2,1081.5 358.3,1082.1 358.4,1078.4 358.5,1076.7 358.6,1076.7 358.8,1075.3 358.9,1079.5 359.0,1083.1 359.1,1074.4 359.2,1075.6 359.4,1085.4 359.5,1078.8 359.6,1084.7 359.7,1081.9 359.8,1088.2 360.0,1089.4 360.1,1089.3 360.2,1092.3 360.3,1091.8 360.4,1094.6 360.6,1099.2 360.7,1098.9 360.8,1096.2 360.9,1097.5 361.0,1100.4 361.2,1102.0 361.3,1104.4 361.4,1104.3 361.5,1108.9 361.6,1109.0 361.8,1111.3 361.9,1111.9 362.0,1114.8 362.1,1112.0 362.2,1119.9 362.4,1118.4 362.5,1120.0 362.6,1121.7 362.7,1124.0 362.8,1124.5 363.0,1124.5 363.1,1124.7 363.2,1122.4 363.3,1127.7 363.4,1127.5 363.6,1128.5 363.7,1135.5 363.8,1126.8 363.9,1131.9 364.0,1135.3 364.2,1135.5 364.3,1136.8 364.4,1131.9 364.5,1133.2 364.6,1137.3 364.8,1135.8 364.9,1140.8 365.0,1138.0 365.1,1138.4 365.2,1139.4 365.4,1138.2 365.5,1139.4 365.6,1138.0 365.7,1139.7 365.8,1139.1 366.0,1140.9 366.1,1137.5 366.2,1137.6 366.3,1142.1 366.4,1141.7 366.6,1139.3 366.7,1141.0 366.8,1139.4 366.9,1146.2 367.0,1138.4 367.2,1145.6 367.3,1140.1 367.4,1142.8 367.5,1141.3 367.6,1141.0 367.8,1143.8 367.9,1143.4 368.0,1140.7 368.1,1139.1 368.2,1145.3 368.4,1143.4 368.5,1140.0 368.6,1138.2 368.7,1138.3 368.8,1136.2 369.0,1136.3 369.1,1128.0 369.2,1125.3 369.3,1116.7 369.4,1112.9 369.6,1104.3 369.7,1091.1 369.8,1089.0 369.9,1094.8 370.0,1099.5 370.2,1108.0 370.3,1121.3 370.4,1126.9 370.5,1130.3 370.6,1137.6 370.8,1137.4 370.9,1134.7 371.0,1140.7 371.1,1140.7 371.2,1145.7 371.4,1142.2 371.5,1142.2 371.6,1144.0 371.7,1144.0 371.8,1140.7 372.0,1144.2 372.1,1143.5 372.2,1147.4 372.3,1149.7 372.4,1142.3 372.6,1142.8 372.7,1143.1 372.8,1143.7 372.9,1143.7 373.0,1145.4 373.2,1147.7 373.3,1142.6 373.4,1142.2 373.5,1141.6 373.6,1148.0 373.8,1148.5 373.9,1142.5 374.0,1142.3 374.1,1146.1 374.2,1148.3 374.4,1148.1 374.5,1146.4 374.6,1147.5 374.7,1146.8 374.8,1145.0 375.0,1150.2 375.1,1146.2 375.2,1143.9 375.3,1145.3 375.4,1143.0 375.6,1146.4 375.7,1148.7 375.8,1143.7 375.9,1148.8 376.0,1150.9 376.2,1147.3 376.3,1144.0 376.4,1144.7 376.5,1145.9 376.6,1143.9 376.8,1144.0 376.9,1146.1 377.0,1146.3 377.1,1148.0 377.2,1144.2 377.4,1150.7 377.5,1149.0 377.6,1148.7 377.7,1145.4 377.8,1150.5 378.0,1146.1 378.1,1150.7 378.2,1149.1 378.3,1145.0 378.4,1145.9 378.6,1150.9 378.7,1149.1 378.8,1146.6 378.9,1147.4 379.0,1147.4 379.2,1145.4 379.3,1146.6 379.4,1145.6 379.5,1146.1 379.6,1148.0 379.8,1145.0 379.9,1148.6 380.0,1147.3 380.1,1148.7 380.2,1149.0 380.4,1149.8 380.5,1148.5 380.6,1148.7 380.7,1146.8 380.8,1148.4 381.0,1145.3 381.1,1146.7 381.2,1148.8 381.3,1147.1 381.4,1148.2 381.6,1145.0 381.7,1150.2 381.8,1146.1 381.9,1148.1 382.0,1147.3 382.2,1149.3 382.3,1146.5 382.4,1145.2 382.5,1143.4 382.6,1146.7 382.8,1144.9 382.9,1148.5 383.0,1150.4 383.1,1142.7 383.2,1144.7 383.4,1148.1 383.5,1150.0 383.6,1148.1 383.7,1148.1 383.8,1148.5 384.0,1148.7 384.1,1150.9 384.2,1148.8 384.3,1144.9 384.4,1146.5 384.6,1148.0 384.7,1145.8 384.8,1147.0 384.9,1146.4 385.0,1146.1 385.2,1149.0 385.3,1146.8 385.4,1145.3 385.5,1146.1 385.6,1147.7 385.8,1152.0 385.9,1148.1 386.0,1150.7 386.1,1148.6 386.2,1143.1 386.4,1148.4 386.5,1145.9 386.6,1144.8 386.7,1145.4 386.8,1151.4 387.0,1144.4 387.1,1146.4 387.2,1150.1 387.3,1149.1 387.4,1144.1 387.6,1147.4 387.7,1146.6 387.8,1147.3 387.9,1149.3 388.0,1146.5 388.2,1147.0 388.3,1150.7 388.4,1143.9 388.5,1146.9 388.6,1148.7 388.8,1145.1 388.9,1146.4 389.0,1145.0 389.1,1148.0 389.2,1146.4 389.4,1149.4 389.5,1149.8 389.6,1147.8 389.7,1146.9 389.8,1148.3 390.0,1147.8 390.1,1145.2 390.2,1150.0 390.3,1148.2 390.4,1149.4 390.6,1144.9 390.7,1149.5 390.8,1152.1 390.9,1149.0 391.0,1144.7 391.2,1147.8 391.3,1147.6 391.4,1148.2 391.5,1147.2 391.6,1148.7 391.8,1146.7 391.9,1148.2 392.0,1146.3 392.1,1147.9 392.2,1149.8 392.4,1146.7 392.5,1149.1 392.6,1145.8 392.7,1146.9 392.8,1147.2 393.0,1150.2 393.1,1146.1 393.2,1150.2 393.3,1144.6 393.4,1147.3 393.6,1149.5 393.7,1149.1 393.8,1145.5 393.9,1145.1 394.0,1149.4 394.2,1145.0 394.3,1148.8 394.4,1146.5 394.5,1147.5 394.6,1152.3 394.8,1150.7 394.9,1149.2 395.0,1144.6 395.1,1148.1 395.2,1147.5 395.4,1147.2 395.5,1150.1 395.6,1143.7 395.7,1147.9 395.8,1147.5 396.0,1145.6 396.1,1150.7 396.2,1144.5 396.3,1147.1 396.4,1147.2 396.6,1142.4 396.7,1143.9 396.8,1144.8 396.9,1148.4 397.0,1148.7 397.2,1147.9 397.3,1147.1 397.4,1141.9 397.5,1146.8 397.6,1145.2 397.8,1148.6 397.9,1148.9 398.0,1150.6 398.1,1147.3 398.2,1147.4 398.4,1143.3 398.5,1145.4 398.6,1142.4 398.7,1146.6 398.8,1141.8 399.0,1143.4 399.1,1141.6 399.2,1141.8 399.3,1143.0 399.4,1140.1 399.6,1140.8 399.7,1137.2 399.8,1141.2 399.9,1135.8 400.0,1138.4 400.2,1140.1 400.3,1129.9 400.4,1133.1 400.5,1135.3 400.6,1139.0 400.8,1136.3 400.9,1139.1 401.0,1137.7 401.1,1141.2 401.2,1138.2 401.4,1143.1 401.5,1135.5 401.6,1138.2 401.7,1146.4 401.8,1143.2 402.0,1141.0 402.1,1147.8 402.2,1145.4 402.3,1145.6 402.4,1142.3 402.6,1144.5 402.7,1144.2 402.8,1139.5 402.9,1144.2 403.0,1142.5 403.2,1145.5 403.3,1145.4 403.4,1141.1 403.5,1141.0 403.6,1142.6 403.8,1143.4 403.9,1140.9 404.0,1141.4 404.1,1142.7 404.2,1142.1 404.4,1143.5 404.5,1141.2 404.6,1138.6 404.7,1136.4 404.8,1141.7 405.0,1139.0 405.1,1138.6 405.2,1138.5 405.3,1135.4 405.4,1137.6 405.6,1132.5 405.7,1136.9 405.8,1135.5 405.9,1141.2 406.0,1137.8 406.2,1136.0 406.3,1136.4 406.4,1137.3 406.5,1133.7 406.6,1134.4 406.8,1133.8 406.9,1139.7 407.0,1133.9 407.1,1129.0 407.2,1134.7 407.4,1138.3 407.5,1130.0 407.6,1139.5 407.7,1131.1 407.8,1133.0 408.0,1129.1 408.1,1129.3 408.2,1126.6 408.3,1126.5 408.4,1123.5 408.6,1130.4 408.7,1124.7 408.8,1127.5 408.9,1126.9 409.0,1124.0 409.2,1125.0 409.3,1124.0 409.4,1122.5 409.5,1123.0 409.6,1122.3 409.8,1119.1 409.9,1117.8 410.0,1118.0 410.1,1119.5 410.2,1121.7 410.4,1121.1 410.5,1117.5 410.6,1118.2 410.7,1115.4 410.8,1116.8 411.0,1113.7 411.1,1113.4 411.2,1110.9 411.3,1110.6 411.4,1114.2 411.6,1105.9 411.7,1107.8 411.8,1105.4 411.9,1108.2 412.0,1109.3 412.2,1103.2 412.3,1096.3 412.4,1103.6 412.5,1102.6 412.6,1096.1 412.8,1098.6 412.9,1098.1 413.0,1091.7 413.1,1098.1 413.2,1096.6 413.4,1095.3 413.5,1091.2 413.6,1091.2 413.7,1090.6 413.8,1092.6 414.0,1088.2 414.1,1093.5 414.2,1090.1 414.3,1083.1 414.4,1092.1 414.6,1087.7 414.7,1085.4 414.8,1086.6 414.9,1081.3 415.0,1085.9 415.2,1078.9 415.3,1082.2 415.4,1088.0 415.5,1087.6 415.6,1083.4 415.8,1081.7 415.9,1086.5 416.0,1084.0 416.1,1084.7 416.2,1085.9 416.4,1081.8 416.5,1086.8 416.6,1079.7 416.7,1089.1 416.8,1081.8 417.0,1084.6 417.1,1085.0 417.2,1089.0 417.3,1089.7 417.4,1089.3 417.6,1090.4 417.7,1090.9 417.8,1090.3 417.9,1086.4 418.0,1086.2 418.2,1087.0 418.3,1093.5 418.4,1093.9 418.5,1095.0 418.6,1096.9 418.8,1096.6 418.9,1095.7 419.0,1095.4 419.1,1095.4 419.2,1104.0 419.4,1104.2 419.5,1099.6 419.6,1103.3 419.7,1106.0 419.8,1109.9 420.0,1105.5 420.1,1108.4 420.2,1111.7 420.3,1105.7 420.4,1109.1 420.6,1111.8 420.7,1111.1 420.8,1118.9 420.9,1116.8 421.0,1116.2 421.2,1114.3 421.3,1119.6 421.4,1119.9 421.5,1118.1 421.6,1119.2 421.8,1117.6 421.9,1121.7 422.0,1124.8 422.1,1125.9 422.2,1125.7 422.4,1127.0 422.5,1124.5 422.6,1125.5 422.7,1130.1 422.8,1129.0 423.0,1126.8 423.1,1130.5 423.2,1131.9 423.3,1132.2 423.4,1131.5 423.6,1130.6 423.7,1133.3 423.8,1136.8 423.9,1133.8 424.0,1132.4 424.2,1135.3 424.3,1132.1 424.4,1135.9 424.5,1135.2 424.6,1138.5 424.8,1137.0 424.9,1139.5 425.0,1142.7 425.1,1137.4 425.2,1136.3 425.4,1139.6 425.5,1138.7 425.6,1139.5 425.7,1138.1 425.8,1141.0 426.0,1140.2 426.1,1135.4 426.2,1140.0 426.3,1141.5 426.4,1143.6 426.6,1139.9 426.7,1139.6 426.8,1144.1 426.9,1140.4 427.0,1142.1 427.2,1143.1 427.3,1143.8 427.4,1142.3 427.5,1139.9 427.6,1144.8 427.8,1141.6 427.9,1141.5 428.0,1147.2 428.1,1144.7 428.2,1140.4 428.4,1141.7 428.5,1142.2 428.6,1141.1 428.7,1138.4 428.8,1144.4 429.0,1144.2 429.1,1142.8 429.2,1141.2 429.3,1142.2 429.4,1142.8 429.6,1138.5 429.7,1139.4 429.8,1138.1 429.9,1139.9 430.0,1137.6 430.2,1132.6 430.3,1132.4 430.4,1135.8 430.5,1127.5 430.6,1127.9 430.8,1124.3 430.9,1127.4 431.0,1123.9 431.1,1123.6 431.2,1123.2 431.4,1127.3 431.5,1132.0 431.6,1133.8 431.7,1131.4 431.8,1139.7 432.0,1137.3 432.1,1136.9 432.2,1140.6 432.3,1139.9 432.4,1140.8 432.6,1141.3 432.7,1143.0 432.8,1142.6 432.9,1140.3 433.0,1145.5 433.2,1143.4 433.3,1147.4 433.4,1146.2 433.5,1146.5 433.6,1145.7 433.8,1148.3 433.9,1144.9 434.0,1143.5 434.1,1146.6 434.2,1140.0 434.4,1145.2 434.5,1146.5 434.6,1145.2 434.7,1148.9 434.8,1147.8 435.0,1146.6 435.1,1145.5 435.2,1148.8 435.3,1145.0 435.4,1145.7 435.6,1148.2 435.7,1148.0 435.8,1151.1 435.9,1146.3 436.0,1142.7 436.2,1148.3 436.3,1149.6 436.4,1146.6 436.5,1150.3 436.6,1150.8 436.8,1145.6 436.9,1146.0 437.0,1144.4 437.1,1148.3 437.2,1148.7 437.4,1148.5 437.5,1144.5 437.6,1145.6 437.7,1144.2 437.8,1143.8 438.0,1144.4 438.1,1143.9 438.2,1147.0 438.3,1148.3 438.4,1148.7 438.6,1147.4 438.7,1146.0 438.8,1147.4 438.9,1148.7 439.0,1146.9 439.2,1147.6 439.3,1146.9 439.4,1146.4 439.5,1147.6 439.6,1145.2 439.8,1149.9 439.9,1144.3 440.0,1148.6 440.1,1144.7 440.2,1150.9 440.4,1149.5 440.5,1145.9 440.6,1146.7 440.7,1145.2 440.8,1147.5 441.0,1148.5 441.1,1153.1 441.2,1144.7 441.3,1150.3 441.4,1146.4 441.6,1148.3 441.7,1149.5 441.8,1148.8 441.9,1148.6 442.0,1147.2 442.2,1147.6 442.3,1148.0 442.4,1150.2 442.5,1144.5 442.6,1146.6 442.8,1145.0 442.9,1145.6 443.0,1145.9 443.1,1150.0 443.2,1152.3 443.4,1150.6 443.5,1145.1 443.6,1147.8 443.7,1145.2 443.8,1148.6 444.0,1150.4 444.1,1148.9 444.2,1149.5 444.3,1147.3 444.4,1143.4 444.6,1143.3 444.7,1147.4 444.8,1148.8 444.9,1150.3 445.0,1146.8 445.2,1147.7 445.3,1148.1 445.4,1149.9 445.5,1147.4 445.6,1145.2 445.8,1149.9 445.9,1148.4 446.0,1148.4 446.1,1144.8 446.2,1147.5 446.4,1143.8 446.5,1143.2 446.6,1147.0 446.7,1146.6 446.8,1148.7 447.0,1150.6 447.1,1147.4 447.2,1151.4 447.3,1146.2 447.4,1149.1 447.6,1144.7 447.7,1147.7 447.8,1146.7 447.9,1147.0 448.0,1148.7 448.2,1143.3 448.3,1147.7 448.4,1145.6 448.5,1147.6 448.6,1148.2 448.8,1146.6 448.9,1146.5 449.0,1144.8 449.1,1148.5 449.2,1145.9 449.4,1148.3 449.5,1144.2 449.6,1150.3 449.7,1145.1 449.8,1149.8 450.0,1146.3 450.1,1148.4 450.2,1146.9 450.3,1148.7 450.4,1147.2 450.6,1150.0 450.7,1148.7 450.8,1148.7 450.9,1150.8 451.0,1145.6 451.2,1150.0 451.3,1147.3 451.4,1143.9 451.5,1148.1 451.6,1146.6 451.8,1150.8 451.9,1146.0 452.0,1147.1 452.1,1147.5 452.2,1142.8 452.4,1148.1 452.5,1144.7 452.6,1150.0 452.7,1150.5 452.8,1146.8 453.0,1143.3 453.1,1147.2 453.2,1147.2 453.3,1148.3 453.4,1146.0 453.6,1144.0 453.7,1146.3 453.8,1144.5 453.9,1150.5 454.0,1144.9 454.2,1145.0 454.3,1146.3 454.4,1143.6 454.5,1145.3 454.6,1145.9 454.8,1145.0 454.9,1145.5 455.0,1148.7 455.1,1146.8 455.2,1142.8 455.4,1144.7 455.5,1147.2 455.6,1144.0 455.7,1145.4 455.8,1145.0 456.0,1146.1 456.1,1144.4 456.2,1144.3 456.3,1142.4 456.4,1145.0 456.6,1141.8 456.7,1147.6 456.8,1143.4 456.9,1142.6 457.0,1144.7 457.2,1142.4 457.3,1142.5 457.4,1141.9 457.5,1140.2 457.6,1139.5 457.8,1139.8 457.9,1143.8 458.0,1139.7 458.1,1140.1 458.2,1140.0 458.4,1142.6 458.5,1145.6 458.6,1139.2 458.7,1142.7 458.8,1141.9 459.0,1141.2 459.1,1143.2 459.2,1139.5 459.3,1144.5 459.4,1143.4 459.6,1140.8 459.7,1146.9 459.8,1145.5 459.9,1146.4 460.0,1140.7 460.2,1143.6 460.3,1143.2 460.4,1145.9 460.5,1147.7 460.6,1140.5 460.8,1145.0 460.9,1144.8 461.0,1147.4 461.1,1145.2 461.2,1142.5 461.4,1145.0 461.5,1143.1 461.6,1143.8 461.7,1145.7 461.8,1144.6 462.0,1146.3 462.1,1142.3 462.2,1151.1 462.3,1148.8 462.4,1147.7 462.6,1143.2 462.7,1141.4 462.8,1144.4 462.9,1145.9 463.0,1151.4 463.2,1149.5 463.3,1145.5 463.4,1149.4 463.5,1149.5 463.6,1146.9 463.8,1149.6 463.9,1147.7 464.0,1145.6 464.1,1144.5 464.2,1146.9 464.4,1149.4 464.5,1144.4 464.6,1143.9 464.7,1148.6 464.8,1141.6 465.0,1151.5 465.1,1146.7 465.2,1149.3 465.3,1151.8 465.4,1144.7 465.6,1145.6 465.7,1152.8 465.8,1147.4 465.9,1147.8 466.0,1148.6 466.2,1150.4 466.3,1151.1 466.4,1148.5 466.5,1147.7 466.6,1148.3 466.8,1149.1 466.9,1151.3 467.0,1148.9 467.1,1152.5 467.2,1146.9 467.4,1149.9 467.5,1152.5 467.6,1151.6 467.7,1149.6 467.8,1147.2 468.0,1147.6 468.1,1148.8 468.2,1149.8 468.3,1148.7 468.4,1146.3 468.6,1147.8 468.7,1150.4 468.8,1151.1 468.9,1146.6 469.0,1148.8 469.2,1146.2 469.3,1148.5 469.4,1156.9 469.5,1149.9 469.6,1149.1 469.8,1148.7 469.9,1147.5 470.0,1146.3 470.1,1149.9 470.2,1149.4 470.4,1152.9 470.5,1146.6 470.6,1150.8 470.7,1152.6 470.8,1145.9 471.0,1151.2 471.1,1146.6 471.2,1150.9 471.3,1152.8 471.4,1149.8 471.6,1150.4 471.7,1148.4 471.8,1150.3 471.9,1152.0 472.0,1149.3 472.2,1149.4 472.3,1150.5 472.4,1151.3 472.5,1146.3 472.6,1149.7 472.8,1148.2 472.9,1150.6 473.0,1151.7 473.1,1150.2 473.2,1152.2 473.4,1147.5 473.5,1148.7 473.6,1147.5 473.7,1149.6 473.8,1149.6 474.0,1149.0 474.1,1146.9 474.2,1149.2 474.3,1148.5 474.4,1150.6 474.6,1148.8 474.7,1151.7 474.8,1149.8 474.9,1145.4 475.0,1148.9 475.2,1146.3 475.3,1151.2 475.4,1152.1 475.5,1149.1 475.6,1150.1 475.8,1146.1 475.9,1144.5 476.0,1147.9 476.1,1148.5 476.2,1145.9 476.4,1149.2 476.5,1149.6 476.6,1150.3 476.7,1152.2 476.8,1150.6 477.0,1148.1 477.1,1149.1 477.2,1150.1 477.3,1146.7 477.4,1151.6 477.6,1150.7 477.7,1148.3 477.8,1147.4 477.9,1156.7 478.0,1150.5 478.2,1150.6 478.3,1152.4 478.4,1150.7 478.5,1149.0 478.6,1150.0 478.8,1146.6 478.9,1150.0 479.0,1145.2 479.1,1149.3 479.2,1149.6 479.4,1145.1 479.5,1152.4 479.6,1145.9 479.7,1150.5 479.8,1147.1 480.0,1148.9 480.1,1146.8 480.2,1153.4 480.3,1150.3 480.4,1151.9 480.6,1149.7 480.7,1149.4 480.8,1148.2 480.9,1147.3 481.0,1149.1 481.2,1148.1 481.3,1147.4 481.4,1144.7 481.5,1146.9 481.6,1148.8 481.8,1146.4 481.9,1148.0 482.0,1146.9 482.1,1144.9 482.2,1145.1 482.4,1145.3 482.5,1146.1 482.6,1146.1 482.7,1148.9 482.8,1144.0 483.0,1141.7 483.1,1147.4 483.2,1144.7 483.3,1145.1 483.4,1150.6 483.6,1147.9 483.7,1145.5 483.8,1145.8 483.9,1143.3 484.0,1144.5 484.2,1140.1 484.3,1138.9 484.4,1138.3 484.5,1141.6 484.6,1140.1 484.8,1133.6 484.9,1135.9 485.0,1131.2 485.1,1132.4 485.2,1127.8 485.4,1129.7 485.5,1126.8 485.6,1126.6 485.7,1128.0 485.8,1129.6 486.0,1129.5 486.1,1129.3 486.2,1138.0 486.3,1134.8 486.4,1133.1 486.6,1133.4 486.7,1133.3 486.8,1139.3 486.9,1144.6 487.0,1138.6 487.2,1142.1 487.3,1139.2 487.4,1146.3 487.5,1145.0 487.6,1145.2 487.8,1147.7 487.9,1148.6 488.0,1147.4 488.1,1143.9 488.2,1142.4 488.4,1143.1 488.5,1141.6 488.6,1149.7 488.7,1145.3 488.8,1146.1 489.0,1146.3 489.1,1150.4 489.2,1144.6 489.3,1148.6 489.4,1146.7 489.6,1145.6 489.7,1141.7 489.8,1148.1 489.9,1144.3 490.0,1145.0 490.2,1146.6 490.3,1146.3 490.4,1148.6 490.5,1144.5 490.6,1146.4 490.8,1146.7 490.9,1146.1 491.0,1147.6 491.1,1145.5 491.2,1148.8 491.4,1144.4 491.5,1142.7 491.6,1145.9 491.7,1148.7 491.8,1144.8 492.0,1144.5 492.1,1145.2 492.2,1146.3 492.3,1145.5 492.4,1146.6 492.6,1141.9 492.7,1149.3 492.8,1147.2 492.9,1143.9 493.0,1149.0 493.2,1146.8 493.3,1149.2 493.4,1143.0 493.5,1149.6 493.6,1145.8 493.8,1140.9 493.9,1147.4 494.0,1145.0 494.1,1143.3 494.2,1145.1 494.4,1141.1 494.5,1146.9 494.6,1145.0 494.7,1144.9 494.8,1148.8 495.0,1145.6 495.1,1143.9 495.2,1143.2 495.3,1145.2 495.4,1147.8 495.6,1143.9 495.7,1142.8 495.8,1147.4 495.9,1145.3 496.0,1145.0 496.2,1150.0 496.3,1142.1 496.4,1145.4 496.5,1140.7 496.6,1144.2 496.8,1146.2 496.9,1147.5 497.0,1141.7 497.1,1146.7 497.2,1146.5 497.4,1144.3 497.5,1150.4 497.6,1144.5 497.7,1142.3 497.8,1145.4 498.0,1139.9 498.1,1148.0 498.2,1146.6 498.3,1143.2 498.4,1145.6 498.6,1145.4 498.7,1148.7 498.8,1142.5 498.9,1140.8 499.0,1138.9 499.2,1143.1 499.3,1139.9 499.4,1143.3 499.5,1144.6 499.6,1142.5 499.8,1141.2 499.9,1146.4 500.0,1142.9 500.1,1143.9 500.2,1145.6 500.4,1140.0 500.5,1140.8 500.6,1149.2 500.7,1142.6 500.8,1140.3 501.0,1142.2 501.1,1141.3 501.2,1139.6 501.3,1141.6 501.4,1142.4 501.6,1142.4 501.7,1143.7 501.8,1137.9 501.9,1138.4 502.0,1144.0 502.2,1140.8 502.3,1144.9 502.4,1142.5 502.5,1138.1 502.6,1142.9 502.8,1138.9 502.9,1142.0 503.0,1144.3 503.1,1146.4 503.2,1140.8 503.4,1142.6 503.5,1141.5 503.6,1142.6 503.7,1134.0 503.8,1139.4 504.0,1141.0 504.1,1141.3 504.2,1138.0 504.3,1141.9 504.4,1142.5 504.6,1139.7 504.7,1138.8 504.8,1138.4 504.9,1139.5 505.0,1142.0 505.2,1142.7 505.3,1137.6 505.4,1136.2 505.5,1136.5 505.6,1140.9 505.8,1138.8 505.9,1138.9 506.0,1139.3 506.1,1138.9 506.2,1137.6 506.4,1135.1 506.5,1136.1 506.6,1138.0 506.7,1138.7 506.8,1136.6 507.0,1136.5 507.1,1141.1 507.2,1136.4 507.3,1138.3 507.4,1136.9 507.6,1135.6 507.7,1134.0 507.8,1136.6 507.9,1136.0 508.0,1140.4 508.2,1135.3 508.3,1137.3 508.4,1140.2 508.5,1138.3 508.6,1140.0 508.8,1141.0 508.9,1134.7 509.0,1138.0 509.1,1136.8 509.2,1142.8 509.4,1139.2 509.5,1140.8 509.6,1144.0 509.7,1138.9 509.8,1140.1 510.0,1141.1 510.1,1139.5 510.2,1143.4 510.3,1142.4 510.4,1143.0 510.6,1140.7 510.7,1139.8 510.8,1139.8 510.9,1139.9 511.0,1136.8 511.2,1141.9 511.3,1143.1 511.4,1141.1 511.5,1140.0 511.6,1141.4 511.8,1142.0 511.9,1142.3 512.0,1146.1 512.1,1139.5 512.2,1142.6 512.4,1143.5 512.5,1142.0 512.6,1141.3 512.7,1139.4 512.8,1140.5 513.0,1143.8 513.1,1145.7 513.2,1140.5 513.3,1143.4 513.4,1143.6 513.6,1144.8 513.7,1143.0 513.8,1143.5 513.9,1144.7 514.0,1139.6 514.2,1142.7 514.3,1138.2 514.4,1137.8 514.5,1140.6 514.6,1138.9 514.8,1144.0 514.9,1145.2 515.0,1142.1 515.1,1142.5 515.2,1142.3 515.4,1142.3 515.5,1143.3 515.6,1143.9 515.7,1141.9 515.8,1141.2 516.0,1141.8 516.1,1145.1 516.2,1142.2 516.3,1146.7 516.4,1142.7 516.6,1146.6 516.7,1140.4 516.8,1141.6 516.9,1144.5 517.0,1144.6 517.2,1143.0 517.3,1148.4 517.4,1143.7 517.5,1144.2 517.6,1142.2 517.8,1147.6 517.9,1145.7 518.0,1144.6 518.1,1139.7 518.2,1144.5 518.4,1142.5 518.5,1144.5 518.6,1145.8 518.7,1141.8 518.8,1144.1 519.0,1145.7 519.1,1143.9 519.2,1142.7 519.3,1140.9 519.4,1141.9 519.6,1140.4 519.7,1145.9 519.8,1143.7 519.9,1140.5 520.0,1143.4 520.2,1140.3 520.3,1135.4 520.4,1146.3 520.5,1146.2 520.6,1139.8 520.8,1141.6 520.9,1143.8 521.0,1142.4 521.1,1141.2 521.2,1142.0 521.4,1142.7 521.5,1141.9 521.6,1143.8 521.7,1142.7 521.8,1141.4 522.0,1143.3 522.1,1139.2 522.2,1146.7 522.3,1138.9 522.4,1142.9 522.6,1144.0 522.7,1144.1 522.8,1143.7 522.9,1146.2 523.0,1140.3 523.2,1142.9 523.3,1143.4 523.4,1141.8 523.5,1141.6 523.6,1146.1 523.8,1141.2 523.9,1141.8 524.0,1142.3 524.1,1142.4 524.2,1143.3 524.4,1142.4 524.5,1143.8 524.6,1143.2 524.7,1144.0 524.8,1146.2 525.0,1140.8 525.1,1146.9 525.2,1141.7 525.3,1144.4 525.4,1143.2 525.6,1142.0 525.7,1137.9 525.8,1146.7 525.9,1140.9 526.0,1140.8 526.2,1145.3 526.3,1142.8 526.4,1147.3 526.5,1146.8 526.6,1144.4 526.8,1143.2 526.9,1144.5 527.0,1139.3 527.1,1143.0 527.2,1142.9 527.4,1141.4 527.5,1143.1 527.6,1138.9 527.7,1144.7 527.8,1145.6 528.0,1139.3 528.1,1142.8 528.2,1146.2 528.3,1143.4 528.4,1139.8 528.6,1139.9 528.7,1144.5 528.8,1146.9 528.9,1139.6 529.0,1142.4 529.2,1140.4 529.3,1141.6 529.4,1143.0 529.5,1142.1 529.6,1140.5 529.8,1147.4 529.9,1141.8 530.0,1141.7 530.1,1144.9 530.2,1142.2 530.4,1141.6 530.5,1144.5 530.6,1139.5 530.7,1143.9 530.8,1144.6 531.0,1143.7 531.1,1141.6 531.2,1142.0 531.3,1137.7 531.4,1141.7 531.6,1142.7" fill="none" stroke="#000" stroke-width="1.55" stroke-linejoin="round"/><g fill="#000"><circle cx="151.5" cy="872.1" r="3.1"/><circle cx="172.0" cy="1122.4" r="3.1"/><circle cx="187.1" cy="919.0" r="3.1"/><circle cx="198.4" cy="1047.6" r="3.1"/><circle cx="228.4" cy="1078.0" r="3.1"/><circle cx="257.2" cy="1062.0" r="3.1"/><circle cx="280.4" cy="1114.2" r="3.1"/><circle cx="289.4" cy="1101.7" r="3.1"/><circle cx="318.2" cy="1017.0" r="3.1"/><circle cx="347.8" cy="1079.2" r="3.1"/><circle cx="357.8" cy="1064.3" r="3.1"/><circle cx="415.9" cy="1070.9" r="3.1"/><path d="M207.7 1079.9L211.9 1084.6L207.7 1089.3L203.5 1084.6Z"/><path d="M270.4 1113.5L274.6 1118.2L270.4 1122.9L266.2 1118.2Z"/><path d="M330.6 1095.3L334.8 1100.0L330.6 1104.7L326.4 1100.0Z"/><path d="M369.8 1070.3L374.0 1075.0L369.8 1079.7L365.6 1075.0Z"/><path d="M399.8 1117.0L404.0 1121.7L399.8 1126.4L395.6 1121.7Z"/><path d="M431.6 1107.1L435.8 1111.8L431.6 1116.5L427.4 1111.8Z"/><path d="M485.5 1109.3L489.7 1114.0L485.5 1118.7L481.3 1114.0Z"/><circle cx="164.80" cy="1104.40" r="1.95"/><circle cx="162.05" cy="1108.20" r="1.95"/><circle cx="167.55" cy="1108.20" r="1.95"/><circle cx="164.80" cy="1106.80" r="1.85"/><path d="M164.30 1107.70L165.30 1107.70L165.90 1111.20L163.70 1111.20Z"/></g><rect x="354.8" y="843.2" width="165.6" height="61.1" fill="#fff" stroke="#444" stroke-width="1"/><g fill="#000"><circle cx="378.7" cy="854.4" r="2.2"/><circle cx="380.70" cy="872.76" r="1.56"/><circle cx="378.50" cy="875.80" r="1.56"/><circle cx="382.90" cy="875.80" r="1.56"/><circle cx="380.70" cy="874.68" r="1.48"/><path d="M380.30 875.40L381.10 875.40L381.58 878.20L379.82 878.20Z"/><path d="M381.3 891.6L384.0 895.3L381.3 899.0L378.6 895.3Z"/></g><g font-family="'Liberation Serif', 'Times New Roman', serif" font-size="13.2" fill="#111" stroke="#111" stroke-width="0.25"><text x="391.6" y="858.1">m-ZrO<tspan font-size="8.8" dy="3">2</tspan><tspan dy="-3"> (PDF#37-1484)</tspan></text><text x="392.5" y="878.8">t-ZrO<tspan font-size="8.8" dy="3">2</tspan><tspan dy="-3"> (PDF#50-1089)</tspan></text><text x="392.5" y="899.0">Zr (PDF#05-0665)</text></g><text x="258.5" y="947.4" font-family="'Liberation Sans', Arial, sans-serif" font-weight="bold" font-size="14.8" fill="#111">HT-WC 500h + AO 30h + HT-WC 500h</text>
</svg></body></html>
